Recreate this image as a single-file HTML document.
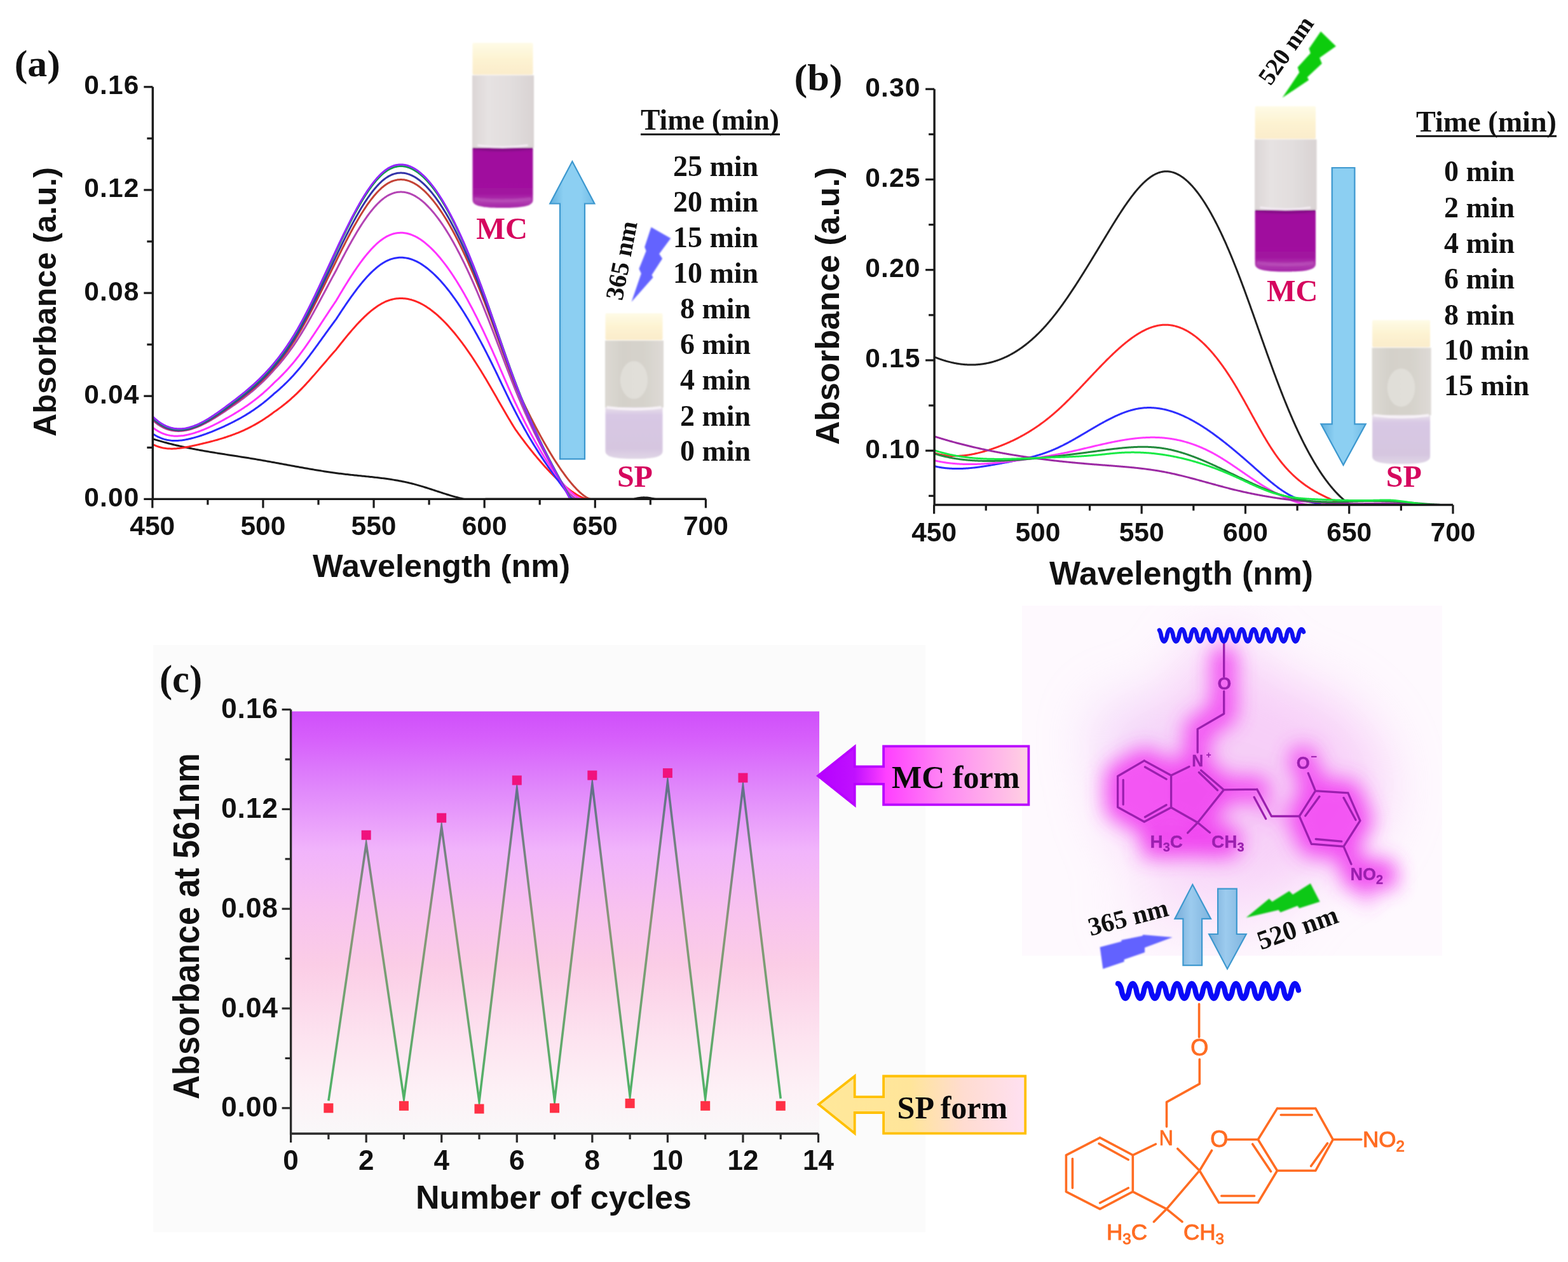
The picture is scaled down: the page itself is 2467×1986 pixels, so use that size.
<!DOCTYPE html>
<html><head><meta charset="utf-8"><title>Spiropyran photoswitching UV-vis figure</title>
<style>html,body{margin:0;padding:0;background:#fff;}body{width:2467px;height:1986px;overflow:hidden;}svg{display:block;}</style>
</head><body>
<svg xmlns="http://www.w3.org/2000/svg" width="2467" height="1986" viewBox="0 0 2467 1986">
<defs>
<linearGradient id="capG" x1="0" y1="0" x2="0" y2="1">
  <stop offset="0" stop-color="#fefbe6"/><stop offset="0.5" stop-color="#fdf3d2"/><stop offset="1" stop-color="#fbeccb"/>
</linearGradient>
<linearGradient id="glassG" x1="0" y1="0" x2="1" y2="0">
  <stop offset="0" stop-color="#dcd6d6"/><stop offset="0.25" stop-color="#e6e2e2"/><stop offset="0.6" stop-color="#e2dede"/><stop offset="1" stop-color="#d9d3d3"/>
</linearGradient>
<linearGradient id="glassSP" x1="0" y1="0" x2="1" y2="0">
  <stop offset="0" stop-color="#dcd9d3"/><stop offset="0.3" stop-color="#d4d1ca"/><stop offset="0.7" stop-color="#d6d3cc"/><stop offset="1" stop-color="#dedad6"/>
</linearGradient>
<linearGradient id="liqMC" x1="0" y1="0" x2="0" y2="1">
  <stop offset="0" stop-color="#8e0a90"/><stop offset="0.08" stop-color="#a0109e"/><stop offset="0.75" stop-color="#a1129f"/><stop offset="0.9" stop-color="#b03cb0"/><stop offset="1" stop-color="#a524a8"/>
</linearGradient>
<linearGradient id="liqSP" x1="0" y1="0" x2="0" y2="1">
  <stop offset="0" stop-color="#e8e0ea"/><stop offset="0.15" stop-color="#d8c8e4"/><stop offset="0.8" stop-color="#d6c6e0"/><stop offset="1" stop-color="#e0d6e6"/>
</linearGradient>
<linearGradient id="arrG" x1="0" y1="0" x2="1" y2="0">
  <stop offset="0" stop-color="#62b0de"/><stop offset="0.3" stop-color="#8ccff2"/><stop offset="0.7" stop-color="#8ccff2"/><stop offset="1" stop-color="#72bce6"/>
</linearGradient>
<filter id="soft1" x="-5%" y="-5%" width="110%" height="110%"><feGaussianBlur stdDeviation="0.8"/></filter>

<linearGradient id="plotC" x1="0" y1="0" x2="0" y2="1">
  <stop offset="0" stop-color="#cf4ffa"/><stop offset="0.06" stop-color="#d65efb"/><stop offset="0.18" stop-color="#e087fb"/>
  <stop offset="0.33" stop-color="#f1b4fb"/><stop offset="0.47" stop-color="#f8c2ef"/><stop offset="0.6" stop-color="#fbcde6"/>
  <stop offset="0.78" stop-color="#fde4f0"/><stop offset="0.9" stop-color="#fdf1f6"/><stop offset="1" stop-color="#f9f8f9"/>
</linearGradient>
<linearGradient id="lineC" gradientUnits="userSpaceOnUse" x1="0" y1="1210" x2="0" y2="1745">
  <stop offset="0" stop-color="#5d6c8c"/><stop offset="0.45" stop-color="#8a9678"/><stop offset="1" stop-color="#4cb466"/>
</linearGradient>
<linearGradient id="mcCall" gradientUnits="userSpaceOnUse" x1="1284" y1="0" x2="1619" y2="0">
  <stop offset="0" stop-color="#b400ff"/><stop offset="0.18" stop-color="#c010ff"/><stop offset="0.33" stop-color="#ff40ff"/>
  <stop offset="0.6" stop-color="#ff88f4"/><stop offset="1" stop-color="#ffd2e2"/>
</linearGradient>
<linearGradient id="spCall" gradientUnits="userSpaceOnUse" x1="1284" y1="0" x2="1614" y2="0">
  <stop offset="0" stop-color="#ffe89a"/><stop offset="0.45" stop-color="#ffe59a"/><stop offset="0.7" stop-color="#ffdcd0"/><stop offset="1" stop-color="#ffe0f2"/>
</linearGradient>

<filter id="glowBig" x="-50%" y="-50%" width="200%" height="200%"><feGaussianBlur stdDeviation="45"/></filter>
<filter id="glowMid" x="-50%" y="-50%" width="200%" height="200%"><feGaussianBlur stdDeviation="16"/></filter>
<filter id="glowNear" x="-50%" y="-50%" width="200%" height="200%"><feGaussianBlur stdDeviation="7"/></filter>
<clipPath id="mcBox"><rect x="1608" y="953" width="661" height="551"/></clipPath>
<linearGradient id="arrG2" x1="0" y1="0" x2="1" y2="0">
  <stop offset="0" stop-color="#78acd8"/><stop offset="0.45" stop-color="#9ccbee"/><stop offset="1" stop-color="#7fb4de"/>
</linearGradient>
</defs>
<rect width="2467" height="1986" fill="#ffffff"/>
<rect x="241" y="1015" width="1215" height="924" fill="#fbfbfb"/>
<rect x="457.6" y="1119.5" width="831.42" height="664.5" fill="url(#plotC)"/>
<path d="M516.88,1732.3 L576.16,1328.17 L635.44,1728.77 L694.72,1301.12 L754,1733.48 L813.28,1241.93 L872.56,1732.3 L931.84,1234.09 L991.12,1724.85 L1050.4,1230.56 L1109.68,1728.77 L1168.96,1238.01 L1228.24,1728.77" fill="none" stroke="url(#lineC)" stroke-width="3.6" stroke-linejoin="miter" stroke-miterlimit="20"/>
<rect x="509.38" y="1736.3" width="15" height="15" fill="#ff3045"/>
<rect x="568.66" y="1306.67" width="15" height="15" fill="#f0127e"/>
<rect x="627.94" y="1732.77" width="15" height="15" fill="#ff3045"/>
<rect x="687.22" y="1279.62" width="15" height="15" fill="#f0127e"/>
<rect x="746.5" y="1737.48" width="15" height="15" fill="#ff3045"/>
<rect x="805.78" y="1220.43" width="15" height="15" fill="#f0127e"/>
<rect x="865.06" y="1736.3" width="15" height="15" fill="#ff3045"/>
<rect x="924.34" y="1212.59" width="15" height="15" fill="#f0127e"/>
<rect x="983.62" y="1728.85" width="15" height="15" fill="#ff3045"/>
<rect x="1042.9" y="1209.06" width="15" height="15" fill="#f0127e"/>
<rect x="1102.18" y="1732.77" width="15" height="15" fill="#ff3045"/>
<rect x="1161.46" y="1216.51" width="15" height="15" fill="#f0127e"/>
<rect x="1220.74" y="1732.77" width="15" height="15" fill="#ff3045"/>
<path d="M457.6,1116.6 V1784 H1287.52" fill="none" stroke="#2a2a2a" stroke-width="3.4"/>
<line x1="443.6" y1="1743.8" x2="457.6" y2="1743.8" stroke="#2a2a2a" stroke-width="3.2" />
<line x1="448.6" y1="1665.4" x2="457.6" y2="1665.4" stroke="#2a2a2a" stroke-width="3.2" />
<line x1="443.6" y1="1587" x2="457.6" y2="1587" stroke="#2a2a2a" stroke-width="3.2" />
<line x1="448.6" y1="1508.6" x2="457.6" y2="1508.6" stroke="#2a2a2a" stroke-width="3.2" />
<line x1="443.6" y1="1430.2" x2="457.6" y2="1430.2" stroke="#2a2a2a" stroke-width="3.2" />
<line x1="448.6" y1="1351.8" x2="457.6" y2="1351.8" stroke="#2a2a2a" stroke-width="3.2" />
<line x1="443.6" y1="1273.4" x2="457.6" y2="1273.4" stroke="#2a2a2a" stroke-width="3.2" />
<line x1="448.6" y1="1195" x2="457.6" y2="1195" stroke="#2a2a2a" stroke-width="3.2" />
<line x1="443.6" y1="1116.6" x2="457.6" y2="1116.6" stroke="#2a2a2a" stroke-width="3.2" />
<line x1="457.6" y1="1784" x2="457.6" y2="1798" stroke="#2a2a2a" stroke-width="3.2" />
<line x1="516.88" y1="1784" x2="516.88" y2="1793" stroke="#2a2a2a" stroke-width="3.2" />
<line x1="576.16" y1="1784" x2="576.16" y2="1798" stroke="#2a2a2a" stroke-width="3.2" />
<line x1="635.44" y1="1784" x2="635.44" y2="1793" stroke="#2a2a2a" stroke-width="3.2" />
<line x1="694.72" y1="1784" x2="694.72" y2="1798" stroke="#2a2a2a" stroke-width="3.2" />
<line x1="754" y1="1784" x2="754" y2="1793" stroke="#2a2a2a" stroke-width="3.2" />
<line x1="813.28" y1="1784" x2="813.28" y2="1798" stroke="#2a2a2a" stroke-width="3.2" />
<line x1="872.56" y1="1784" x2="872.56" y2="1793" stroke="#2a2a2a" stroke-width="3.2" />
<line x1="931.84" y1="1784" x2="931.84" y2="1798" stroke="#2a2a2a" stroke-width="3.2" />
<line x1="991.12" y1="1784" x2="991.12" y2="1793" stroke="#2a2a2a" stroke-width="3.2" />
<line x1="1050.4" y1="1784" x2="1050.4" y2="1798" stroke="#2a2a2a" stroke-width="3.2" />
<line x1="1109.68" y1="1784" x2="1109.68" y2="1793" stroke="#2a2a2a" stroke-width="3.2" />
<line x1="1168.96" y1="1784" x2="1168.96" y2="1798" stroke="#2a2a2a" stroke-width="3.2" />
<line x1="1228.24" y1="1784" x2="1228.24" y2="1793" stroke="#2a2a2a" stroke-width="3.2" />
<line x1="1287.52" y1="1784" x2="1287.52" y2="1798" stroke="#2a2a2a" stroke-width="3.2" />
<text x="437.8" y="1757.3" font-family="'Liberation Sans', Arial, sans-serif" font-size="44.5" font-weight="bold" fill="#111" text-anchor="end" letter-spacing="0.8">0.00</text>
<text x="437.8" y="1600.5" font-family="'Liberation Sans', Arial, sans-serif" font-size="44.5" font-weight="bold" fill="#111" text-anchor="end" letter-spacing="0.8">0.04</text>
<text x="437.8" y="1443.7" font-family="'Liberation Sans', Arial, sans-serif" font-size="44.5" font-weight="bold" fill="#111" text-anchor="end" letter-spacing="0.8">0.08</text>
<text x="437.8" y="1286.9" font-family="'Liberation Sans', Arial, sans-serif" font-size="44.5" font-weight="bold" fill="#111" text-anchor="end" letter-spacing="0.8">0.12</text>
<text x="437.8" y="1130.1" font-family="'Liberation Sans', Arial, sans-serif" font-size="44.5" font-weight="bold" fill="#111" text-anchor="end" letter-spacing="0.8">0.16</text>
<text x="457.6" y="1841" font-family="'Liberation Sans', Arial, sans-serif" font-size="44" font-weight="bold" fill="#111" text-anchor="middle" >0</text>
<text x="576.16" y="1841" font-family="'Liberation Sans', Arial, sans-serif" font-size="44" font-weight="bold" fill="#111" text-anchor="middle" >2</text>
<text x="694.72" y="1841" font-family="'Liberation Sans', Arial, sans-serif" font-size="44" font-weight="bold" fill="#111" text-anchor="middle" >4</text>
<text x="813.28" y="1841" font-family="'Liberation Sans', Arial, sans-serif" font-size="44" font-weight="bold" fill="#111" text-anchor="middle" >6</text>
<text x="931.84" y="1841" font-family="'Liberation Sans', Arial, sans-serif" font-size="44" font-weight="bold" fill="#111" text-anchor="middle" >8</text>
<text x="1050.4" y="1841" font-family="'Liberation Sans', Arial, sans-serif" font-size="44" font-weight="bold" fill="#111" text-anchor="middle" >10</text>
<text x="1168.96" y="1841" font-family="'Liberation Sans', Arial, sans-serif" font-size="44" font-weight="bold" fill="#111" text-anchor="middle" >12</text>
<text x="1287.52" y="1841" font-family="'Liberation Sans', Arial, sans-serif" font-size="44" font-weight="bold" fill="#111" text-anchor="middle" >14</text>
<text x="654" y="1902.3" font-family="'Liberation Sans', Arial, sans-serif" font-size="52" font-weight="bold" fill="#111" text-anchor="start" textLength="434" lengthAdjust="spacingAndGlyphs">Number of cycles</text>
<text transform="translate(313.3,1730) rotate(-90)" font-family="'Liberation Sans', Arial, sans-serif" font-size="56.5" font-weight="bold" fill="#111" textLength="545" lengthAdjust="spacingAndGlyphs">Absorbance at 561nm</text>
<text x="251" y="1089" font-family="'Liberation Serif', 'Times New Roman', serif" font-size="62" font-weight="bold" fill="#111" text-anchor="start" textLength="67" lengthAdjust="spacingAndGlyphs">(c)</text>
<rect x="1608" y="953" width="661" height="551" fill="#fef9fe"/>
<g clip-path="url(#mcBox)">
<g filter="url(#glowBig)" opacity="0.5"><ellipse cx="1960" cy="1235" rx="220" ry="170" fill="#f0a4f2"/><ellipse cx="1925" cy="1090" rx="70" ry="90" fill="#f0a4f2"/><ellipse cx="1790" cy="1160" rx="70" ry="60" fill="#e8b0f4"/><ellipse cx="1900" cy="1430" rx="130" ry="45" fill="#f6d0f6"/></g>
<g filter="url(#glowMid)" opacity="0.95"><polygon points="1800.3,1197.1 1842.6,1220.3 1842.6,1270.7 1800.3,1293.3 1758.6,1270.2 1758.6,1221.5" fill="#f248f2" stroke="none" stroke-width="0" /><polygon points="1842.6,1220.3 1884.5,1207 1925.5,1242.9 1884.4,1294.5 1842.6,1270.7" fill="#f248f2" stroke="none" stroke-width="0" /><polygon points="2044.3,1284.5 2069.6,1244.6 2120.9,1247.8 2139.9,1291.5 2114,1332.1 2063.3,1328.2" fill="#f248f2" stroke="none" stroke-width="0" /><path d="M1800.3,1197.1 L1842.6,1220.3 M1842.6,1220.3 L1842.6,1270.7 M1842.6,1270.7 L1800.3,1293.3 M1800.3,1293.3 L1758.6,1270.2 M1758.6,1270.2 L1758.6,1221.5 M1758.6,1221.5 L1800.3,1197.1 M1801.5,1207 L1835.1,1226.1 M1767.2,1227.3 L1767.2,1266.1 M1801.5,1285.8 L1835.1,1266.7 M1842.6,1220.3 L1871,1206.4 M1889.6,1212.3 L1925.5,1242.9 M1886.4,1215.5 L1915.5,1243.5 M1925.5,1242.9 L1884.4,1294.5 M1842.6,1270.7 L1884.4,1294.5 M1884.4,1294.5 L1868.7,1310.7 M1884.4,1294.5 L1903.5,1310.2 M1925.7,1035 L1925.7,1065 M1925.7,1088 L1925.7,1123.2 M1925.7,1123.2 L1884.2,1147.4 M1884.2,1147.4 L1884.2,1184 M1925.5,1242.9 L1977.7,1242.1 M2044.3,1284.5 L2069.6,1244.6 M2069.6,1244.6 L2120.9,1247.8 M2120.9,1247.8 L2139.9,1291.5 M2139.9,1291.5 L2114,1332.1 M2114,1332.1 L2063.3,1328.2 M2063.3,1328.2 L2044.3,1284.5 M2053.8,1283.9 L2075.9,1253.5 M2114,1255.4 L2133,1290.2 M2070.2,1320.5 L2110.8,1324.2 M2069.6,1244.6 L2058.2,1216.7 M2114,1332.1 L2126,1359.9" stroke="#f248f2" stroke-width="40" stroke-linecap="round" fill="none"/><path d="M1975,1245 L2000,1282" stroke="#f248f2" stroke-width="16" stroke-linecap="round" fill="none" opacity="0.6"/><circle cx="2050" cy="1196" r="22" fill="#f248f2"/><text x="1810" y="1334" font-family="'Liberation Sans', Arial, sans-serif" font-size="30" fill="#f040f0" stroke="#f040f0" stroke-width="30">H3C CH3</text><text x="2124" y="1385" font-family="'Liberation Sans', Arial, sans-serif" font-size="30" fill="#f040f0" stroke="#f040f0" stroke-width="26">NO2</text></g>
<g filter="url(#glowNear)" opacity="0.6"><polygon points="1800.3,1197.1 1842.6,1220.3 1842.6,1270.7 1800.3,1293.3 1758.6,1270.2 1758.6,1221.5" fill="#f45af4" stroke="none" stroke-width="0" /><polygon points="2044.3,1284.5 2069.6,1244.6 2120.9,1247.8 2139.9,1291.5 2114,1332.1 2063.3,1328.2" fill="#f45af4" stroke="none" stroke-width="0" /><polygon points="1842.6,1220.3 1884.5,1207 1925.5,1242.9 1884.4,1294.5 1842.6,1270.7" fill="#f050f0" stroke="none" stroke-width="0" /></g>
</g>
<path d="M1800.3,1197.1 L1842.6,1220.3 M1842.6,1220.3 L1842.6,1270.7 M1842.6,1270.7 L1800.3,1293.3 M1800.3,1293.3 L1758.6,1270.2 M1758.6,1270.2 L1758.6,1221.5 M1758.6,1221.5 L1800.3,1197.1 M1801.5,1207 L1835.1,1226.1 M1767.2,1227.3 L1767.2,1266.1 M1801.5,1285.8 L1835.1,1266.7 M1842.6,1220.3 L1871,1206.4 M1889.6,1212.3 L1925.5,1242.9 M1886.4,1215.5 L1915.5,1243.5 M1925.5,1242.9 L1884.4,1294.5 M1842.6,1270.7 L1884.4,1294.5 M1884.4,1294.5 L1868.7,1310.7 M1884.4,1294.5 L1903.5,1310.2 M1925.7,1008 L1925.7,1065 M1925.7,1088 L1925.7,1123.2 M1925.7,1123.2 L1884.2,1147.4 M1884.2,1147.4 L1884.2,1184 M1925.5,1242.9 L1977.7,1242.1 M1977.7,1242.1 L2000.5,1284.5 M1973.2,1254.5 L1991.6,1288.5 M2000.5,1284.5 L2044.3,1284.5 M2044.3,1284.5 L2069.6,1244.6 M2069.6,1244.6 L2120.9,1247.8 M2120.9,1247.8 L2139.9,1291.5 M2139.9,1291.5 L2114,1332.1 M2114,1332.1 L2063.3,1328.2 M2063.3,1328.2 L2044.3,1284.5 M2053.8,1283.9 L2075.9,1253.5 M2114,1255.4 L2133,1290.2 M2070.2,1320.5 L2110.8,1324.2 M2069.6,1244.6 L2058.2,1216.7 M2114,1332.1 L2126,1359.9" stroke="#9a1fae" stroke-width="3.3" stroke-linecap="round" fill="none"/>
<path d="M1824,991.64 L1824.5,992.49 L1825,993.54 L1825.5,994.78 L1826,996.26 L1826.5,998.09 L1827,1001.06 L1827.5,1003.01 L1828,1004.54 L1828.5,1005.83 L1829,1006.92 L1829.5,1007.8 L1830,1008.5 L1830.5,1009 L1831,1009.3 L1831.5,1009.4 L1832,1009.3 L1832.5,1009 L1833,1008.5 L1833.5,1007.8 L1834,1006.92 L1834.5,1005.83 L1835,1004.54 L1835.5,1003.01 L1836,1001.06 L1836.5,998.09 L1837,996.26 L1837.5,994.78 L1838,993.54 L1838.5,992.49 L1839,991.64 L1839.5,990.98 L1840,990.53 L1840.5,990.26 L1841,990.2 L1841.5,990.34 L1842,990.69 L1842.5,991.22 L1843,991.96 L1843.5,992.89 L1844,994.01 L1844.5,995.34 L1845,996.94 L1845.5,999.05 L1846,1001.92 L1846.5,1003.66 L1847,1005.08 L1847.5,1006.29 L1848,1007.29 L1848.5,1008.11 L1849,1008.72 L1849.5,1009.14 L1850,1009.36 L1850.5,1009.38 L1851,1009.2 L1851.5,1008.82 L1852,1008.25 L1852.5,1007.47 L1853,1006.51 L1853.5,1005.34 L1854,1003.96 L1854.5,1002.3 L1855,999.8 L1855.5,997.3 L1856,995.64 L1856.5,994.26 L1857,993.09 L1857.5,992.13 L1858,991.35 L1858.5,990.78 L1859,990.4 L1859.5,990.22 L1860,990.24 L1860.5,990.46 L1861,990.88 L1861.5,991.49 L1862,992.31 L1862.5,993.31 L1863,994.52 L1863.5,995.94 L1864,997.68 L1864.5,1000.55 L1865,1002.66 L1865.5,1004.26 L1866,1005.59 L1866.5,1006.71 L1867,1007.64 L1867.5,1008.38 L1868,1008.91 L1868.5,1009.26 L1869,1009.4 L1869.5,1009.34 L1870,1009.07 L1870.5,1008.62 L1871,1007.96 L1871.5,1007.11 L1872,1006.06 L1872.5,1004.82 L1873,1003.34 L1873.5,1001.51 L1874,998.54 L1874.5,996.59 L1875,995.06 L1875.5,993.77 L1876,992.68 L1876.5,991.8 L1877,991.1 L1877.5,990.6 L1878,990.3 L1878.5,990.2 L1879,990.3 L1879.5,990.6 L1880,991.1 L1880.5,991.8 L1881,992.68 L1881.5,993.77 L1882,995.06 L1882.5,996.59 L1883,998.54 L1883.5,1001.51 L1884,1003.34 L1884.5,1004.82 L1885,1006.06 L1885.5,1007.11 L1886,1007.96 L1886.5,1008.62 L1887,1009.07 L1887.5,1009.34 L1888,1009.4 L1888.5,1009.26 L1889,1008.91 L1889.5,1008.38 L1890,1007.64 L1890.5,1006.71 L1891,1005.59 L1891.5,1004.26 L1892,1002.66 L1892.5,1000.55 L1893,997.68 L1893.5,995.94 L1894,994.52 L1894.5,993.31 L1895,992.31 L1895.5,991.49 L1896,990.88 L1896.5,990.46 L1897,990.24 L1897.5,990.22 L1898,990.4 L1898.5,990.78 L1899,991.35 L1899.5,992.13 L1900,993.09 L1900.5,994.26 L1901,995.64 L1901.5,997.3 L1902,999.8 L1902.5,1002.3 L1903,1003.96 L1903.5,1005.34 L1904,1006.51 L1904.5,1007.47 L1905,1008.25 L1905.5,1008.82 L1906,1009.2 L1906.5,1009.38 L1907,1009.36 L1907.5,1009.14 L1908,1008.72 L1908.5,1008.11 L1909,1007.29 L1909.5,1006.29 L1910,1005.08 L1910.5,1003.66 L1911,1001.92 L1911.5,999.05 L1912,996.94 L1912.5,995.34 L1913,994.01 L1913.5,992.89 L1914,991.96 L1914.5,991.22 L1915,990.69 L1915.5,990.34 L1916,990.2 L1916.5,990.26 L1917,990.53 L1917.5,990.98 L1918,991.64 L1918.5,992.49 L1919,993.54 L1919.5,994.78 L1920,996.26 L1920.5,998.09 L1921,1001.06 L1921.5,1003.01 L1922,1004.54 L1922.5,1005.83 L1923,1006.92 L1923.5,1007.8 L1924,1008.5 L1924.5,1009 L1925,1009.3 L1925.5,1009.4 L1926,1009.3 L1926.5,1009 L1927,1008.5 L1927.5,1007.8 L1928,1006.92 L1928.5,1005.83 L1929,1004.54 L1929.5,1003.01 L1930,1001.06 L1930.5,998.09 L1931,996.26 L1931.5,994.78 L1932,993.54 L1932.5,992.49 L1933,991.64 L1933.5,990.98 L1934,990.53 L1934.5,990.26 L1935,990.2 L1935.5,990.34 L1936,990.69 L1936.5,991.22 L1937,991.96 L1937.5,992.89 L1938,994.01 L1938.5,995.34 L1939,996.94 L1939.5,999.05 L1940,1001.92 L1940.5,1003.66 L1941,1005.08 L1941.5,1006.29 L1942,1007.29 L1942.5,1008.11 L1943,1008.72 L1943.5,1009.14 L1944,1009.36 L1944.5,1009.38 L1945,1009.2 L1945.5,1008.82 L1946,1008.25 L1946.5,1007.47 L1947,1006.51 L1947.5,1005.34 L1948,1003.96 L1948.5,1002.3 L1949,999.8 L1949.5,997.3 L1950,995.64 L1950.5,994.26 L1951,993.09 L1951.5,992.13 L1952,991.35 L1952.5,990.78 L1953,990.4 L1953.5,990.22 L1954,990.24 L1954.5,990.46 L1955,990.88 L1955.5,991.49 L1956,992.31 L1956.5,993.31 L1957,994.52 L1957.5,995.94 L1958,997.68 L1958.5,1000.55 L1959,1002.66 L1959.5,1004.26 L1960,1005.59 L1960.5,1006.71 L1961,1007.64 L1961.5,1008.38 L1962,1008.91 L1962.5,1009.26 L1963,1009.4 L1963.5,1009.34 L1964,1009.07 L1964.5,1008.62 L1965,1007.96 L1965.5,1007.11 L1966,1006.06 L1966.5,1004.82 L1967,1003.34 L1967.5,1001.51 L1968,998.54 L1968.5,996.59 L1969,995.06 L1969.5,993.77 L1970,992.68 L1970.5,991.8 L1971,991.1 L1971.5,990.6 L1972,990.3 L1972.5,990.2 L1973,990.3 L1973.5,990.6 L1974,991.1 L1974.5,991.8 L1975,992.68 L1975.5,993.77 L1976,995.06 L1976.5,996.59 L1977,998.54 L1977.5,1001.51 L1978,1003.34 L1978.5,1004.82 L1979,1006.06 L1979.5,1007.11 L1980,1007.96 L1980.5,1008.62 L1981,1009.07 L1981.5,1009.34 L1982,1009.4 L1982.5,1009.26 L1983,1008.91 L1983.5,1008.38 L1984,1007.64 L1984.5,1006.71 L1985,1005.59 L1985.5,1004.26 L1986,1002.66 L1986.5,1000.55 L1987,997.68 L1987.5,995.94 L1988,994.52 L1988.5,993.31 L1989,992.31 L1989.5,991.49 L1990,990.88 L1990.5,990.46 L1991,990.24 L1991.5,990.22 L1992,990.4 L1992.5,990.78 L1993,991.35 L1993.5,992.13 L1994,993.09 L1994.5,994.26 L1995,995.64 L1995.5,997.3 L1996,999.8 L1996.5,1002.3 L1997,1003.96 L1997.5,1005.34 L1998,1006.51 L1998.5,1007.47 L1999,1008.25 L1999.5,1008.82 L2000,1009.2 L2000.5,1009.38 L2001,1009.36 L2001.5,1009.14 L2002,1008.72 L2002.5,1008.11 L2003,1007.29 L2003.5,1006.29 L2004,1005.08 L2004.5,1003.66 L2005,1001.92 L2005.5,999.05 L2006,996.94 L2006.5,995.34 L2007,994.01 L2007.5,992.89 L2008,991.96 L2008.5,991.22 L2009,990.69 L2009.5,990.34 L2010,990.2 L2010.5,990.26 L2011,990.53 L2011.5,990.98 L2012,991.64 L2012.5,992.49 L2013,993.54 L2013.5,994.78 L2014,996.26 L2014.5,998.09 L2015,1001.06 L2015.5,1003.01 L2016,1004.54 L2016.5,1005.83 L2017,1006.92 L2017.5,1007.8 L2018,1008.5 L2018.5,1009 L2019,1009.3 L2019.5,1009.4 L2020,1009.3 L2020.5,1009 L2021,1008.5 L2021.5,1007.8 L2022,1006.92 L2022.5,1005.83 L2023,1004.54 L2023.5,1003.01 L2024,1001.06 L2024.5,998.09 L2025,996.26 L2025.5,994.78 L2026,993.54 L2026.5,992.49 L2027,991.64 L2027.5,990.98 L2028,990.53 L2028.5,990.26 L2029,990.2 L2029.5,990.34 L2030,990.69 L2030.5,991.22 L2031,991.96 L2031.5,992.89 L2032,994.01 L2032.5,995.34 L2033,996.94 L2033.5,999.05 L2034,1001.92 L2034.5,1003.66 L2035,1005.08 L2035.5,1006.29 L2036,1007.29 L2036.5,1008.11 L2037,1008.72 L2037.5,1009.14 L2038,1009.36 L2038.5,1009.38 L2039,1009.2 L2039.5,1008.82 L2040,1008.25 L2040.5,1007.47 L2041,1006.51 L2041.5,1005.34 L2042,1003.96 L2042.5,1002.3 L2043,999.8 L2043.5,997.3 L2044,995.64 L2044.5,994.26 L2045,993.09 L2045.5,992.13 L2046,991.35 L2046.5,990.78 L2047,990.4 L2047.5,990.22 L2048,990.24 L2048.5,990.46 L2049,990.88 L2049.5,991.49 L2050,992.31 L2050.5,993.31 L2051,994.52" fill="none" stroke="#1010f2" stroke-width="6.6" stroke-linecap="round" stroke-linejoin="round"/>
<text x="1926.4" y="1085.3" font-family="'Liberation Sans', Arial, sans-serif" font-size="28" font-weight="bold" fill="#9a1fae" text-anchor="middle" stroke="#9a1fae" stroke-width="0.3">O</text>
<text x="1884.3" y="1205.6" font-family="'Liberation Sans', Arial, sans-serif" font-size="25" font-weight="bold" fill="#9a1fae" text-anchor="middle" stroke="#9a1fae" stroke-width="0.3">N</text>
<text x="1901.5" y="1193" font-family="'Liberation Sans', Arial, sans-serif" font-size="14" font-weight="bold" fill="#9a1fae" text-anchor="middle" >+</text>
<text x="2050.2" y="1209.6" font-family="'Liberation Sans', Arial, sans-serif" font-size="27" font-weight="bold" fill="#9a1fae" text-anchor="middle" stroke="#9a1fae" stroke-width="0.3">O</text>
<line x1="2063" y1="1190.8" x2="2071.5" y2="1190.8" stroke="#9a1fae" stroke-width="2" />
<text x="1809.5" y="1334" font-family="'Liberation Sans', Arial, sans-serif" font-size="28" font-weight="bold" fill="#9a1fae" stroke="#9a1fae" stroke-width="0.3">H<tspan font-size="20" dy="6">3</tspan><tspan dy="-6">C</tspan></text>
<text x="1906" y="1334" font-family="'Liberation Sans', Arial, sans-serif" font-size="28" font-weight="bold" fill="#9a1fae" stroke="#9a1fae" stroke-width="0.3">CH<tspan font-size="20" dy="6">3</tspan></text>
<text x="2124.5" y="1384.5" font-family="'Liberation Sans', Arial, sans-serif" font-size="27" font-weight="bold" fill="#9a1fae" stroke="#9a1fae" stroke-width="0.3">NO<tspan font-size="20" dy="6">2</tspan></text>
<polygon points="1876.3,1392.1 1905,1445.9 1891.1,1445.9 1891.1,1519.1 1861.4,1519.1 1861.4,1445.9 1848.4,1445.9" fill="url(#arrG2)" stroke="#3d98cf" stroke-width="2.2" stroke-linejoin="miter"/>
<polygon points="1916.1,1398.6 1945.8,1398.6 1945.8,1470 1960.7,1470 1931,1524.7 1902.2,1470 1916.1,1470" fill="url(#arrG2)" stroke="#3d98cf" stroke-width="2.2" stroke-linejoin="miter"/>
<polygon points="1730.6,1490.4 1764,1481.7 1764.9,1479.3 1797.4,1472.8 1798.3,1470.9 1844.7,1475 1801.1,1491.3 1801.1,1498.7 1768.6,1509.9 1768.6,1513.6 1735.3,1524.7" fill="#6262ff" stroke="none" stroke-width="0" filter="url(#soft1)"/>
<polygon points="1960.7,1444 1996.8,1414.3 2001.5,1419 2028.4,1402.3 2034,1407.8 2061.8,1390.2 2076.6,1419 2044.2,1429.2 2041.4,1425.5 2014.5,1435.7 2011.7,1432" fill="#10c818" stroke="none" stroke-width="0" filter="url(#soft1)"/>
<text transform="translate(1716,1473) rotate(-14.5)" font-family="'Liberation Serif', 'Times New Roman', serif" font-size="41" font-weight="bold" fill="#111">365 nm</text>
<text transform="translate(1984,1495) rotate(-19.5)" font-family="'Liberation Serif', 'Times New Roman', serif" font-size="42" font-weight="bold" fill="#111">520 nm</text>
<path d="M1730.6,1790.4 L1782.3,1817.8 M1979.3,1793.3 L2009.5,1744.4 M1782.3,1817.8 L1782.3,1875.3 M2009.5,1744.4 L2069.9,1744.4 M1782.3,1875.3 L1730.6,1902.6 M2069.9,1744.4 L2097.2,1793.3 M1730.6,1902.6 L1677.4,1875.3 M2097.2,1793.3 L2069.9,1842.2 M1677.4,1875.3 L1677.4,1817.8 M2069.9,1842.2 L2009.5,1842.2 M1677.4,1817.8 L1730.6,1790.4 M2009.5,1842.2 L1979.3,1793.3 M1729.1,1799.6 L1775.2,1825 M1687.4,1823.5 L1687.4,1869.5 M1730.6,1893 L1775.2,1869.5 M2015.3,1754.5 L2064.2,1754.5 M2088.6,1799.1 L2062.7,1835 M1970.7,1800.5 L1999.5,1843.6 M1818.3,1800.5 L1782.3,1817.8 M1852.8,1807.7 L1887.3,1842.2 M1782.3,1875.3 L1835.5,1902.6 M1835.5,1902.6 L1887.3,1842.2 M1835.5,1902.6 L1815.4,1922.7 M1835.5,1902.6 L1860,1922.7 M1887.3,1842.2 L1906.5,1810.5 M1932,1793.3 L1979.3,1793.3 M2009.5,1842.2 L1979.3,1892.5 M1979.3,1892.5 L1917.5,1892.5 M1921.8,1882 L1973.6,1882 M1917.5,1892.5 L1887.3,1842.2 M2097.2,1793.3 L2141.8,1793.3 M1886.6,1580 L1886.6,1632 M1887.3,1667 L1887.3,1705.6 M1887.3,1705.6 L1835.5,1734.4 M1835.5,1734.4 L1835.5,1773" stroke="#ff6c22" stroke-width="3.6" stroke-linecap="round" fill="none"/>
<path d="M1759,1547.9 L1759.5,1547.98 L1760,1548.22 L1760.5,1548.62 L1761,1549.17 L1761.5,1549.88 L1762,1550.74 L1762.5,1551.76 L1763,1552.93 L1763.5,1554.28 L1764,1555.84 L1764.5,1557.74 L1765,1560.8 L1765.5,1562.82 L1766,1564.43 L1766.5,1565.81 L1767,1567.02 L1767.5,1568.07 L1768,1568.96 L1768.5,1569.7 L1769,1570.29 L1769.5,1570.71 L1770,1570.99 L1770.5,1571.1 L1771,1571.05 L1771.5,1570.84 L1772,1570.48 L1772.5,1569.95 L1773,1569.28 L1773.5,1568.44 L1774,1567.46 L1774.5,1566.32 L1775,1565 L1775.5,1563.49 L1776,1561.69 L1776.5,1558.73 L1777,1556.54 L1777.5,1554.87 L1778,1553.45 L1778.5,1552.21 L1779,1551.13 L1779.5,1550.2 L1780,1549.43 L1780.5,1548.82 L1781,1548.36 L1781.5,1548.06 L1782,1547.91 L1782.5,1547.93 L1783,1548.1 L1783.5,1548.44 L1784,1548.93 L1784.5,1549.58 L1785,1550.38 L1785.5,1551.33 L1786,1552.44 L1786.5,1553.72 L1787,1555.18 L1787.5,1556.92 L1788,1559.5 L1788.5,1562.08 L1789,1563.82 L1789.5,1565.28 L1790,1566.56 L1790.5,1567.67 L1791,1568.62 L1791.5,1569.42 L1792,1570.07 L1792.5,1570.56 L1793,1570.9 L1793.5,1571.07 L1794,1571.09 L1794.5,1570.94 L1795,1570.64 L1795.5,1570.18 L1796,1569.57 L1796.5,1568.8 L1797,1567.87 L1797.5,1566.79 L1798,1565.55 L1798.5,1564.13 L1799,1562.46 L1799.5,1560.27 L1800,1557.31 L1800.5,1555.51 L1801,1554 L1801.5,1552.68 L1802,1551.54 L1802.5,1550.56 L1803,1549.72 L1803.5,1549.05 L1804,1548.52 L1804.5,1548.16 L1805,1547.95 L1805.5,1547.9 L1806,1548.01 L1806.5,1548.29 L1807,1548.71 L1807.5,1549.3 L1808,1550.04 L1808.5,1550.93 L1809,1551.98 L1809.5,1553.19 L1810,1554.57 L1810.5,1556.18 L1811,1558.2 L1811.5,1561.26 L1812,1563.16 L1812.5,1564.72 L1813,1566.07 L1813.5,1567.24 L1814,1568.26 L1814.5,1569.12 L1815,1569.83 L1815.5,1570.38 L1816,1570.78 L1816.5,1571.02 L1817,1571.1 L1817.5,1571.02 L1818,1570.78 L1818.5,1570.38 L1819,1569.83 L1819.5,1569.12 L1820,1568.26 L1820.5,1567.24 L1821,1566.07 L1821.5,1564.72 L1822,1563.16 L1822.5,1561.26 L1823,1558.2 L1823.5,1556.18 L1824,1554.57 L1824.5,1553.19 L1825,1551.98 L1825.5,1550.93 L1826,1550.04 L1826.5,1549.3 L1827,1548.71 L1827.5,1548.29 L1828,1548.01 L1828.5,1547.9 L1829,1547.95 L1829.5,1548.16 L1830,1548.52 L1830.5,1549.05 L1831,1549.72 L1831.5,1550.56 L1832,1551.54 L1832.5,1552.68 L1833,1554 L1833.5,1555.51 L1834,1557.31 L1834.5,1560.27 L1835,1562.46 L1835.5,1564.13 L1836,1565.55 L1836.5,1566.79 L1837,1567.87 L1837.5,1568.8 L1838,1569.57 L1838.5,1570.18 L1839,1570.64 L1839.5,1570.94 L1840,1571.09 L1840.5,1571.07 L1841,1570.9 L1841.5,1570.56 L1842,1570.07 L1842.5,1569.42 L1843,1568.62 L1843.5,1567.67 L1844,1566.56 L1844.5,1565.28 L1845,1563.82 L1845.5,1562.08 L1846,1559.5 L1846.5,1556.92 L1847,1555.18 L1847.5,1553.72 L1848,1552.44 L1848.5,1551.33 L1849,1550.38 L1849.5,1549.58 L1850,1548.93 L1850.5,1548.44 L1851,1548.1 L1851.5,1547.93 L1852,1547.91 L1852.5,1548.06 L1853,1548.36 L1853.5,1548.82 L1854,1549.43 L1854.5,1550.2 L1855,1551.13 L1855.5,1552.21 L1856,1553.45 L1856.5,1554.87 L1857,1556.54 L1857.5,1558.73 L1858,1561.69 L1858.5,1563.49 L1859,1565 L1859.5,1566.32 L1860,1567.46 L1860.5,1568.44 L1861,1569.28 L1861.5,1569.95 L1862,1570.48 L1862.5,1570.84 L1863,1571.05 L1863.5,1571.1 L1864,1570.99 L1864.5,1570.71 L1865,1570.29 L1865.5,1569.7 L1866,1568.96 L1866.5,1568.07 L1867,1567.02 L1867.5,1565.81 L1868,1564.43 L1868.5,1562.82 L1869,1560.8 L1869.5,1557.74 L1870,1555.84 L1870.5,1554.28 L1871,1552.93 L1871.5,1551.76 L1872,1550.74 L1872.5,1549.88 L1873,1549.17 L1873.5,1548.62 L1874,1548.22 L1874.5,1547.98 L1875,1547.9 L1875.5,1547.98 L1876,1548.22 L1876.5,1548.62 L1877,1549.17 L1877.5,1549.88 L1878,1550.74 L1878.5,1551.76 L1879,1552.93 L1879.5,1554.28 L1880,1555.84 L1880.5,1557.74 L1881,1560.8 L1881.5,1562.82 L1882,1564.43 L1882.5,1565.81 L1883,1567.02 L1883.5,1568.07 L1884,1568.96 L1884.5,1569.7 L1885,1570.29 L1885.5,1570.71 L1886,1570.99 L1886.5,1571.1 L1887,1571.05 L1887.5,1570.84 L1888,1570.48 L1888.5,1569.95 L1889,1569.28 L1889.5,1568.44 L1890,1567.46 L1890.5,1566.32 L1891,1565 L1891.5,1563.49 L1892,1561.69 L1892.5,1558.73 L1893,1556.54 L1893.5,1554.87 L1894,1553.45 L1894.5,1552.21 L1895,1551.13 L1895.5,1550.2 L1896,1549.43 L1896.5,1548.82 L1897,1548.36 L1897.5,1548.06 L1898,1547.91 L1898.5,1547.93 L1899,1548.1 L1899.5,1548.44 L1900,1548.93 L1900.5,1549.58 L1901,1550.38 L1901.5,1551.33 L1902,1552.44 L1902.5,1553.72 L1903,1555.18 L1903.5,1556.92 L1904,1559.5 L1904.5,1562.08 L1905,1563.82 L1905.5,1565.28 L1906,1566.56 L1906.5,1567.67 L1907,1568.62 L1907.5,1569.42 L1908,1570.07 L1908.5,1570.56 L1909,1570.9 L1909.5,1571.07 L1910,1571.09 L1910.5,1570.94 L1911,1570.64 L1911.5,1570.18 L1912,1569.57 L1912.5,1568.8 L1913,1567.87 L1913.5,1566.79 L1914,1565.55 L1914.5,1564.13 L1915,1562.46 L1915.5,1560.27 L1916,1557.31 L1916.5,1555.51 L1917,1554 L1917.5,1552.68 L1918,1551.54 L1918.5,1550.56 L1919,1549.72 L1919.5,1549.05 L1920,1548.52 L1920.5,1548.16 L1921,1547.95 L1921.5,1547.9 L1922,1548.01 L1922.5,1548.29 L1923,1548.71 L1923.5,1549.3 L1924,1550.04 L1924.5,1550.93 L1925,1551.98 L1925.5,1553.19 L1926,1554.57 L1926.5,1556.18 L1927,1558.2 L1927.5,1561.26 L1928,1563.16 L1928.5,1564.72 L1929,1566.07 L1929.5,1567.24 L1930,1568.26 L1930.5,1569.12 L1931,1569.83 L1931.5,1570.38 L1932,1570.78 L1932.5,1571.02 L1933,1571.1 L1933.5,1571.02 L1934,1570.78 L1934.5,1570.38 L1935,1569.83 L1935.5,1569.12 L1936,1568.26 L1936.5,1567.24 L1937,1566.07 L1937.5,1564.72 L1938,1563.16 L1938.5,1561.26 L1939,1558.2 L1939.5,1556.18 L1940,1554.57 L1940.5,1553.19 L1941,1551.98 L1941.5,1550.93 L1942,1550.04 L1942.5,1549.3 L1943,1548.71 L1943.5,1548.29 L1944,1548.01 L1944.5,1547.9 L1945,1547.95 L1945.5,1548.16 L1946,1548.52 L1946.5,1549.05 L1947,1549.72 L1947.5,1550.56 L1948,1551.54 L1948.5,1552.68 L1949,1554 L1949.5,1555.51 L1950,1557.31 L1950.5,1560.27 L1951,1562.46 L1951.5,1564.13 L1952,1565.55 L1952.5,1566.79 L1953,1567.87 L1953.5,1568.8 L1954,1569.57 L1954.5,1570.18 L1955,1570.64 L1955.5,1570.94 L1956,1571.09 L1956.5,1571.07 L1957,1570.9 L1957.5,1570.56 L1958,1570.07 L1958.5,1569.42 L1959,1568.62 L1959.5,1567.67 L1960,1566.56 L1960.5,1565.28 L1961,1563.82 L1961.5,1562.08 L1962,1559.5 L1962.5,1556.92 L1963,1555.18 L1963.5,1553.72 L1964,1552.44 L1964.5,1551.33 L1965,1550.38 L1965.5,1549.58 L1966,1548.93 L1966.5,1548.44 L1967,1548.1 L1967.5,1547.93 L1968,1547.91 L1968.5,1548.06 L1969,1548.36 L1969.5,1548.82 L1970,1549.43 L1970.5,1550.2 L1971,1551.13 L1971.5,1552.21 L1972,1553.45 L1972.5,1554.87 L1973,1556.54 L1973.5,1558.73 L1974,1561.69 L1974.5,1563.49 L1975,1565 L1975.5,1566.32 L1976,1567.46 L1976.5,1568.44 L1977,1569.28 L1977.5,1569.95 L1978,1570.48 L1978.5,1570.84 L1979,1571.05 L1979.5,1571.1 L1980,1570.99 L1980.5,1570.71 L1981,1570.29 L1981.5,1569.7 L1982,1568.96 L1982.5,1568.07 L1983,1567.02 L1983.5,1565.81 L1984,1564.43 L1984.5,1562.82 L1985,1560.8 L1985.5,1557.74 L1986,1555.84 L1986.5,1554.28 L1987,1552.93 L1987.5,1551.76 L1988,1550.74 L1988.5,1549.88 L1989,1549.17 L1989.5,1548.62 L1990,1548.22 L1990.5,1547.98 L1991,1547.9 L1991.5,1547.98 L1992,1548.22 L1992.5,1548.62 L1993,1549.17 L1993.5,1549.88 L1994,1550.74 L1994.5,1551.76 L1995,1552.93 L1995.5,1554.28 L1996,1555.84 L1996.5,1557.74 L1997,1560.8 L1997.5,1562.82 L1998,1564.43 L1998.5,1565.81 L1999,1567.02 L1999.5,1568.07 L2000,1568.96 L2000.5,1569.7 L2001,1570.29 L2001.5,1570.71 L2002,1570.99 L2002.5,1571.1 L2003,1571.05 L2003.5,1570.84 L2004,1570.48 L2004.5,1569.95 L2005,1569.28 L2005.5,1568.44 L2006,1567.46 L2006.5,1566.32 L2007,1565 L2007.5,1563.49 L2008,1561.69 L2008.5,1558.73 L2009,1556.54 L2009.5,1554.87 L2010,1553.45 L2010.5,1552.21 L2011,1551.13 L2011.5,1550.2 L2012,1549.43 L2012.5,1548.82 L2013,1548.36 L2013.5,1548.06 L2014,1547.91 L2014.5,1547.93 L2015,1548.1 L2015.5,1548.44 L2016,1548.93 L2016.5,1549.58 L2017,1550.38 L2017.5,1551.33 L2018,1552.44 L2018.5,1553.72 L2019,1555.18 L2019.5,1556.92 L2020,1559.5 L2020.5,1562.08 L2021,1563.82 L2021.5,1565.28 L2022,1566.56 L2022.5,1567.67 L2023,1568.62 L2023.5,1569.42 L2024,1570.07 L2024.5,1570.56 L2025,1570.9 L2025.5,1571.07 L2026,1571.09 L2026.5,1570.94 L2027,1570.64 L2027.5,1570.18 L2028,1569.57 L2028.5,1568.8 L2029,1567.87 L2029.5,1566.79 L2030,1565.55 L2030.5,1564.13 L2031,1562.46 L2031.5,1560.27 L2032,1557.31 L2032.5,1555.51 L2033,1554 L2033.5,1552.68 L2034,1551.54 L2034.5,1550.56 L2035,1549.72 L2035.5,1549.05 L2036,1548.52 L2036.5,1548.16 L2037,1547.95 L2037.5,1547.9 L2038,1548.01 L2038.5,1548.29 L2039,1548.71 L2039.5,1549.3 L2040,1550.04 L2040.5,1550.93 L2041,1551.98 L2041.5,1553.19 L2042,1554.57 L2042.5,1556.18 L2043,1558.2" fill="none" stroke="#0a0af8" stroke-width="8.2" stroke-linecap="round" stroke-linejoin="round"/>
<text x="1887.3" y="1661" font-family="'Liberation Sans', Arial, sans-serif" font-size="36" font-weight="normal" fill="#ff6c22" text-anchor="middle" stroke="#ff6c22" stroke-width="1.0">O</text>
<text x="1834.8" y="1802" font-family="'Liberation Sans', Arial, sans-serif" font-size="34" font-weight="normal" fill="#ff6c22" text-anchor="middle" stroke="#ff6c22" stroke-width="1.0" textLength="22" lengthAdjust="spacingAndGlyphs">N</text>
<text x="1918.2" y="1805.4" font-family="'Liberation Sans', Arial, sans-serif" font-size="36" font-weight="normal" fill="#ff6c22" text-anchor="middle" stroke="#ff6c22" stroke-width="1.0">O</text>
<text x="1741" y="1951" font-family="'Liberation Sans', Arial, sans-serif" font-size="35" fill="#ff6c22" stroke="#ff6c22" stroke-width="1.0">H<tspan font-size="24" dy="7">3</tspan><tspan dy="-7">C</tspan></text>
<text x="1862" y="1951" font-family="'Liberation Sans', Arial, sans-serif" font-size="35" fill="#ff6c22" stroke="#ff6c22" stroke-width="1.0">CH<tspan font-size="24" dy="7">3</tspan></text>
<text x="2144" y="1805" font-family="'Liberation Sans', Arial, sans-serif" font-size="35" fill="#ff6c22" stroke="#ff6c22" stroke-width="1.0">NO<tspan font-size="24" dy="7">2</tspan></text>
<polygon points="1287,1221 1344.7,1175 1344.7,1206.4 1390.1,1206.4 1390.1,1174.3 1618.4,1174.3 1618.4,1266.4 1390.1,1266.4 1390.1,1233.8 1344.7,1233.8 1344.7,1267" fill="url(#mcCall)" stroke="#b800ff" stroke-width="3.8" stroke-linejoin="miter"/>
<polygon points="1288,1738.1 1344.7,1693.5 1344.7,1726.1 1390.1,1726.1 1390.1,1693.5 1613.2,1693.5 1613.2,1783.6 1390.1,1783.6 1390.1,1751 1344.7,1751 1344.7,1783.5" fill="url(#spCall)" stroke="#ffc000" stroke-width="3.8" stroke-linejoin="miter"/>
<text x="1403" y="1239.8" font-family="'Liberation Serif', 'Times New Roman', serif" font-size="50" font-weight="bold" fill="#0a0a0a" text-anchor="start" >MC form</text>
<text x="1411.6" y="1759.5" font-family="'Liberation Serif', 'Times New Roman', serif" font-size="50" font-weight="bold" fill="#0a0a0a" text-anchor="start" >SP form</text>
<g filter="url(#soft1)">
<rect x="743.5" y="67.5" width="95" height="50" fill="url(#capG)" rx="2"/>
<rect x="743" y="118.5" width="97" height="114" fill="url(#glassG)"/>
<path d="M743.5,232.5 H838.5 V315 C838.5,325 819.5,327 791,327 C762.5,327 743.5,325 743.5,315 Z" fill="url(#liqMC)"/>
<path d="M744.5,233.5 Q791,240.5 837.5,233.5" fill="none" stroke="#7a067c" stroke-width="2.2" opacity="0.75"/>
<path d="M751.5,228.5 Q791,234.5 830.5,228.5" fill="none" stroke="#f6eef6" stroke-width="3" opacity="0.9"/>
<path d="M746.5,313 Q791,319 835.5,313" fill="none" stroke="#c060c0" stroke-width="5" opacity="0.45"/>
</g>
<g filter="url(#soft1)">
<rect x="952.5" y="493" width="90" height="42" fill="url(#capG)" rx="2"/>
<rect x="952" y="536" width="92" height="105" fill="url(#glassSP)"/>
<path d="M952.5,641 H1042.5 V710 C1042.5,720 1024.5,722 997.5,722 C970.5,722 952.5,720 952.5,710 Z" fill="url(#liqSP)"/>
<path d="M954.5,641 Q997.5,647 1040.5,641" fill="none" stroke="#f8f4f8" stroke-width="4" opacity="0.9"/>
<ellipse cx="997.5" cy="598" rx="21.6" ry="29.68" fill="#e6e4de" opacity="0.7"/>
</g>
<text x="749.2" y="375.7" font-family="'Liberation Serif', 'Times New Roman', serif" font-size="48.5" font-weight="bold" fill="#d5065e" text-anchor="start" >MC</text>
<text x="970.9" y="766.3" font-family="'Liberation Serif', 'Times New Roman', serif" font-size="48" font-weight="bold" fill="#d5065e" text-anchor="start" >SP</text>
<polygon points="900.4,254 935.4,320.5 920,320.5 920,722.4 881,722.4 881,320.5 865.3,320.5" fill="url(#arrG)" stroke="#3d98cf" stroke-width="2.2" stroke-linejoin="miter"/>
<polygon points="1024.5,357.4 1055.3,375 1037.2,399.5 1042.1,406.9 1025.5,432.8 1027.4,436.7 993.6,474.9 1008.8,430.4 1005.4,423 1016.6,395.1 1014.2,388.7" fill="#6464ff" stroke="none" stroke-width="0" filter="url(#soft1)"/>
<text transform="translate(979,474) rotate(-79)" font-family="'Liberation Serif', 'Times New Roman', serif" font-size="40" font-weight="bold" fill="#111">365 nm</text>
<text x="1008" y="204" font-family="'Liberation Serif', 'Times New Roman', serif" font-size="45.5" font-weight="bold" fill="#111" text-anchor="start" textLength="218" lengthAdjust="spacingAndGlyphs">Time (min)</text>
<line x1="1008" y1="211.6" x2="1227" y2="211.6" stroke="#111" stroke-width="3" />
<text x="1059" y="276.7" font-family="'Liberation Serif', 'Times New Roman', serif" font-size="46" font-weight="bold" fill="#111" text-anchor="start" >25 min</text>
<text x="1059" y="333" font-family="'Liberation Serif', 'Times New Roman', serif" font-size="46" font-weight="bold" fill="#111" text-anchor="start" >20 min</text>
<text x="1059" y="389.4" font-family="'Liberation Serif', 'Times New Roman', serif" font-size="46" font-weight="bold" fill="#111" text-anchor="start" >15 min</text>
<text x="1059" y="444.5" font-family="'Liberation Serif', 'Times New Roman', serif" font-size="46" font-weight="bold" fill="#111" text-anchor="start" >10 min</text>
<text x="1070" y="501.1" font-family="'Liberation Serif', 'Times New Roman', serif" font-size="46" font-weight="bold" fill="#111" text-anchor="start" >8 min</text>
<text x="1070" y="557.3" font-family="'Liberation Serif', 'Times New Roman', serif" font-size="46" font-weight="bold" fill="#111" text-anchor="start" >6 min</text>
<text x="1070" y="613.2" font-family="'Liberation Serif', 'Times New Roman', serif" font-size="46" font-weight="bold" fill="#111" text-anchor="start" >4 min</text>
<text x="1070" y="669.8" font-family="'Liberation Serif', 'Times New Roman', serif" font-size="46" font-weight="bold" fill="#111" text-anchor="start" >2 min</text>
<text x="1070" y="725.2" font-family="'Liberation Serif', 'Times New Roman', serif" font-size="46" font-weight="bold" fill="#111" text-anchor="start" >0 min</text>
<clipPath id="clipA"><rect x="240" y="100" width="871" height="685.4"/></clipPath>
<g clip-path="url(#clipA)" fill="none" stroke-width="3" stroke-linejoin="round" stroke-linecap="round">
<polyline points="239.8,690.47 241.54,691.02 243.28,691.56 245.02,692.09 246.76,692.62 248.51,693.14 250.25,693.65 251.99,694.15 253.73,694.65 255.47,695.14 257.21,695.62 258.95,696.1 260.69,696.57 262.44,697.03 264.18,697.49 265.92,697.94 267.66,698.38 269.4,698.82 271.14,699.25 272.88,699.68 274.62,700.1 276.37,700.51 278.11,700.92 279.85,701.33 281.59,701.73 283.33,702.12 285.07,702.51 286.81,702.89 288.55,703.27 290.29,703.64 292.04,704.01 293.78,704.38 295.52,704.74 297.26,705.09 299,705.45 300.74,705.79 302.48,706.14 304.22,706.48 305.97,706.81 307.71,707.14 309.45,707.47 311.19,707.8 312.93,708.12 314.67,708.44 316.41,708.75 318.15,709.06 319.9,709.37 321.64,709.68 323.38,709.98 325.12,710.28 326.86,710.58 328.6,710.88 330.34,711.17 332.08,711.46 333.82,711.75 335.57,712.04 337.31,712.33 339.05,712.61 340.79,712.89 342.53,713.17 344.27,713.45 346.01,713.73 347.75,714.01 349.5,714.28 351.24,714.56 352.98,714.83 354.72,715.11 356.46,715.38 358.2,715.65 359.94,715.92 361.68,716.19 363.43,716.46 365.17,716.73 366.91,717 368.65,717.28 370.39,717.55 372.13,717.82 373.87,718.09 375.61,718.36 377.35,718.63 379.1,718.91 380.84,719.18 382.58,719.46 384.32,719.74 386.06,720.01 387.8,720.29 389.54,720.57 391.28,720.85 393.03,721.14 394.77,721.42 396.51,721.71 398.25,722 399.99,722.29 401.73,722.58 403.47,722.88 405.21,723.18 406.96,723.47 408.7,723.78 410.44,724.08 412.18,724.38 413.92,724.69 415.66,725 417.4,725.3 419.14,725.62 420.88,725.93 422.63,726.24 424.37,726.55 426.11,726.87 427.85,727.18 429.59,727.5 431.33,727.82 433.07,728.14 434.81,728.46 436.56,728.78 438.3,729.1 440.04,729.42 441.78,729.74 443.52,730.06 445.26,730.38 447,730.7 448.74,731.02 450.49,731.34 452.23,731.66 453.97,731.98 455.71,732.3 457.45,732.62 459.19,732.94 460.93,733.26 462.67,733.58 464.41,733.9 466.16,734.22 467.9,734.53 469.64,734.85 471.38,735.16 473.12,735.48 474.86,735.79 476.6,736.1 478.34,736.41 480.09,736.72 481.83,737.02 483.57,737.33 485.31,737.63 487.05,737.93 488.79,738.23 490.53,738.53 492.27,738.83 494.02,739.12 495.76,739.41 497.5,739.7 499.24,739.99 500.98,740.27 502.72,740.56 504.46,740.84 506.2,741.11 507.94,741.39 509.69,741.66 511.43,741.93 513.17,742.2 514.91,742.46 516.65,742.72 518.39,742.98 520.13,743.23 521.87,743.48 523.62,743.73 525.36,743.97 527.1,744.21 528.84,744.45 530.58,744.68 532.32,744.91 534.06,745.14 535.8,745.36 537.55,745.58 539.29,745.79 541.03,746 542.77,746.2 544.51,746.4 546.25,746.6 547.99,746.8 549.73,746.99 551.47,747.18 553.22,747.37 554.96,747.55 556.7,747.73 558.44,747.91 560.18,748.09 561.92,748.27 563.66,748.45 565.4,748.63 567.15,748.8 568.89,748.98 570.63,749.16 572.37,749.33 574.11,749.51 575.85,749.69 577.59,749.87 579.33,750.05 581.08,750.23 582.82,750.41 584.56,750.6 586.3,750.79 588.04,750.98 589.78,751.17 591.52,751.37 593.26,751.57 595,751.77 596.75,751.98 598.49,752.19 600.23,752.41 601.97,752.63 603.71,752.85 605.45,753.08 607.19,753.32 608.93,753.56 610.68,753.81 612.42,754.06 614.16,754.32 615.9,754.58 617.64,754.86 619.38,755.14 621.12,755.42 622.86,755.72 624.61,756.02 626.35,756.33 628.09,756.65 629.83,756.98 631.57,757.31 633.31,757.66 635.05,758.01 636.79,758.37 638.53,758.75 640.28,759.13 642.02,759.53 643.76,759.93 645.5,760.35 647.24,760.77 648.98,761.21 650.72,761.66 652.46,762.12 654.21,762.59 655.95,763.08 657.69,763.57 659.43,764.07 661.17,764.58 662.91,765.1 664.65,765.63 666.39,766.16 668.14,766.7 669.88,767.25 671.62,767.8 673.36,768.36 675.1,768.92 676.84,769.48 678.58,770.05 680.32,770.62 682.06,771.19 683.81,771.76 685.55,772.34 687.29,772.91 689.03,773.48 690.77,774.05 692.51,774.62 694.25,775.19 695.99,775.75 697.74,776.31 699.48,776.87 701.22,777.42 702.96,777.97 704.7,778.51 706.44,779.04 708.18,779.57 709.92,780.09 711.67,780.6 713.41,781.1 715.15,781.59 716.89,782.08 718.63,782.55 720.37,783.01 722.11,783.46 723.85,783.89 725.59,784.32 727.34,784.73 729.08,785.12 730.82,785.5 732.56,785.87 734.3,786.22 736.04,786.55 737.78,786.86 739.52,787.16 741.27,787.44 743.01,787.7 744.75,787.94 746.49,788.17 748.23,788.37 749.97,788.54 751.71,788.7 753.45,788.84 755.2,788.95 756.94,789.04 758.68,789.1 760.42,789.14 762.16,789.15 763.9,785.2 765.64,785.2 767.38,785.2 769.12,785.2 770.87,785.2 772.61,785.2 774.35,785.2 776.09,785.2 777.83,785.2 779.57,785.2 781.31,785.2 783.05,785.2 784.8,785.2 786.54,785.2 788.28,785.2 790.02,785.2 791.76,785.2 793.5,785.2 795.24,785.2 796.98,785.2 798.73,785.2 800.47,785.2 802.21,785.2 803.95,785.2 805.69,785.2 807.43,785.2 809.17,785.2 810.91,785.2 812.65,785.2 814.4,785.2 816.14,785.2 817.88,785.2 819.62,785.2 821.36,785.2 823.1,785.2 824.84,785.2 826.58,785.2 828.33,785.2 830.07,785.2 831.81,785.2 833.55,785.2 835.29,785.2 837.03,785.2 838.77,785.2 840.51,785.2 842.26,785.2 844,785.2 845.74,785.2 847.48,785.2 849.22,785.2 850.96,785.2 852.7,785.2 854.44,785.2 856.18,785.2 857.93,785.2 859.67,785.2 861.41,785.2 863.15,785.2 864.89,785.2 866.63,785.2 868.37,785.2 870.11,785.2 871.86,785.2 873.6,785.2 875.34,785.2 877.08,785.2 878.82,785.2 880.56,785.2 882.3,785.2 884.04,785.2 885.79,785.2 887.53,785.2 889.27,785.2 891.01,785.2 892.75,785.2 894.49,785.2 896.23,785.2 897.97,785.2 899.71,785.2 901.46,785.2 903.2,785.2 904.94,785.2 906.68,785.2 908.42,785.2 910.16,785.2 911.9,785.2 913.64,785.2 915.39,785.2 917.13,785.2 918.87,785.2 920.61,785.2 922.35,785.2 924.09,785.2 925.83,785.2 927.57,785.2 929.32,785.2 931.06,785.2 932.8,785.2 934.54,785.2 936.28,785.2 938.02,785.2 939.76,785.2 941.5,785.2 943.24,785.2 944.99,785.2 946.73,785.2 948.47,785.2 950.21,785.2 951.95,785.2 953.69,785.2 955.43,785.2 957.17,785.2 958.92,785.2 960.66,785.2 962.4,785.2 964.14,785.2 965.88,785.2 967.62,785.2 969.36,785.2 971.1,785.2 972.85,785.2 974.59,785.2 976.33,785.2 978.07,785.2 979.81,785.2 981.55,785.2 983.29,785.2 985.03,785.2 986.77,785.2 988.52,785.2 990.26,785.2 992,785.2 993.74,785.2 995.48,785.2 997.22,785.15 998.96,784.76 1000.7,784.38 1002.45,784.03 1004.19,783.71 1005.93,783.43 1007.67,783.2 1009.41,783.03 1011.15,782.92 1012.89,782.87 1014.63,782.89 1016.38,782.96 1018.12,783.1 1019.86,783.29 1021.6,783.52 1023.34,783.8 1025.08,784.11 1026.82,784.43 1028.56,784.77 1030.3,785.11 1032.05,785.2 1033.79,785.2 1035.53,785.2 1037.27,785.2 1039.01,785.2 1040.75,785.2 1042.49,785.2 1044.23,785.2 1045.98,785.2 1047.72,785.2 1049.46,785.2 1051.2,785.2 1052.94,785.2 1054.68,785.2 1056.42,785.2 1058.16,785.2 1059.91,785.2 1061.65,785.2 1063.39,785.2 1065.13,785.2 1066.87,785.2 1068.61,785.2 1070.35,785.2 1072.09,785.2 1073.83,785.2 1075.58,785.2 1077.32,785.2 1079.06,785.2 1080.8,785.2 1082.54,785.2 1084.28,785.2 1086.02,785.2 1087.76,785.2 1089.51,785.2 1091.25,785.2 1092.99,785.2 1094.73,785.2 1096.47,785.2 1098.21,785.2 1099.95,785.2 1101.69,785.2 1103.44,785.2 1105.18,785.2 1106.92,785.2 1108.66,785.2 1110.4,785.2" stroke="#1a1a1a"/>
<polyline points="239.8,698.94 241.54,699.82 243.28,700.63 245.02,701.39 246.76,702.08 248.51,702.71 250.25,703.28 251.99,703.8 253.73,704.26 255.47,704.66 257.21,705.01 258.95,705.31 260.69,705.56 262.44,705.77 264.18,705.93 265.92,706.04 267.66,706.11 269.4,706.14 271.14,706.14 272.88,706.1 274.62,706.02 276.37,705.91 278.11,705.78 279.85,705.61 281.59,705.42 283.33,705.21 285.07,704.97 286.81,704.71 288.55,704.44 290.29,704.15 292.04,703.84 293.78,703.52 295.52,703.19 297.26,702.85 299,702.5 300.74,702.14 302.48,701.77 304.22,701.39 305.97,701.02 307.71,700.63 309.45,700.24 311.19,699.85 312.93,699.45 314.67,699.05 316.41,698.64 318.15,698.23 319.9,697.82 321.64,697.4 323.38,696.98 325.12,696.55 326.86,696.12 328.6,695.69 330.34,695.24 332.08,694.79 333.82,694.34 335.57,693.87 337.31,693.4 339.05,692.92 340.79,692.44 342.53,691.94 344.27,691.43 346.01,690.92 347.75,690.39 349.5,689.86 351.24,689.31 352.98,688.76 354.72,688.2 356.46,687.62 358.2,687.04 359.94,686.44 361.68,685.84 363.43,685.23 365.17,684.6 366.91,683.96 368.65,683.31 370.39,682.64 372.13,681.96 373.87,681.27 375.61,680.56 377.35,679.83 379.1,679.09 380.84,678.33 382.58,677.56 384.32,676.77 386.06,675.96 387.8,675.13 389.54,674.29 391.28,673.43 393.03,672.55 394.77,671.65 396.51,670.74 398.25,669.8 399.99,668.85 401.73,667.88 403.47,666.89 405.21,665.88 406.96,664.86 408.7,663.81 410.44,662.74 412.18,661.65 413.92,660.55 415.66,659.42 417.4,658.27 419.14,657.1 420.88,655.91 422.63,654.7 424.37,653.47 426.11,652.21 427.85,650.94 429.59,649.63 431.33,648.31 433.07,647.12 434.81,645.9 436.56,644.67 438.3,643.41 440.04,642.13 441.78,640.83 443.52,639.5 445.26,638.15 447,636.78 448.74,635.39 450.49,633.97 452.23,632.52 453.97,631.05 455.71,629.56 457.45,628.04 459.19,626.49 460.93,624.92 462.67,623.32 464.41,621.69 466.16,620.04 467.9,618.36 469.64,616.65 471.38,614.91 473.12,613.14 474.86,611.35 476.6,609.54 478.34,607.71 480.09,605.85 481.83,603.97 483.57,602.08 485.31,600.16 487.05,598.23 488.79,596.29 490.53,594.33 492.27,592.36 494.02,590.38 495.76,588.38 497.5,586.38 499.24,584.37 500.98,582.36 502.72,580.34 504.46,578.31 506.2,576.28 507.94,574.25 509.69,572.22 511.43,570.19 513.17,568.16 514.91,566.14 516.65,564.12 518.39,562.1 520.13,560.09 521.87,558.09 523.62,556.09 525.36,554.11 527.1,552.13 528.84,550.17 530.58,547.94 532.32,545.72 534.06,543.5 535.8,541.3 537.55,539.11 539.29,536.94 541.03,534.77 542.77,532.63 544.51,530.5 546.25,528.38 547.99,526.29 549.73,524.22 551.47,522.17 553.22,520.14 554.96,518.13 556.7,516.15 558.44,514.19 560.18,512.27 561.92,510.36 563.66,508.49 565.4,506.65 567.15,504.84 568.89,503.06 570.63,501.32 572.37,499.61 574.11,497.94 575.85,496.3 577.59,494.7 579.33,493.14 581.08,491.62 582.82,490.15 584.56,488.71 586.3,487.32 588.04,485.98 589.78,484.68 591.52,483.43 593.26,482.22 595,481.07 596.75,479.96 598.49,478.91 600.23,477.91 601.97,476.97 603.71,476.08 605.45,475.24 607.19,474.47 608.93,473.75 610.68,473.09 612.42,472.48 614.16,471.93 615.9,471.44 617.64,471.01 619.38,470.63 621.12,470.3 622.86,470.04 624.61,469.82 626.35,469.66 628.09,469.55 629.83,469.5 631.57,469.5 633.31,469.55 635.05,469.65 636.79,469.81 638.53,470.02 640.28,470.28 642.02,470.58 643.76,470.94 645.5,471.35 647.24,471.81 648.98,472.32 650.72,472.88 652.46,473.48 654.21,474.14 655.95,474.84 657.69,475.58 659.43,476.38 661.17,477.22 662.91,478.11 664.65,479.04 666.39,480.02 668.14,481.05 669.88,482.11 671.62,483.23 673.36,484.38 675.1,485.58 676.84,486.83 678.58,488.11 680.32,489.44 682.06,490.81 683.81,492.22 685.55,493.68 687.29,495.17 689.03,496.71 690.77,498.28 692.51,499.9 694.25,501.55 695.99,503.24 697.74,504.97 699.48,506.74 701.22,508.55 702.96,510.4 704.7,512.28 706.44,514.2 708.18,516.15 709.92,518.14 711.67,520.17 713.41,522.23 715.15,524.32 716.89,526.46 718.63,528.62 720.37,530.82 722.11,533.05 723.85,535.31 725.59,537.61 727.34,539.94 729.08,542.3 730.82,544.69 732.56,547.12 734.3,549.57 736.04,552.05 737.78,554.57 739.52,557.11 741.27,559.68 743.01,562.29 744.75,564.91 746.49,567.57 748.23,570.26 749.97,572.97 751.71,575.71 753.45,578.47 755.2,581.27 756.94,584.08 758.68,586.93 760.42,589.79 762.16,592.69 763.9,595.6 765.64,598.54 767.38,601.5 769.12,604.47 770.87,607.46 772.61,610.46 774.35,613.48 776.09,616.5 777.83,619.53 779.57,622.57 781.31,625.61 783.05,628.65 784.8,631.69 786.54,634.73 788.28,637.76 790.02,640.78 791.76,643.8 793.5,646.8 795.24,649.8 796.98,652.77 798.73,655.73 800.47,658.68 802.21,661.6 803.95,664.49 805.69,667.36 807.43,670.21 809.17,673.03 810.91,675.81 812.65,678.24 814.4,680.65 816.14,683.05 817.88,685.42 819.62,687.78 821.36,690.13 823.1,692.45 824.84,694.76 826.58,697.05 828.33,699.32 830.07,701.57 831.81,703.8 833.55,706.02 835.29,708.21 837.03,710.39 838.77,712.55 840.51,714.68 842.26,716.8 844,718.9 845.74,720.98 847.48,723.03 849.22,725.07 850.96,727.08 852.7,729.07 854.44,731.05 856.18,733 857.93,734.92 859.67,736.83 861.41,738.71 863.15,740.57 864.89,742.4 866.63,744.21 868.37,746 870.11,747.76 871.86,749.5 873.6,751.21 875.34,752.89 877.08,754.55 878.82,756.18 880.56,757.79 882.3,759.36 884.04,760.91 885.79,762.42 887.53,763.91 889.27,765.36 891.01,766.78 892.75,768.17 894.49,769.53 896.23,770.85 897.97,772.13 899.71,773.38 901.46,774.59 903.2,775.75 904.94,776.88 906.68,777.96 908.42,778.99 910.16,779.98 911.9,780.91 913.64,781.79 915.39,782.6 917.13,783.34 918.87,784.01 920.61,784.6 922.35,785.07 924.09,785.38 925.83,797.56 927.57,797.56 929.32,797.56 931.06,797.56 932.8,797.56 934.54,797.56 936.28,797.56 938.02,797.56 939.76,797.56 941.5,797.56 943.24,797.56 944.99,797.56 946.73,797.56 948.47,797.56 950.21,797.56 951.95,797.56 953.69,797.56 955.43,797.56 957.17,797.56 958.92,797.56 960.66,797.56 962.4,797.56 964.14,797.56 965.88,797.56 967.62,797.56 969.36,797.56 971.1,797.56 972.85,797.56 974.59,797.56 976.33,797.56 978.07,797.56 979.81,797.56 981.55,797.56 983.29,797.56 985.03,797.56 986.77,797.56 988.52,797.56 990.26,797.56 992,797.56 993.74,797.56 995.48,797.56 997.22,797.56 998.96,797.56 1000.7,797.56 1002.45,797.56 1004.19,797.56 1005.93,797.56 1007.67,797.56 1009.41,797.56 1011.15,797.56 1012.89,797.56 1014.63,797.56 1016.38,797.56 1018.12,797.56 1019.86,797.56 1021.6,797.56 1023.34,797.56 1025.08,797.56 1026.82,797.56 1028.56,797.56 1030.3,797.56 1032.05,797.56 1033.79,797.56 1035.53,797.56 1037.27,797.56 1039.01,797.56 1040.75,797.56 1042.49,797.56 1044.23,797.56 1045.98,797.56 1047.72,797.56 1049.46,797.56 1051.2,797.56 1052.94,797.56 1054.68,797.56 1056.42,797.56 1058.16,797.56 1059.91,797.56 1061.65,797.56 1063.39,797.56 1065.13,797.56 1066.87,797.56 1068.61,797.56 1070.35,797.56 1072.09,797.56 1073.83,797.56 1075.58,797.56 1077.32,797.56 1079.06,797.56 1080.8,797.56 1082.54,797.56 1084.28,797.56 1086.02,797.56 1087.76,797.56 1089.51,797.56 1091.25,797.56 1092.99,797.56 1094.73,797.56 1096.47,797.56 1098.21,797.56 1099.95,797.56 1101.69,797.56 1103.44,797.56 1105.18,797.56 1106.92,797.56 1108.66,797.56 1110.4,797.56" stroke="#ff2424"/>
<polyline points="239.8,682.23 241.54,683.41 243.28,684.51 245.02,685.54 246.76,686.5 248.51,687.39 250.25,688.22 251.99,688.97 253.73,689.67 255.47,690.3 257.21,690.87 258.95,691.37 260.69,691.82 262.44,692.21 264.18,692.55 265.92,692.83 267.66,693.07 269.4,693.25 271.14,693.38 272.88,693.47 274.62,693.51 276.37,693.51 278.11,693.47 279.85,693.39 281.59,693.27 283.33,693.12 285.07,692.93 286.81,692.72 288.55,692.47 290.29,692.19 292.04,691.89 293.78,691.56 295.52,691.2 297.26,690.82 299,690.42 300.74,690 302.48,689.57 304.22,689.11 305.97,688.63 307.71,688.14 309.45,687.63 311.19,687.11 312.93,686.57 314.67,686.02 316.41,685.45 318.15,684.87 319.9,684.28 321.64,683.67 323.38,683.05 325.12,682.42 326.86,681.78 328.6,681.13 330.34,680.46 332.08,679.78 333.82,679.09 335.57,678.39 337.31,677.68 339.05,676.95 340.79,676.22 342.53,675.47 344.27,674.71 346.01,673.94 347.75,673.16 349.5,672.37 351.24,671.58 352.98,670.77 354.72,669.95 356.46,669.12 358.2,668.29 359.94,667.45 361.68,666.6 363.43,665.74 365.17,664.87 366.91,663.99 368.65,663.1 370.39,662.2 372.13,661.29 373.87,660.36 375.61,659.42 377.35,658.46 379.1,657.49 380.84,656.5 382.58,655.5 384.32,654.48 386.06,653.45 387.8,652.39 389.54,651.32 391.28,650.24 393.03,649.13 394.77,648.01 396.51,646.87 398.25,645.7 399.99,644.52 401.73,643.32 403.47,642.1 405.21,640.85 406.96,639.59 408.7,638.3 410.44,637 412.18,635.67 413.92,634.31 415.66,632.94 417.4,631.53 419.14,630.11 420.88,628.66 422.63,627.19 424.37,625.69 426.11,624.16 427.85,622.61 429.59,621.03 431.33,619.42 433.07,617.99 434.81,616.53 436.56,615.05 438.3,613.54 440.04,612.01 441.78,610.45 443.52,608.86 445.26,607.25 447,605.61 448.74,603.94 450.49,602.24 452.23,600.51 453.97,598.76 455.71,596.97 457.45,595.15 459.19,593.3 460.93,591.42 462.67,589.51 464.41,587.57 466.16,585.59 467.9,583.58 469.64,581.53 471.38,579.46 473.12,577.35 474.86,575.21 476.6,573.05 478.34,570.85 480.09,568.64 481.83,566.39 483.57,564.13 485.31,561.85 487.05,559.54 488.79,557.22 490.53,554.89 492.27,552.53 494.02,550.17 495.76,547.79 497.5,545.41 499.24,543.01 500.98,540.61 502.72,538.2 504.46,535.79 506.2,533.38 507.94,530.96 509.69,528.54 511.43,526.13 513.17,523.71 514.91,521.3 516.65,518.9 518.39,516.5 520.13,514.11 521.87,511.74 523.62,509.37 525.36,507.01 527.1,504.67 528.84,502.34 530.58,499.66 532.32,496.98 534.06,494.32 535.8,491.67 537.55,489.03 539.29,486.41 541.03,483.81 542.77,481.23 544.51,478.67 546.25,476.12 547.99,473.61 549.73,471.11 551.47,468.64 553.22,466.2 554.96,463.79 556.7,461.4 558.44,459.05 560.18,456.73 561.92,454.44 563.66,452.19 565.4,449.97 567.15,447.79 568.89,445.65 570.63,443.56 572.37,441.5 574.11,439.49 575.85,437.52 577.59,435.59 579.33,433.72 581.08,431.89 582.82,430.11 584.56,428.39 586.3,426.71 588.04,425.1 589.78,423.53 591.52,422.02 593.26,420.58 595,419.19 596.75,417.86 598.49,416.59 600.23,415.39 601.97,414.25 603.71,413.18 605.45,412.18 607.19,411.24 608.93,410.38 610.68,409.58 612.42,408.86 614.16,408.2 615.9,407.61 617.64,407.08 619.38,406.63 621.12,406.24 622.86,405.91 624.61,405.65 626.35,405.46 628.09,405.33 629.83,405.27 631.57,405.26 633.31,405.33 635.05,405.45 636.79,405.64 638.53,405.89 640.28,406.2 642.02,406.57 643.76,407 645.5,407.5 647.24,408.05 648.98,408.66 650.72,409.33 652.46,410.06 654.21,410.84 655.95,411.69 657.69,412.59 659.43,413.55 661.17,414.56 662.91,415.63 664.65,416.75 666.39,417.93 668.14,419.16 669.88,420.45 671.62,421.79 673.36,423.18 675.1,424.62 676.84,426.08 678.58,427.58 680.32,429.13 682.06,430.74 683.81,432.38 685.55,434.08 687.29,435.82 689.03,437.61 690.77,439.44 692.51,441.32 694.25,443.24 695.99,445.21 697.74,447.23 699.48,449.28 701.22,451.38 702.96,453.52 704.7,455.71 706.44,457.94 708.18,460.21 709.92,462.52 711.67,464.87 713.41,467.26 715.15,469.69 716.89,472.16 718.63,474.67 720.37,477.21 722.11,479.8 723.85,482.42 725.59,485.09 727.34,487.78 729.08,490.52 730.82,493.29 732.56,496.1 734.3,498.94 736.04,501.82 737.78,504.73 739.52,507.67 741.27,510.65 743.01,513.66 744.75,516.71 746.49,519.79 748.23,522.9 749.97,526.04 751.71,529.21 753.45,532.41 755.2,535.64 756.94,538.91 758.68,542.2 760.42,545.52 762.16,548.87 763.9,552.25 765.64,555.65 767.38,559.08 769.12,562.53 770.87,566.01 772.61,569.5 774.35,573.01 776.09,576.54 777.83,580.07 779.57,583.62 781.31,587.27 783.05,590.92 784.8,594.58 786.54,598.24 788.28,601.9 790.02,605.55 791.76,609.19 793.5,612.83 795.24,616.45 796.98,620.07 798.73,623.66 800.47,627.23 802.21,630.79 803.95,634.32 805.69,637.82 807.43,641.29 809.17,644.74 810.91,648.15 812.65,651.52 814.4,654.86 816.14,658.17 817.88,661.44 819.62,664.68 821.36,667.88 823.1,671.05 824.84,674.19 826.58,677.29 828.33,680.37 830.07,683.41 831.81,686.42 833.55,689.39 835.29,692.34 837.03,695.26 838.77,698.14 840.51,701 842.26,703.82 844,706.62 845.74,709.39 847.48,712.12 849.22,714.83 850.96,717.51 852.7,720.17 854.44,722.79 856.18,725.39 857.93,727.96 859.67,730.5 861.41,733.02 863.15,735.52 864.89,738 866.63,740.45 868.37,742.89 870.11,745.31 871.86,747.72 873.6,750.11 875.34,752.49 877.08,754.86 878.82,757.22 880.56,759.57 882.3,761.92 884.04,764.26 885.79,766.59 887.53,768.93 889.27,771.26 891.01,773.59 892.75,775.93 894.49,778.27 896.23,780.62 897.97,782.97 899.71,784.21 901.46,784.97 903.2,785.4 904.94,792.48 906.68,794.89 908.42,797.31 910.16,797.56 911.9,797.56 913.64,797.56 915.39,797.56 917.13,797.56 918.87,797.56 920.61,797.56 922.35,797.56 924.09,797.56 925.83,797.56 927.57,797.56 929.32,797.56 931.06,797.56 932.8,797.56 934.54,797.56 936.28,797.56 938.02,797.56 939.76,797.56 941.5,797.56 943.24,797.56 944.99,797.56 946.73,797.56 948.47,797.56 950.21,797.56 951.95,797.56 953.69,797.56 955.43,797.56 957.17,797.56 958.92,797.56 960.66,797.56 962.4,797.56 964.14,797.56 965.88,797.56 967.62,797.56 969.36,797.56 971.1,797.56 972.85,797.56 974.59,797.56 976.33,797.56 978.07,797.56 979.81,797.56 981.55,797.56 983.29,797.56 985.03,797.56 986.77,797.56 988.52,797.56 990.26,797.56 992,797.56 993.74,797.56 995.48,797.56 997.22,797.56 998.96,797.56 1000.7,797.56 1002.45,797.56 1004.19,797.56 1005.93,797.56 1007.67,797.56 1009.41,797.56 1011.15,797.56 1012.89,797.56 1014.63,797.56 1016.38,797.56 1018.12,797.56 1019.86,797.56 1021.6,797.56 1023.34,797.56 1025.08,797.56 1026.82,797.56 1028.56,797.56 1030.3,797.56 1032.05,797.56 1033.79,797.56 1035.53,797.56 1037.27,797.56 1039.01,797.56 1040.75,797.56 1042.49,797.56 1044.23,797.56 1045.98,797.56 1047.72,797.56 1049.46,797.56 1051.2,797.56 1052.94,797.56 1054.68,797.56 1056.42,797.56 1058.16,797.56 1059.91,797.56 1061.65,797.56 1063.39,797.56 1065.13,797.56 1066.87,797.56 1068.61,797.56 1070.35,797.56 1072.09,797.56 1073.83,797.56 1075.58,797.56 1077.32,797.56 1079.06,797.56 1080.8,797.56 1082.54,797.56 1084.28,797.56 1086.02,797.56 1087.76,797.56 1089.51,797.56 1091.25,797.56 1092.99,797.56 1094.73,797.56 1096.47,797.56 1098.21,797.56 1099.95,797.56 1101.69,797.56 1103.44,797.56 1105.18,797.56 1106.92,797.56 1108.66,797.56 1110.4,797.56" stroke="#2b2bff"/>
<polyline points="239.8,672.35 241.54,673.7 243.28,674.97 245.02,676.17 246.76,677.29 248.51,678.34 250.25,679.31 251.99,680.21 253.73,681.04 255.47,681.81 257.21,682.51 258.95,683.14 260.69,683.7 262.44,684.21 264.18,684.65 265.92,685.04 267.66,685.37 269.4,685.64 271.14,685.85 272.88,686.02 274.62,686.13 276.37,686.2 278.11,686.22 279.85,686.19 281.59,686.11 283.33,686 285.07,685.84 286.81,685.65 288.55,685.42 290.29,685.15 292.04,684.85 293.78,684.51 295.52,684.14 297.26,683.74 299,683.32 300.74,682.86 302.48,682.38 304.22,681.87 305.97,681.34 307.71,680.78 309.45,680.2 311.19,679.6 312.93,678.98 314.67,678.34 316.41,677.67 318.15,676.99 319.9,676.29 321.64,675.58 323.38,674.84 325.12,674.09 326.86,673.32 328.6,672.54 330.34,671.74 332.08,670.92 333.82,670.09 335.57,669.25 337.31,668.39 339.05,667.52 340.79,666.63 342.53,665.74 344.27,664.83 346.01,663.91 347.75,662.98 349.5,662.03 351.24,661.08 352.98,660.12 354.72,659.16 356.46,658.18 358.2,657.2 359.94,656.21 361.68,655.21 363.43,654.21 365.17,653.19 366.91,652.17 368.65,651.14 370.39,650.1 372.13,649.04 373.87,647.97 375.61,646.89 377.35,645.8 379.1,644.69 380.84,643.57 382.58,642.43 384.32,641.28 386.06,640.11 387.8,638.92 389.54,637.72 391.28,636.5 393.03,635.26 394.77,634 396.51,632.72 398.25,631.42 399.99,630.11 401.73,628.77 403.47,627.41 405.21,626.02 406.96,624.62 408.7,623.19 410.44,621.74 412.18,620.26 413.92,618.77 415.66,617.24 417.4,615.69 419.14,614.11 420.88,612.51 422.63,610.88 424.37,609.22 426.11,607.54 427.85,605.82 429.59,604.07 431.33,602.3 433.07,600.72 434.81,599.11 436.56,597.48 438.3,595.82 440.04,594.13 441.78,592.41 443.52,590.66 445.26,588.88 447,587.07 448.74,585.23 450.49,583.36 452.23,581.46 453.97,579.52 455.71,577.55 457.45,575.55 459.19,573.51 460.93,571.44 462.67,569.33 464.41,567.19 466.16,565.01 467.9,562.8 469.64,560.55 471.38,558.26 473.12,555.94 474.86,553.58 476.6,551.2 478.34,548.78 480.09,546.34 481.83,543.87 483.57,541.37 485.31,538.86 487.05,536.32 488.79,533.76 490.53,531.19 492.27,528.6 494.02,526 495.76,523.38 497.5,520.75 499.24,518.11 500.98,515.47 502.72,512.82 504.46,510.16 506.2,507.5 507.94,504.84 509.69,502.18 511.43,499.52 513.17,496.86 514.91,494.21 516.65,491.56 518.39,488.92 520.13,486.29 521.87,483.67 523.62,481.06 525.36,478.47 527.1,475.89 528.84,473.33 530.58,470.37 532.32,467.42 534.06,464.48 535.8,461.56 537.55,458.66 539.29,455.77 541.03,452.9 542.77,450.05 544.51,447.23 546.25,444.43 547.99,441.65 549.73,438.9 551.47,436.18 553.22,433.48 554.96,430.82 556.7,428.19 558.44,425.6 560.18,423.04 561.92,420.52 563.66,418.04 565.4,415.59 567.15,413.19 568.89,410.83 570.63,408.52 572.37,406.25 574.11,404.03 575.85,401.86 577.59,399.74 579.33,397.67 581.08,395.66 582.82,393.7 584.56,391.8 586.3,389.95 588.04,388.17 589.78,386.44 591.52,384.78 593.26,383.18 595,381.65 596.75,380.19 598.49,378.79 600.23,377.47 601.97,376.21 603.71,375.03 605.45,373.93 607.19,372.89 608.93,371.94 610.68,371.06 612.42,370.26 614.16,369.54 615.9,368.88 617.64,368.31 619.38,367.8 621.12,367.37 622.86,367.02 624.61,366.73 626.35,366.52 628.09,366.38 629.83,366.3 631.57,366.3 633.31,366.37 635.05,366.51 636.79,366.72 638.53,366.99 640.28,367.33 642.02,367.74 643.76,368.22 645.5,368.76 647.24,369.37 648.98,370.05 650.72,370.79 652.46,371.59 654.21,372.46 655.95,373.39 657.69,374.38 659.43,375.43 661.17,376.55 662.91,377.73 664.65,378.97 666.39,380.27 668.14,381.62 669.88,383.04 671.62,384.52 673.36,386.05 675.1,387.64 676.84,389.25 678.58,390.91 680.32,392.62 682.06,394.38 683.81,396.2 685.55,398.07 687.29,399.99 689.03,401.96 690.77,403.98 692.51,406.06 694.25,408.18 695.99,410.35 697.74,412.57 699.48,414.83 701.22,417.15 702.96,419.51 704.7,421.92 706.44,424.37 708.18,426.88 709.92,429.42 711.67,432.01 713.41,434.65 715.15,437.33 716.89,440.05 718.63,442.82 720.37,445.63 722.11,448.48 723.85,451.37 725.59,454.31 727.34,457.28 729.08,460.3 730.82,463.35 732.56,466.45 734.3,469.58 736.04,472.75 737.78,475.96 739.52,479.21 741.27,482.49 743.01,485.81 744.75,489.17 746.49,492.56 748.23,495.99 749.97,499.45 751.71,502.95 753.45,506.48 755.2,510.04 756.94,513.64 758.68,517.27 760.42,520.93 762.16,524.63 763.9,528.35 765.64,532.1 767.38,535.88 769.12,539.69 770.87,543.52 772.61,547.37 774.35,551.24 776.09,555.13 777.83,559.03 779.57,562.93 781.31,566.96 783.05,570.99 784.8,575.02 786.54,579.06 788.28,583.09 790.02,587.11 791.76,591.13 793.5,595.14 795.24,599.14 796.98,603.12 798.73,607.08 800.47,611.02 802.21,614.94 803.95,618.83 805.69,622.69 807.43,626.52 809.17,630.32 810.91,634.08 812.65,637.72 814.4,641.34 816.14,644.93 817.88,648.49 819.62,652.02 821.36,655.52 823.1,658.99 824.84,662.43 826.58,665.85 828.33,669.23 830.07,672.59 831.81,675.91 833.55,679.2 835.29,682.46 837.03,685.69 838.77,688.89 840.51,692.05 842.26,695.18 844,698.28 845.74,701.34 847.48,704.37 849.22,707.37 850.96,710.33 852.7,713.25 854.44,716.14 856.18,718.99 857.93,721.8 859.67,724.58 861.41,727.32 863.15,730.01 864.89,732.67 866.63,735.29 868.37,737.86 870.11,740.39 871.86,742.88 873.6,745.32 875.34,747.72 877.08,750.07 878.82,752.38 880.56,754.63 882.3,756.84 884.04,758.99 885.79,761.09 887.53,763.14 889.27,765.13 891.01,767.06 892.75,768.93 894.49,770.73 896.23,772.47 897.97,774.14 899.71,775.73 901.46,777.25 903.2,778.69 904.94,780.03 906.68,781.28 908.42,782.42 910.16,783.43 911.9,784.31 913.64,785 915.39,785.4 917.13,797.56 918.87,797.56 920.61,797.56 922.35,797.56 924.09,797.56 925.83,797.56 927.57,797.56 929.32,797.56 931.06,797.56 932.8,797.56 934.54,797.56 936.28,797.56 938.02,797.56 939.76,797.56 941.5,797.56 943.24,797.56 944.99,797.56 946.73,797.56 948.47,797.56 950.21,797.56 951.95,797.56 953.69,797.56 955.43,797.56 957.17,797.56 958.92,797.56 960.66,797.56 962.4,797.56 964.14,797.56 965.88,797.56 967.62,797.56 969.36,797.56 971.1,797.56 972.85,797.56 974.59,797.56 976.33,797.56 978.07,797.56 979.81,797.56 981.55,797.56 983.29,797.56 985.03,797.56 986.77,797.56 988.52,797.56 990.26,797.56 992,797.56 993.74,797.56 995.48,797.56 997.22,797.56 998.96,797.56 1000.7,797.56 1002.45,797.56 1004.19,797.56 1005.93,797.56 1007.67,797.56 1009.41,797.56 1011.15,797.56 1012.89,797.56 1014.63,797.56 1016.38,797.56 1018.12,797.56 1019.86,797.56 1021.6,797.56 1023.34,797.56 1025.08,797.56 1026.82,797.56 1028.56,797.56 1030.3,797.56 1032.05,797.56 1033.79,797.56 1035.53,797.56 1037.27,797.56 1039.01,797.56 1040.75,797.56 1042.49,797.56 1044.23,797.56 1045.98,797.56 1047.72,797.56 1049.46,797.56 1051.2,797.56 1052.94,797.56 1054.68,797.56 1056.42,797.56 1058.16,797.56 1059.91,797.56 1061.65,797.56 1063.39,797.56 1065.13,797.56 1066.87,797.56 1068.61,797.56 1070.35,797.56 1072.09,797.56 1073.83,797.56 1075.58,797.56 1077.32,797.56 1079.06,797.56 1080.8,797.56 1082.54,797.56 1084.28,797.56 1086.02,797.56 1087.76,797.56 1089.51,797.56 1091.25,797.56 1092.99,797.56 1094.73,797.56 1096.47,797.56 1098.21,797.56 1099.95,797.56 1101.69,797.56 1103.44,797.56 1105.18,797.56 1106.92,797.56 1108.66,797.56 1110.4,797.56" stroke="#ff33ff"/>
<polyline points="239.8,660.86 241.54,662.44 243.28,663.93 245.02,665.35 246.76,666.68 248.51,667.93 250.25,669.1 251.99,670.2 253.73,671.22 255.47,672.17 257.21,673.04 258.95,673.84 260.69,674.58 262.44,675.24 264.18,675.84 265.92,676.36 267.66,676.83 269.4,677.23 271.14,677.57 272.88,677.85 274.62,678.07 276.37,678.24 278.11,678.34 279.85,678.4 281.59,678.39 283.33,678.34 285.07,678.24 286.81,678.09 288.55,677.89 290.29,677.64 292.04,677.35 293.78,677.02 295.52,676.64 297.26,676.23 299,675.77 300.74,675.28 302.48,674.74 304.22,674.18 305.97,673.57 307.71,672.94 309.45,672.27 311.19,671.57 312.93,670.84 314.67,670.08 316.41,669.29 318.15,668.47 319.9,667.63 321.64,666.76 323.38,665.87 325.12,664.95 326.86,664.01 328.6,663.06 330.34,662.07 332.08,661.08 333.82,660.06 335.57,659.02 337.31,657.97 339.05,656.9 340.79,655.81 342.53,654.71 344.27,653.6 346.01,652.48 347.75,651.34 349.5,650.2 351.24,649.04 352.98,647.88 354.72,646.71 356.46,645.53 358.2,644.35 359.94,643.17 361.68,641.98 363.43,640.78 365.17,639.58 366.91,638.37 368.65,637.15 370.39,635.93 372.13,634.69 373.87,633.44 375.61,632.19 377.35,630.92 379.1,629.63 380.84,628.34 382.58,627.03 384.32,625.71 386.06,624.37 387.8,623.01 389.54,621.64 391.28,620.25 393.03,618.85 394.77,617.42 396.51,615.98 398.25,614.51 399.99,613.03 401.73,611.52 403.47,609.99 405.21,608.44 406.96,606.87 408.7,605.27 410.44,603.64 412.18,602 413.92,600.32 415.66,598.62 417.4,596.89 419.14,595.13 420.88,593.34 422.63,591.53 424.37,589.68 426.11,587.8 427.85,585.89 429.59,583.95 431.33,581.97 433.07,580.09 434.81,578.17 436.56,576.22 438.3,574.23 440.04,572.21 441.78,570.16 443.52,568.07 445.26,565.94 447,563.78 448.74,561.58 450.49,559.34 452.23,557.06 453.97,554.74 455.71,552.39 457.45,549.99 459.19,547.55 460.93,545.07 462.67,542.54 464.41,539.97 466.16,537.36 467.9,534.7 469.64,532 471.38,529.25 473.12,526.46 474.86,523.63 476.6,520.76 478.34,517.86 480.09,514.92 481.83,511.94 483.57,508.93 485.31,505.9 487.05,502.83 488.79,499.74 490.53,496.62 492.27,493.48 494.02,490.33 495.76,487.15 497.5,483.95 499.24,480.74 500.98,477.52 502.72,474.28 504.46,471.03 506.2,467.78 507.94,464.52 509.69,461.25 511.43,457.98 513.17,454.71 514.91,451.44 516.65,448.17 518.39,444.91 520.13,441.65 521.87,438.4 523.62,435.16 525.36,431.92 527.1,428.71 528.84,425.5 530.58,422.09 532.32,418.69 534.06,415.3 535.8,411.93 537.55,408.58 539.29,405.25 541.03,401.94 542.77,398.66 544.51,395.4 546.25,392.17 547.99,388.96 549.73,385.79 551.47,382.65 553.22,379.55 554.96,376.48 556.7,373.45 558.44,370.45 560.18,367.5 561.92,364.6 563.66,361.73 565.4,358.91 567.15,356.14 568.89,353.42 570.63,350.76 572.37,348.14 574.11,345.58 575.85,343.08 577.59,340.63 579.33,338.25 581.08,335.92 582.82,333.66 584.56,331.47 586.3,329.34 588.04,327.28 589.78,325.3 591.52,323.38 593.26,321.54 595,319.77 596.75,318.08 598.49,316.47 600.23,314.94 601.97,313.5 603.71,312.14 605.45,310.86 607.19,309.67 608.93,308.57 610.68,307.56 612.42,306.64 614.16,305.8 615.9,305.05 617.64,304.38 619.38,303.8 621.12,303.3 622.86,302.89 624.61,302.56 626.35,302.32 628.09,302.15 629.83,302.07 631.57,302.07 633.31,302.15 635.05,302.31 636.79,302.55 638.53,302.86 640.28,303.26 642.02,303.73 643.76,304.28 645.5,304.91 647.24,305.61 648.98,306.39 650.72,307.24 652.46,308.17 654.21,309.17 655.95,310.24 657.69,311.38 659.43,312.6 661.17,313.89 662.91,315.25 664.65,316.67 666.39,318.17 668.14,319.74 669.88,321.37 671.62,323.08 673.36,324.85 675.1,326.68 676.84,328.55 678.58,330.49 680.32,332.48 682.06,334.54 683.81,336.66 685.55,338.84 687.29,341.08 689.03,343.38 690.77,345.74 692.51,348.16 694.25,350.64 695.99,353.18 697.74,355.77 699.48,358.42 701.22,361.12 702.96,363.88 704.7,366.7 706.44,369.57 708.18,372.49 709.92,375.47 711.67,378.5 713.41,381.58 715.15,384.72 716.89,387.9 718.63,391.14 720.37,394.43 722.11,397.76 723.85,401.15 725.59,404.58 727.34,408.06 729.08,411.59 730.82,415.16 732.56,418.78 734.3,422.45 736.04,426.16 737.78,429.91 739.52,433.71 741.27,437.56 743.01,441.44 744.75,445.37 746.49,449.34 748.23,453.35 749.97,457.4 751.71,461.5 753.45,465.63 755.2,469.8 756.94,474.01 758.68,478.25 760.42,482.54 762.16,486.86 763.9,491.22 765.64,495.61 767.38,500.03 769.12,504.48 770.87,508.96 772.61,513.46 774.35,517.98 776.09,522.51 777.83,527.06 779.57,531.62 781.31,536.27 783.05,540.92 784.8,545.57 786.54,550.22 788.28,554.87 790.02,559.51 791.76,564.14 793.5,568.75 795.24,573.35 796.98,577.93 798.73,582.48 800.47,587.01 802.21,591.51 803.95,595.98 805.69,600.41 807.43,604.81 809.17,609.16 810.91,613.47 812.65,617.73 814.4,621.95 816.14,626.13 817.88,630.26 819.62,634.35 821.36,638.4 823.1,642.41 824.84,646.37 826.58,650.3 828.33,654.18 830.07,658.02 831.81,661.82 833.55,665.59 835.29,669.31 837.03,672.99 838.77,676.64 840.51,680.25 842.26,683.82 844,687.35 845.74,690.84 847.48,694.3 849.22,697.73 850.96,701.11 852.7,704.46 854.44,707.78 856.18,711.06 857.93,714.31 859.67,717.53 861.41,720.71 863.15,723.87 864.89,727.01 866.63,730.12 868.37,733.2 870.11,736.27 871.86,739.32 873.6,742.35 875.34,745.37 877.08,748.37 878.82,751.36 880.56,754.35 882.3,757.33 884.04,760.3 885.79,763.27 887.53,766.23 889.27,769.16 891.01,771.26 892.75,773.26 894.49,775.17 896.23,776.97 897.97,778.66 899.71,780.22 901.46,781.65 903.2,782.93 904.94,784.03 906.68,784.9 908.42,785.4 910.16,797.56 911.9,797.56 913.64,797.56 915.39,797.56 917.13,797.56 918.87,797.56 920.61,797.56 922.35,797.56 924.09,797.56 925.83,797.56 927.57,797.56 929.32,797.56 931.06,797.56 932.8,797.56 934.54,797.56 936.28,797.56 938.02,797.56 939.76,797.56 941.5,797.56 943.24,797.56 944.99,797.56 946.73,797.56 948.47,797.56 950.21,797.56 951.95,797.56 953.69,797.56 955.43,797.56 957.17,797.56 958.92,797.56 960.66,797.56 962.4,797.56 964.14,797.56 965.88,797.56 967.62,797.56 969.36,797.56 971.1,797.56 972.85,797.56 974.59,797.56 976.33,797.56 978.07,797.56 979.81,797.56 981.55,797.56 983.29,797.56 985.03,797.56 986.77,797.56 988.52,797.56 990.26,797.56 992,797.56 993.74,797.56 995.48,797.56 997.22,797.56 998.96,797.56 1000.7,797.56 1002.45,797.56 1004.19,797.56 1005.93,797.56 1007.67,797.56 1009.41,797.56 1011.15,797.56 1012.89,797.56 1014.63,797.56 1016.38,797.56 1018.12,797.56 1019.86,797.56 1021.6,797.56 1023.34,797.56 1025.08,797.56 1026.82,797.56 1028.56,797.56 1030.3,797.56 1032.05,797.56 1033.79,797.56 1035.53,797.56 1037.27,797.56 1039.01,797.56 1040.75,797.56 1042.49,797.56 1044.23,797.56 1045.98,797.56 1047.72,797.56 1049.46,797.56 1051.2,797.56 1052.94,797.56 1054.68,797.56 1056.42,797.56 1058.16,797.56 1059.91,797.56 1061.65,797.56 1063.39,797.56 1065.13,797.56 1066.87,797.56 1068.61,797.56 1070.35,797.56 1072.09,797.56 1073.83,797.56 1075.58,797.56 1077.32,797.56 1079.06,797.56 1080.8,797.56 1082.54,797.56 1084.28,797.56 1086.02,797.56 1087.76,797.56 1089.51,797.56 1091.25,797.56 1092.99,797.56 1094.73,797.56 1096.47,797.56 1098.21,797.56 1099.95,797.56 1101.69,797.56 1103.44,797.56 1105.18,797.56 1106.92,797.56 1108.66,797.56 1110.4,797.56" stroke="#b444b4"/>
<polyline points="239.8,659.18 241.54,660.8 243.28,662.34 245.02,663.8 246.76,665.17 248.51,666.47 250.25,667.69 251.99,668.83 253.73,669.89 255.47,670.88 257.21,671.79 258.95,672.63 260.69,673.4 262.44,674.1 264.18,674.73 265.92,675.3 267.66,675.8 269.4,676.23 271.14,676.6 272.88,676.91 274.62,677.16 276.37,677.35 278.11,677.49 279.85,677.56 281.59,677.58 283.33,677.55 285.07,677.46 286.81,677.33 288.55,677.14 290.29,676.9 292.04,676.62 293.78,676.29 295.52,675.92 297.26,675.5 299,675.05 300.74,674.55 302.48,674.01 304.22,673.43 305.97,672.81 307.71,672.16 309.45,671.47 311.19,670.75 312.93,670 314.67,669.22 316.41,668.4 318.15,667.56 319.9,666.68 321.64,665.78 323.38,664.86 325.12,663.91 326.86,662.93 328.6,661.93 330.34,660.91 332.08,659.87 333.82,658.81 335.57,657.73 337.31,656.64 339.05,655.52 340.79,654.4 342.53,653.25 344.27,652.1 346.01,650.93 347.75,649.75 349.5,648.56 351.24,647.36 352.98,646.15 354.72,644.94 356.46,643.72 358.2,642.5 359.94,641.27 361.68,640.04 363.43,638.8 365.17,637.56 366.91,636.31 368.65,635.06 370.39,633.79 372.13,632.52 373.87,631.24 375.61,629.95 377.35,628.64 379.1,627.33 380.84,626 382.58,624.66 384.32,623.3 386.06,621.93 387.8,620.55 389.54,619.15 391.28,617.73 393.03,616.29 394.77,614.84 396.51,613.36 398.25,611.87 399.99,610.35 401.73,608.82 403.47,607.26 405.21,605.68 406.96,604.08 408.7,602.45 410.44,600.8 412.18,599.12 413.92,597.42 415.66,595.68 417.4,593.93 419.14,592.14 420.88,590.32 422.63,588.47 424.37,586.6 426.11,584.69 427.85,582.75 429.59,580.77 431.33,578.76 433.07,576.76 434.81,574.72 436.56,572.65 438.3,570.54 440.04,568.39 441.78,566.21 443.52,563.99 445.26,561.73 447,559.43 448.74,557.09 450.49,554.71 452.23,552.29 453.97,549.82 455.71,547.32 457.45,544.76 459.19,542.17 460.93,539.52 462.67,536.84 464.41,534.1 466.16,531.32 467.9,528.49 469.64,525.61 471.38,522.68 473.12,519.71 474.86,516.69 476.6,513.63 478.34,510.53 480.09,507.39 481.83,504.21 483.57,500.99 485.31,497.75 487.05,494.47 488.79,491.16 490.53,487.82 492.27,484.46 494.02,481.07 495.76,477.66 497.5,474.23 499.24,470.78 500.98,467.32 502.72,463.83 504.46,460.34 506.2,456.83 507.94,453.31 509.69,449.79 511.43,446.26 513.17,442.72 514.91,439.18 516.65,435.64 518.39,432.11 520.13,428.57 521.87,425.04 523.62,421.51 525.36,418 527.1,414.49 528.84,411 530.58,407.44 532.32,403.9 534.06,400.38 535.8,396.88 537.55,393.39 539.29,389.93 541.03,386.49 542.77,383.07 544.51,379.68 546.25,376.32 547.99,372.99 549.73,369.69 551.47,366.42 553.22,363.19 554.96,360 556.7,356.84 558.44,353.73 560.18,350.66 561.92,347.63 563.66,344.66 565.4,341.72 567.15,338.84 568.89,336.01 570.63,333.24 572.37,330.52 574.11,327.85 575.85,325.25 577.59,322.71 579.33,320.22 581.08,317.81 582.82,315.46 584.56,313.17 586.3,310.96 588.04,308.82 589.78,306.75 591.52,304.76 593.26,302.84 595,301 596.75,299.25 598.49,297.57 600.23,295.98 601.97,294.48 603.71,293.06 605.45,291.73 607.19,290.5 608.93,289.35 610.68,288.3 612.42,287.34 614.16,286.47 615.9,285.69 617.64,284.99 619.38,284.39 621.12,283.87 622.86,283.44 624.61,283.1 626.35,282.85 628.09,282.68 629.83,282.59 631.57,282.59 633.31,282.67 635.05,282.84 636.79,283.09 638.53,283.42 640.28,283.83 642.02,284.32 643.76,284.89 645.5,285.54 647.24,286.27 648.98,287.08 650.72,287.97 652.46,288.93 654.21,289.97 655.95,291.09 657.69,292.28 659.43,293.54 661.17,294.88 662.91,296.3 664.65,297.78 666.39,299.34 668.14,300.97 669.88,302.67 671.62,304.44 673.36,306.28 675.1,308.19 676.84,310.14 678.58,312.15 680.32,314.23 682.06,316.37 683.81,318.57 685.55,320.84 687.29,323.17 689.03,325.57 690.77,328.02 692.51,330.54 694.25,333.12 695.99,335.76 697.74,338.45 699.48,341.21 701.22,344.02 702.96,346.9 704.7,349.82 706.44,352.81 708.18,355.85 709.92,358.95 711.67,362.1 713.41,365.31 715.15,368.57 716.89,371.88 718.63,375.25 720.37,378.67 722.11,382.14 723.85,385.66 725.59,389.23 727.34,392.85 729.08,396.52 730.82,400.24 732.56,404 734.3,407.82 736.04,411.68 737.78,415.59 739.52,419.54 741.27,423.54 743.01,427.58 744.75,431.67 746.49,435.8 748.23,439.97 749.97,444.18 751.71,448.44 753.45,452.74 755.2,457.08 756.94,461.46 758.68,465.87 760.42,470.33 762.16,474.83 763.9,479.36 765.64,483.93 767.38,488.53 769.12,493.16 770.87,497.82 772.61,502.5 774.35,507.2 776.09,511.92 777.83,516.65 779.57,521.39 781.31,526.23 783.05,531.06 784.8,535.9 786.54,540.74 788.28,545.58 790.02,550.4 791.76,555.22 793.5,560.02 795.24,564.8 796.98,569.56 798.73,574.3 800.47,579.02 802.21,583.7 803.95,588.34 805.69,592.96 807.43,597.53 809.17,602.06 810.91,606.54 812.65,610.34 814.4,614.11 816.14,617.86 817.88,621.59 819.62,625.29 821.36,628.96 823.1,632.6 824.84,636.22 826.58,639.81 828.33,643.38 830.07,646.92 831.81,650.42 833.55,653.91 835.29,657.36 837.03,660.78 838.77,664.18 840.51,667.54 842.26,670.88 844,674.18 845.74,677.46 847.48,680.71 849.22,683.92 850.96,687.1 852.7,690.25 854.44,693.37 856.18,696.46 857.93,699.51 859.67,702.54 861.41,705.52 863.15,708.47 864.89,711.39 866.63,714.28 868.37,717.12 870.11,719.93 871.86,722.71 873.6,725.44 875.34,728.14 877.08,730.8 878.82,733.42 880.56,736 882.3,738.53 884.04,741.03 885.79,743.48 887.53,745.89 889.27,748.26 891.01,750.57 892.75,752.85 894.49,755.07 896.23,757.24 897.97,759.37 899.71,761.44 901.46,763.45 903.2,765.41 904.94,767.32 906.68,769.16 908.42,770.94 910.16,772.65 911.9,774.3 913.64,775.87 915.39,777.37 917.13,778.78 918.87,780.11 920.61,781.34 922.35,782.46 924.09,783.46 925.83,784.32 927.57,785.01 929.32,785.4 931.06,797.56 932.8,797.56 934.54,797.56 936.28,797.56 938.02,797.56 939.76,797.56 941.5,797.56 943.24,797.56 944.99,797.56 946.73,797.56 948.47,797.56 950.21,797.56 951.95,797.56 953.69,797.56 955.43,797.56 957.17,797.56 958.92,797.56 960.66,797.56 962.4,797.56 964.14,797.56 965.88,797.56 967.62,797.56 969.36,797.56 971.1,797.56 972.85,797.56 974.59,797.56 976.33,797.56 978.07,797.56 979.81,797.56 981.55,797.56 983.29,797.56 985.03,797.56 986.77,797.56 988.52,797.56 990.26,797.56 992,797.56 993.74,797.56 995.48,797.56 997.22,797.56 998.96,797.56 1000.7,797.56 1002.45,797.56 1004.19,797.56 1005.93,797.56 1007.67,797.56 1009.41,797.56 1011.15,797.56 1012.89,797.56 1014.63,797.56 1016.38,797.56 1018.12,797.56 1019.86,797.56 1021.6,797.56 1023.34,797.56 1025.08,797.56 1026.82,797.56 1028.56,797.56 1030.3,797.56 1032.05,797.56 1033.79,797.56 1035.53,797.56 1037.27,797.56 1039.01,797.56 1040.75,797.56 1042.49,797.56 1044.23,797.56 1045.98,797.56 1047.72,797.56 1049.46,797.56 1051.2,797.56 1052.94,797.56 1054.68,797.56 1056.42,797.56 1058.16,797.56 1059.91,797.56 1061.65,797.56 1063.39,797.56 1065.13,797.56 1066.87,797.56 1068.61,797.56 1070.35,797.56 1072.09,797.56 1073.83,797.56 1075.58,797.56 1077.32,797.56 1079.06,797.56 1080.8,797.56 1082.54,797.56 1084.28,797.56 1086.02,797.56 1087.76,797.56 1089.51,797.56 1091.25,797.56 1092.99,797.56 1094.73,797.56 1096.47,797.56 1098.21,797.56 1099.95,797.56 1101.69,797.56 1103.44,797.56 1105.18,797.56 1106.92,797.56 1108.66,797.56 1110.4,797.56" stroke="#c44236"/>
<polyline points="239.8,658.02 241.54,659.68 243.28,661.24 245.02,662.73 246.76,664.13 248.51,665.45 250.25,666.69 251.99,667.85 253.73,668.94 255.47,669.95 257.21,670.89 258.95,671.76 260.69,672.55 262.44,673.27 264.18,673.92 265.92,674.51 267.66,675.03 269.4,675.48 271.14,675.87 272.88,676.2 274.62,676.46 276.37,676.67 278.11,676.81 279.85,676.9 281.59,676.93 283.33,676.91 285.07,676.83 286.81,676.7 288.55,676.52 290.29,676.29 292.04,676.02 293.78,675.69 295.52,675.32 297.26,674.9 299,674.44 300.74,673.94 302.48,673.39 304.22,672.81 305.97,672.18 307.71,671.52 309.45,670.82 311.19,670.09 312.93,669.33 314.67,668.53 316.41,667.7 318.15,666.83 319.9,665.94 321.64,665.02 323.38,664.08 325.12,663.1 326.86,662.11 328.6,661.09 330.34,660.04 332.08,658.98 333.82,657.89 335.57,656.79 337.31,655.67 339.05,654.53 340.79,653.37 342.53,652.21 344.27,651.02 346.01,649.83 347.75,648.62 349.5,647.41 351.24,646.18 352.98,644.95 354.72,643.71 356.46,642.46 358.2,641.22 359.94,639.96 361.68,638.71 363.43,637.45 365.17,636.18 366.91,634.91 368.65,633.63 370.39,632.34 372.13,631.05 373.87,629.75 375.61,628.43 377.35,627.11 379.1,625.77 380.84,624.42 382.58,623.06 384.32,621.69 386.06,620.3 387.8,618.89 389.54,617.47 391.28,616.03 393.03,614.58 394.77,613.1 396.51,611.61 398.25,610.1 399.99,608.57 401.73,607.01 403.47,605.44 405.21,603.84 406.96,602.22 408.7,600.57 410.44,598.9 412.18,597.2 413.92,595.48 415.66,593.73 417.4,591.95 419.14,590.14 420.88,588.31 422.63,586.44 424.37,584.54 426.11,582.61 427.85,580.65 429.59,578.65 431.33,576.63 433.07,574.56 434.81,572.46 436.56,570.33 438.3,568.15 440.04,565.94 441.78,563.69 443.52,561.41 445.26,559.08 447,556.71 448.74,554.3 450.49,551.84 452.23,549.35 453.97,546.81 455.71,544.22 457.45,541.59 459.19,538.92 460.93,536.19 462.67,533.42 464.41,530.6 466.16,527.73 467.9,524.81 469.64,521.84 471.38,518.83 473.12,515.76 474.86,512.64 476.6,509.48 478.34,506.28 480.09,503.04 481.83,499.76 483.57,496.44 485.31,493.09 487.05,489.7 488.79,486.28 490.53,482.84 492.27,479.36 494.02,475.86 495.76,472.33 497.5,468.78 499.24,465.21 500.98,461.62 502.72,458.02 504.46,454.4 506.2,450.76 507.94,447.12 509.69,443.46 511.43,439.8 513.17,436.13 514.91,432.46 516.65,428.79 518.39,425.11 520.13,421.44 521.87,417.77 523.62,414.1 525.36,410.44 527.1,406.79 528.84,403.15 530.58,399.53 532.32,395.92 534.06,392.32 535.8,388.74 537.55,385.18 539.29,381.65 541.03,378.13 542.77,374.64 544.51,371.18 546.25,367.75 547.99,364.35 549.73,360.98 551.47,357.65 553.22,354.35 554.96,351.09 556.7,347.87 558.44,344.69 560.18,341.56 561.92,338.47 563.66,335.43 565.4,332.43 567.15,329.49 568.89,326.6 570.63,323.77 572.37,320.99 574.11,318.27 575.85,315.61 577.59,313.02 579.33,310.48 581.08,308.02 582.82,305.62 584.56,303.29 586.3,301.03 588.04,298.84 589.78,296.73 591.52,294.69 593.26,292.74 595,290.86 596.75,289.07 598.49,287.36 600.23,285.73 601.97,284.2 603.71,282.75 605.45,281.39 607.19,280.13 608.93,278.96 610.68,277.89 612.42,276.91 614.16,276.02 615.9,275.22 617.64,274.51 619.38,273.9 621.12,273.37 622.86,272.93 624.61,272.58 626.35,272.32 628.09,272.15 629.83,272.06 631.57,272.06 633.31,272.14 635.05,272.31 636.79,272.57 638.53,272.9 640.28,273.32 642.02,273.82 643.76,274.41 645.5,275.07 647.24,275.82 648.98,276.65 650.72,277.55 652.46,278.53 654.21,279.6 655.95,280.73 657.69,281.95 659.43,283.24 661.17,284.61 662.91,286.05 664.65,287.57 666.39,289.16 668.14,290.82 669.88,292.56 671.62,294.37 673.36,296.25 675.1,298.2 676.84,300.2 678.58,302.27 680.32,304.4 682.06,306.61 683.81,308.87 685.55,311.21 687.29,313.61 689.03,316.07 690.77,318.6 692.51,321.19 694.25,323.84 695.99,326.56 697.74,329.34 699.48,332.18 701.22,335.07 702.96,338.03 704.7,341.05 706.44,344.13 708.18,347.26 709.92,350.45 711.67,353.7 713.41,357 715.15,360.36 716.89,363.78 718.63,367.25 720.37,370.77 722.11,374.35 723.85,377.97 725.59,381.65 727.34,385.39 729.08,389.17 730.82,393 732.56,396.88 734.3,400.81 736.04,404.79 737.78,408.82 739.52,412.9 741.27,417.02 743.01,421.18 744.75,425.4 746.49,429.65 748.23,433.96 749.97,438.3 751.71,442.69 753.45,447.12 755.2,451.59 756.94,456.1 758.68,460.66 760.42,465.25 762.16,469.89 763.9,474.56 765.64,479.27 767.38,484.01 769.12,488.78 770.87,493.57 772.61,498.39 774.35,503.23 776.09,508.09 777.83,512.96 779.57,517.84 781.31,522.77 783.05,527.71 784.8,532.65 786.54,537.59 788.28,542.53 790.02,547.45 791.76,552.36 793.5,557.25 795.24,562.13 796.98,566.98 798.73,571.81 800.47,576.61 802.21,581.38 803.95,586.11 805.69,590.8 807.43,595.45 809.17,600.05 810.91,604.61 812.65,609.12 814.4,613.58 816.14,618 817.88,622.37 819.62,626.7 821.36,630.98 823.1,635.22 824.84,639.41 826.58,643.56 828.33,647.67 830.07,651.73 831.81,655.75 833.55,659.73 835.29,663.67 837.03,667.57 838.77,671.42 840.51,675.24 842.26,679.01 844,682.75 845.74,686.45 847.48,690.11 849.22,693.73 850.96,697.31 852.7,700.85 854.44,704.36 856.18,707.83 857.93,711.27 859.67,714.67 861.41,718.04 863.15,721.39 864.89,724.7 866.63,728 868.37,731.27 870.11,734.52 871.86,737.75 873.6,740.96 875.34,744.16 877.08,747.35 878.82,750.52 880.56,753.69 882.3,756.85 884.04,760 885.79,763.15 887.53,766.31 889.27,769.46 891.01,772.61 892.75,775.77 894.49,778.94 896.23,782.12 897.97,785.31 899.71,788.51 901.46,791.73 903.2,794.96 904.94,797.56 906.68,797.56 908.42,797.56 910.16,797.56 911.9,797.56 913.64,797.56 915.39,797.56 917.13,797.56 918.87,797.56 920.61,797.56 922.35,797.56 924.09,797.56 925.83,797.56 927.57,797.56 929.32,797.56 931.06,797.56 932.8,797.56 934.54,797.56 936.28,797.56 938.02,797.56 939.76,797.56 941.5,797.56 943.24,797.56 944.99,797.56 946.73,797.56 948.47,797.56 950.21,797.56 951.95,797.56 953.69,797.56 955.43,797.56 957.17,797.56 958.92,797.56 960.66,797.56 962.4,797.56 964.14,797.56 965.88,797.56 967.62,797.56 969.36,797.56 971.1,797.56 972.85,797.56 974.59,797.56 976.33,797.56 978.07,797.56 979.81,797.56 981.55,797.56 983.29,797.56 985.03,797.56 986.77,797.56 988.52,797.56 990.26,797.56 992,797.56 993.74,797.56 995.48,797.56 997.22,797.56 998.96,797.56 1000.7,797.56 1002.45,797.56 1004.19,797.56 1005.93,797.56 1007.67,797.56 1009.41,797.56 1011.15,797.56 1012.89,797.56 1014.63,797.56 1016.38,797.56 1018.12,797.56 1019.86,797.56 1021.6,797.56 1023.34,797.56 1025.08,797.56 1026.82,797.56 1028.56,797.56 1030.3,797.56 1032.05,797.56 1033.79,797.56 1035.53,797.56 1037.27,797.56 1039.01,797.56 1040.75,797.56 1042.49,797.56 1044.23,797.56 1045.98,797.56 1047.72,797.56 1049.46,797.56 1051.2,797.56 1052.94,797.56 1054.68,797.56 1056.42,797.56 1058.16,797.56 1059.91,797.56 1061.65,797.56 1063.39,797.56 1065.13,797.56 1066.87,797.56 1068.61,797.56 1070.35,797.56 1072.09,797.56 1073.83,797.56 1075.58,797.56 1077.32,797.56 1079.06,797.56 1080.8,797.56 1082.54,797.56 1084.28,797.56 1086.02,797.56 1087.76,797.56 1089.51,797.56 1091.25,797.56 1092.99,797.56 1094.73,797.56 1096.47,797.56 1098.21,797.56 1099.95,797.56 1101.69,797.56 1103.44,797.56 1105.18,797.56 1106.92,797.56 1108.66,797.56 1110.4,797.56" stroke="#3333a8"/>
<polyline points="239.8,656.22 241.54,657.9 243.28,659.51 245.02,661.02 246.76,662.46 248.51,663.81 250.25,665.09 251.99,666.28 253.73,667.4 255.47,668.44 257.21,669.41 258.95,670.3 260.69,671.12 262.44,671.87 264.18,672.54 265.92,673.15 267.66,673.69 269.4,674.17 271.14,674.58 272.88,674.92 274.62,675.2 276.37,675.42 278.11,675.59 279.85,675.69 281.59,675.73 283.33,675.72 285.07,675.65 286.81,675.53 288.55,675.35 290.29,675.13 292.04,674.85 293.78,674.53 295.52,674.15 297.26,673.73 299,673.27 300.74,672.76 302.48,672.2 304.22,671.61 305.97,670.98 307.71,670.3 309.45,669.59 311.19,668.84 312.93,668.06 314.67,667.24 316.41,666.39 318.15,665.51 319.9,664.59 321.64,663.65 323.38,662.68 325.12,661.68 326.86,660.65 328.6,659.61 330.34,658.53 332.08,657.44 333.82,656.32 335.57,655.19 337.31,654.04 339.05,652.86 340.79,651.68 342.53,650.48 344.27,649.26 346.01,648.03 347.75,646.79 349.5,645.55 351.24,644.29 352.98,643.02 354.72,641.75 356.46,640.48 358.2,639.19 359.94,637.91 361.68,636.62 363.43,635.33 365.17,634.04 366.91,632.74 368.65,631.43 370.39,630.11 372.13,628.79 373.87,627.46 375.61,626.11 377.35,624.76 379.1,623.4 380.84,622.02 382.58,620.63 384.32,619.23 386.06,617.81 387.8,616.38 389.54,614.93 391.28,613.47 393.03,611.99 394.77,610.49 396.51,608.97 398.25,607.43 399.99,605.87 401.73,604.29 403.47,602.69 405.21,601.06 406.96,599.41 408.7,597.74 410.44,596.04 412.18,594.32 413.92,592.57 415.66,590.79 417.4,588.98 419.14,587.14 420.88,585.28 422.63,583.38 424.37,581.46 426.11,579.5 427.85,577.5 429.59,575.48 431.33,573.42 433.07,571.3 434.81,569.15 436.56,566.96 438.3,564.73 440.04,562.47 441.78,560.16 443.52,557.82 445.26,555.43 447,553 448.74,550.53 450.49,548.02 452.23,545.46 453.97,542.85 455.71,540.2 457.45,537.51 459.19,534.76 460.93,531.97 462.67,529.13 464.41,526.24 466.16,523.3 467.9,520.3 469.64,517.26 471.38,514.16 473.12,511.02 474.86,507.82 476.6,504.58 478.34,501.3 480.09,497.97 481.83,494.61 483.57,491.2 485.31,487.76 487.05,484.29 488.79,480.78 490.53,477.24 492.27,473.67 494.02,470.07 495.76,466.45 497.5,462.81 499.24,459.14 500.98,455.46 502.72,451.75 504.46,448.03 506.2,444.3 507.94,440.55 509.69,436.79 511.43,433.03 513.17,429.26 514.91,425.48 516.65,421.7 518.39,417.92 520.13,414.14 521.87,410.36 523.62,406.59 525.36,402.82 527.1,399.06 528.84,395.31 530.58,391.61 532.32,387.93 534.06,384.26 535.8,380.6 537.55,376.97 539.29,373.36 541.03,369.78 542.77,366.22 544.51,362.69 546.25,359.18 547.99,355.71 549.73,352.27 551.47,348.87 553.22,345.51 554.96,342.18 556.7,338.89 558.44,335.65 560.18,332.45 561.92,329.3 563.66,326.19 565.4,323.14 567.15,320.14 568.89,317.19 570.63,314.3 572.37,311.46 574.11,308.69 575.85,305.98 577.59,303.33 579.33,300.74 581.08,298.22 582.82,295.77 584.56,293.4 586.3,291.09 588.04,288.86 589.78,286.7 591.52,284.63 593.26,282.63 595,280.72 596.75,278.89 598.49,277.14 600.23,275.48 601.97,273.92 603.71,272.44 605.45,271.06 607.19,269.77 608.93,268.58 610.68,267.48 612.42,266.48 614.16,265.57 615.9,264.76 617.64,264.03 619.38,263.4 621.12,262.87 622.86,262.42 624.61,262.06 626.35,261.8 628.09,261.62 629.83,261.53 631.57,261.53 633.31,261.62 635.05,261.79 636.79,262.05 638.53,262.39 640.28,262.82 642.02,263.33 643.76,263.93 645.5,264.61 647.24,265.37 648.98,266.21 650.72,267.13 652.46,268.14 654.21,269.22 655.95,270.38 657.69,271.62 659.43,272.94 661.17,274.34 662.91,275.81 664.65,277.36 666.39,278.98 668.14,280.68 669.88,282.45 671.62,284.3 673.36,286.22 675.1,288.21 676.84,290.25 678.58,292.37 680.32,294.56 682.06,296.81 683.81,299.14 685.55,301.53 687.29,303.99 689.03,306.51 690.77,309.1 692.51,311.76 694.25,314.48 695.99,317.26 697.74,320.11 699.48,323.02 701.22,325.99 702.96,329.02 704.7,332.11 706.44,335.27 708.18,338.48 709.92,341.75 711.67,345.08 713.41,348.47 715.15,351.91 716.89,355.41 718.63,358.97 720.37,362.58 722.11,366.25 723.85,369.97 725.59,373.74 727.34,377.57 729.08,381.45 730.82,385.38 732.56,389.36 734.3,393.39 736.04,397.47 737.78,401.6 739.52,405.78 741.27,410 743.01,414.28 744.75,418.59 746.49,422.96 748.23,427.37 749.97,431.83 751.71,436.33 753.45,440.87 755.2,445.45 756.94,450.08 758.68,454.75 760.42,459.46 762.16,464.21 763.9,469 765.64,473.83 767.38,478.69 769.12,483.58 770.87,488.5 772.61,493.43 774.35,498.39 776.09,503.37 777.83,508.36 779.57,513.36 781.31,518.39 783.05,523.44 784.8,528.48 786.54,533.52 788.28,538.55 790.02,543.57 791.76,548.58 793.5,553.57 795.24,558.54 796.98,563.49 798.73,568.41 800.47,573.3 802.21,578.16 803.95,582.98 805.69,587.76 807.43,592.49 809.17,597.18 810.91,601.82 812.65,606.42 814.4,610.96 816.14,615.46 817.88,619.91 819.62,624.32 821.36,628.68 823.1,633 824.84,637.27 826.58,641.49 828.33,645.68 830.07,649.81 831.81,653.91 833.55,657.96 835.29,661.97 837.03,665.94 838.77,669.87 840.51,673.75 842.26,677.6 844,681.4 845.74,685.17 847.48,688.89 849.22,692.58 850.96,696.23 852.7,699.84 854.44,703.41 856.18,706.94 857.93,710.44 859.67,713.91 861.41,717.35 863.15,720.75 864.89,724.13 866.63,727.49 868.37,730.82 870.11,734.13 871.86,737.43 873.6,740.7 875.34,743.96 877.08,747.21 878.82,750.45 880.56,753.68 882.3,756.91 884.04,760.12 885.79,763.34 887.53,766.56 889.27,769.77 891.01,773 892.75,776.22 894.49,779.46 896.23,782.7 897.97,785.4 899.71,789.23 901.46,792.51 903.2,795.82 904.94,797.56 906.68,797.56 908.42,797.56 910.16,797.56 911.9,797.56 913.64,797.56 915.39,797.56 917.13,797.56 918.87,797.56 920.61,797.56 922.35,797.56 924.09,797.56 925.83,797.56 927.57,797.56 929.32,797.56 931.06,797.56 932.8,797.56 934.54,797.56 936.28,797.56 938.02,797.56 939.76,797.56 941.5,797.56 943.24,797.56 944.99,797.56 946.73,797.56 948.47,797.56 950.21,797.56 951.95,797.56 953.69,797.56 955.43,797.56 957.17,797.56 958.92,797.56 960.66,797.56 962.4,797.56 964.14,797.56 965.88,797.56 967.62,797.56 969.36,797.56 971.1,797.56 972.85,797.56 974.59,797.56 976.33,797.56 978.07,797.56 979.81,797.56 981.55,797.56 983.29,797.56 985.03,797.56 986.77,797.56 988.52,797.56 990.26,797.56 992,797.56 993.74,797.56 995.48,797.56 997.22,797.56 998.96,797.56 1000.7,797.56 1002.45,797.56 1004.19,797.56 1005.93,797.56 1007.67,797.56 1009.41,797.56 1011.15,797.56 1012.89,797.56 1014.63,797.56 1016.38,797.56 1018.12,797.56 1019.86,797.56 1021.6,797.56 1023.34,797.56 1025.08,797.56 1026.82,797.56 1028.56,797.56 1030.3,797.56 1032.05,797.56 1033.79,797.56 1035.53,797.56 1037.27,797.56 1039.01,797.56 1040.75,797.56 1042.49,797.56 1044.23,797.56 1045.98,797.56 1047.72,797.56 1049.46,797.56 1051.2,797.56 1052.94,797.56 1054.68,797.56 1056.42,797.56 1058.16,797.56 1059.91,797.56 1061.65,797.56 1063.39,797.56 1065.13,797.56 1066.87,797.56 1068.61,797.56 1070.35,797.56 1072.09,797.56 1073.83,797.56 1075.58,797.56 1077.32,797.56 1079.06,797.56 1080.8,797.56 1082.54,797.56 1084.28,797.56 1086.02,797.56 1087.76,797.56 1089.51,797.56 1091.25,797.56 1092.99,797.56 1094.73,797.56 1096.47,797.56 1098.21,797.56 1099.95,797.56 1101.69,797.56 1103.44,797.56 1105.18,797.56 1106.92,797.56 1108.66,797.56 1110.4,797.56" stroke="#119a4c"/>
<polyline points="239.8,654.95 241.54,656.66 243.28,658.28 245.02,659.81 246.76,661.27 248.51,662.64 250.25,663.93 251.99,665.14 253.73,666.27 255.47,667.32 257.21,668.3 258.95,669.21 260.69,670.04 262.44,670.8 264.18,671.49 265.92,672.1 267.66,672.65 269.4,673.14 271.14,673.55 272.88,673.91 274.62,674.19 276.37,674.42 278.11,674.59 279.85,674.69 281.59,674.74 283.33,674.73 285.07,674.66 286.81,674.54 288.55,674.37 290.29,674.14 292.04,673.86 293.78,673.54 295.52,673.16 297.26,672.74 299,672.27 300.74,671.75 302.48,671.19 304.22,670.59 305.97,669.95 307.71,669.27 309.45,668.55 311.19,667.79 312.93,667 314.67,666.17 316.41,665.31 318.15,664.42 319.9,663.49 321.64,662.54 323.38,661.55 325.12,660.54 326.86,659.5 328.6,658.44 330.34,657.36 332.08,656.25 333.82,655.12 335.57,653.97 337.31,652.8 339.05,651.61 340.79,650.41 342.53,649.19 344.27,647.96 346.01,646.72 347.75,645.46 349.5,644.2 351.24,642.92 352.98,641.64 354.72,640.36 356.46,639.06 358.2,637.77 359.94,636.47 361.68,635.16 363.43,633.86 365.17,632.55 366.91,631.23 368.65,629.9 370.39,628.57 372.13,627.23 373.87,625.89 375.61,624.53 377.35,623.16 379.1,621.78 380.84,620.39 382.58,618.98 384.32,617.57 386.06,616.13 387.8,614.69 389.54,613.22 391.28,611.74 393.03,610.24 394.77,608.73 396.51,607.19 398.25,605.64 399.99,604.06 401.73,602.47 403.47,600.85 405.21,599.2 406.96,597.54 408.7,595.85 410.44,594.13 412.18,592.39 413.92,590.62 415.66,588.82 417.4,587 419.14,585.14 420.88,583.26 422.63,581.34 424.37,579.4 426.11,577.42 427.85,575.4 429.59,573.36 431.33,571.28 433.07,569.16 434.81,567.01 436.56,564.81 438.3,562.59 440.04,560.32 441.78,558.01 443.52,555.66 445.26,553.28 447,550.85 448.74,548.37 450.49,545.86 452.23,543.3 453.97,540.69 455.71,538.04 457.45,535.34 459.19,532.6 460.93,529.8 462.67,526.96 464.41,524.07 466.16,521.13 467.9,518.13 469.64,515.09 471.38,511.99 473.12,508.84 474.86,505.65 476.6,502.41 478.34,499.13 480.09,495.8 481.83,492.44 483.57,489.03 485.31,485.59 487.05,482.12 488.79,478.61 490.53,475.08 492.27,471.51 494.02,467.92 495.76,464.3 497.5,460.66 499.24,457 500.98,453.32 502.72,449.62 504.46,445.91 506.2,442.18 507.94,438.45 509.69,434.7 511.43,430.94 513.17,427.18 514.91,423.41 516.65,419.64 518.39,415.87 520.13,412.11 521.87,408.34 523.62,404.58 525.36,400.83 527.1,397.09 528.84,393.35 530.58,389.63 532.32,385.93 534.06,382.24 535.8,378.57 537.55,374.92 539.29,371.29 541.03,367.69 542.77,364.11 544.51,360.56 546.25,357.04 547.99,353.55 549.73,350.1 551.47,346.68 553.22,343.3 554.96,339.95 556.7,336.65 558.44,333.39 560.18,330.18 561.92,327.01 563.66,323.89 565.4,320.82 567.15,317.8 568.89,314.84 570.63,311.93 572.37,309.08 574.11,306.29 575.85,303.57 577.59,300.9 579.33,298.31 581.08,295.77 582.82,293.31 584.56,290.92 586.3,288.61 588.04,286.36 589.78,284.2 591.52,282.11 593.26,280.1 595,278.18 596.75,276.34 598.49,274.59 600.23,272.92 601.97,271.35 603.71,269.86 605.45,268.47 607.19,267.18 608.93,265.98 610.68,264.88 612.42,263.87 614.16,262.96 615.9,262.14 617.64,261.41 619.38,260.78 621.12,260.24 622.86,259.79 624.61,259.43 626.35,259.17 628.09,258.99 629.83,258.9 631.57,258.9 633.31,258.98 635.05,259.16 636.79,259.42 638.53,259.76 640.28,260.19 642.02,260.71 643.76,261.31 645.5,261.99 647.24,262.75 648.98,263.6 650.72,264.53 652.46,265.54 654.21,266.63 655.95,267.79 657.69,269.04 659.43,270.37 661.17,271.77 662.91,273.25 664.65,274.8 666.39,276.44 668.14,278.14 669.88,279.92 671.62,281.78 673.36,283.71 675.1,285.71 676.84,287.78 678.58,289.92 680.32,292.14 682.06,294.42 683.81,296.77 685.55,299.2 687.29,301.69 689.03,304.24 690.77,306.87 692.51,309.56 694.25,312.32 695.99,315.14 697.74,318.02 699.48,320.97 701.22,323.98 702.96,327.06 704.7,330.19 706.44,333.39 708.18,336.65 709.92,339.97 711.67,343.34 713.41,346.78 715.15,350.27 716.89,353.83 718.63,357.43 720.37,361.1 722.11,364.82 723.85,368.59 725.59,372.42 727.34,376.3 729.08,380.23 730.82,384.22 732.56,388.26 734.3,392.35 736.04,396.49 737.78,400.68 739.52,404.92 741.27,409.21 743.01,413.54 744.75,417.92 746.49,422.35 748.23,426.83 749.97,431.35 751.71,435.92 753.45,440.52 755.2,445.18 756.94,449.87 758.68,454.61 760.42,459.39 762.16,464.21 763.9,469.07 765.64,473.97 767.38,478.89 769.12,483.85 770.87,488.83 772.61,493.84 774.35,498.86 776.09,503.9 777.83,508.95 779.57,514.01 781.31,519.08 783.05,524.15 784.8,529.21 786.54,534.28 788.28,539.33 790.02,544.37 791.76,549.4 793.5,554.41 795.24,559.39 796.98,564.36 798.73,569.29 800.47,574.19 802.21,579.06 803.95,583.89 805.69,588.67 807.43,593.42 809.17,598.11 810.91,602.75 812.65,607.35 814.4,611.9 816.14,616.4 817.88,620.86 819.62,625.27 821.36,629.63 823.1,633.95 824.84,638.23 826.58,642.46 828.33,646.64 830.07,650.78 831.81,654.88 833.55,658.94 835.29,662.95 837.03,666.92 838.77,670.85 840.51,674.74 842.26,678.59 844,682.4 845.74,686.17 847.48,689.89 849.22,693.58 850.96,697.23 852.7,700.85 854.44,704.42 856.18,707.96 857.93,711.46 859.67,714.94 861.41,718.38 863.15,721.79 864.89,725.18 866.63,728.54 868.37,731.88 870.11,735.2 871.86,738.5 873.6,741.79 875.34,745.06 877.08,748.32 878.82,751.58 880.56,754.82 882.3,758.06 884.04,761.29 885.79,764.52 887.53,767.76 889.27,770.99 891.01,774.23 892.75,777.48 894.49,780.73 896.23,784 897.97,787.27 899.71,790.57 901.46,793.88 903.2,797.2 904.94,797.56 906.68,797.56 908.42,797.56 910.16,797.56 911.9,797.56 913.64,797.56 915.39,797.56 917.13,797.56 918.87,797.56 920.61,797.56 922.35,797.56 924.09,797.56 925.83,797.56 927.57,797.56 929.32,797.56 931.06,797.56 932.8,797.56 934.54,797.56 936.28,797.56 938.02,797.56 939.76,797.56 941.5,797.56 943.24,797.56 944.99,797.56 946.73,797.56 948.47,797.56 950.21,797.56 951.95,797.56 953.69,797.56 955.43,797.56 957.17,797.56 958.92,797.56 960.66,797.56 962.4,797.56 964.14,797.56 965.88,797.56 967.62,797.56 969.36,797.56 971.1,797.56 972.85,797.56 974.59,797.56 976.33,797.56 978.07,797.56 979.81,797.56 981.55,797.56 983.29,797.56 985.03,797.56 986.77,797.56 988.52,797.56 990.26,797.56 992,797.56 993.74,797.56 995.48,797.56 997.22,797.56 998.96,797.56 1000.7,797.56 1002.45,797.56 1004.19,797.56 1005.93,797.56 1007.67,797.56 1009.41,797.56 1011.15,797.56 1012.89,797.56 1014.63,797.56 1016.38,797.56 1018.12,797.56 1019.86,797.56 1021.6,797.56 1023.34,797.56 1025.08,797.56 1026.82,797.56 1028.56,797.56 1030.3,797.56 1032.05,797.56 1033.79,797.56 1035.53,797.56 1037.27,797.56 1039.01,797.56 1040.75,797.56 1042.49,797.56 1044.23,797.56 1045.98,797.56 1047.72,797.56 1049.46,797.56 1051.2,797.56 1052.94,797.56 1054.68,797.56 1056.42,797.56 1058.16,797.56 1059.91,797.56 1061.65,797.56 1063.39,797.56 1065.13,797.56 1066.87,797.56 1068.61,797.56 1070.35,797.56 1072.09,797.56 1073.83,797.56 1075.58,797.56 1077.32,797.56 1079.06,797.56 1080.8,797.56 1082.54,797.56 1084.28,797.56 1086.02,797.56 1087.76,797.56 1089.51,797.56 1091.25,797.56 1092.99,797.56 1094.73,797.56 1096.47,797.56 1098.21,797.56 1099.95,797.56 1101.69,797.56 1103.44,797.56 1105.18,797.56 1106.92,797.56 1108.66,797.56 1110.4,797.56" stroke="#9428ff"/>
</g>
<path d="M240.3,136.8 V785.4 H1110.4" fill="none" stroke="#1a1a1a" stroke-width="3.4"/>
<line x1="226.3" y1="785.4" x2="240.3" y2="785.4" stroke="#1a1a1a" stroke-width="3.2" />
<line x1="231.3" y1="704.32" x2="240.3" y2="704.32" stroke="#1a1a1a" stroke-width="3.2" />
<line x1="226.3" y1="623.25" x2="240.3" y2="623.25" stroke="#1a1a1a" stroke-width="3.2" />
<line x1="231.3" y1="542.17" x2="240.3" y2="542.17" stroke="#1a1a1a" stroke-width="3.2" />
<line x1="226.3" y1="461.1" x2="240.3" y2="461.1" stroke="#1a1a1a" stroke-width="3.2" />
<line x1="231.3" y1="380.02" x2="240.3" y2="380.02" stroke="#1a1a1a" stroke-width="3.2" />
<line x1="226.3" y1="298.95" x2="240.3" y2="298.95" stroke="#1a1a1a" stroke-width="3.2" />
<line x1="231.3" y1="217.87" x2="240.3" y2="217.87" stroke="#1a1a1a" stroke-width="3.2" />
<line x1="226.3" y1="136.8" x2="240.3" y2="136.8" stroke="#1a1a1a" stroke-width="3.2" />
<line x1="239.8" y1="785.4" x2="239.8" y2="799.4" stroke="#1a1a1a" stroke-width="3.2" />
<line x1="326.86" y1="785.4" x2="326.86" y2="794.4" stroke="#1a1a1a" stroke-width="3.2" />
<line x1="413.92" y1="785.4" x2="413.92" y2="799.4" stroke="#1a1a1a" stroke-width="3.2" />
<line x1="500.98" y1="785.4" x2="500.98" y2="794.4" stroke="#1a1a1a" stroke-width="3.2" />
<line x1="588.04" y1="785.4" x2="588.04" y2="799.4" stroke="#1a1a1a" stroke-width="3.2" />
<line x1="675.1" y1="785.4" x2="675.1" y2="794.4" stroke="#1a1a1a" stroke-width="3.2" />
<line x1="762.16" y1="785.4" x2="762.16" y2="799.4" stroke="#1a1a1a" stroke-width="3.2" />
<line x1="849.22" y1="785.4" x2="849.22" y2="794.4" stroke="#1a1a1a" stroke-width="3.2" />
<line x1="936.28" y1="785.4" x2="936.28" y2="799.4" stroke="#1a1a1a" stroke-width="3.2" />
<line x1="1023.34" y1="785.4" x2="1023.34" y2="794.4" stroke="#1a1a1a" stroke-width="3.2" />
<line x1="1110.4" y1="785.4" x2="1110.4" y2="799.4" stroke="#1a1a1a" stroke-width="3.2" />
<text x="219.7" y="796.9" font-family="'Liberation Sans', Arial, sans-serif" font-size="42.5" font-weight="bold" fill="#111" text-anchor="end" letter-spacing="1.2">0.00</text>
<text x="219.7" y="634.75" font-family="'Liberation Sans', Arial, sans-serif" font-size="42.5" font-weight="bold" fill="#111" text-anchor="end" letter-spacing="1.2">0.04</text>
<text x="219.7" y="472.6" font-family="'Liberation Sans', Arial, sans-serif" font-size="42.5" font-weight="bold" fill="#111" text-anchor="end" letter-spacing="1.2">0.08</text>
<text x="219.7" y="310.45" font-family="'Liberation Sans', Arial, sans-serif" font-size="42.5" font-weight="bold" fill="#111" text-anchor="end" letter-spacing="1.2">0.12</text>
<text x="219.7" y="148.3" font-family="'Liberation Sans', Arial, sans-serif" font-size="42.5" font-weight="bold" fill="#111" text-anchor="end" letter-spacing="1.2">0.16</text>
<text x="239.8" y="842" font-family="'Liberation Sans', Arial, sans-serif" font-size="42.5" font-weight="bold" fill="#111" text-anchor="middle" >450</text>
<text x="413.92" y="842" font-family="'Liberation Sans', Arial, sans-serif" font-size="42.5" font-weight="bold" fill="#111" text-anchor="middle" >500</text>
<text x="588.04" y="842" font-family="'Liberation Sans', Arial, sans-serif" font-size="42.5" font-weight="bold" fill="#111" text-anchor="middle" >550</text>
<text x="762.16" y="842" font-family="'Liberation Sans', Arial, sans-serif" font-size="42.5" font-weight="bold" fill="#111" text-anchor="middle" >600</text>
<text x="936.28" y="842" font-family="'Liberation Sans', Arial, sans-serif" font-size="42.5" font-weight="bold" fill="#111" text-anchor="middle" >650</text>
<text x="1110.4" y="842" font-family="'Liberation Sans', Arial, sans-serif" font-size="42.5" font-weight="bold" fill="#111" text-anchor="middle" >700</text>
<text x="492" y="908.4" font-family="'Liberation Sans', Arial, sans-serif" font-size="50.5" font-weight="bold" fill="#111" text-anchor="start" textLength="405" lengthAdjust="spacingAndGlyphs">Wavelength (nm)</text>
<text transform="translate(87.8,687) rotate(-90)" font-family="'Liberation Sans', Arial, sans-serif" font-size="50.5" font-weight="bold" fill="#111" textLength="424" lengthAdjust="spacingAndGlyphs">Absorbance (a.u.)</text>
<text x="22.8" y="120" font-family="'Liberation Serif', 'Times New Roman', serif" font-size="59" font-weight="bold" fill="#111" text-anchor="start" textLength="72" lengthAdjust="spacingAndGlyphs">(a)</text>
<g filter="url(#soft1)">
<rect x="1974.6" y="167.3" width="95.4" height="51.1" fill="url(#capG)" rx="2"/>
<rect x="1974.1" y="219.4" width="97.4" height="111" fill="url(#glassG)"/>
<path d="M1974.6,330.4 H2070 V415.4 C2070,425.4 2050.92,427.4 2022.3,427.4 C1993.68,427.4 1974.6,425.4 1974.6,415.4 Z" fill="url(#liqMC)"/>
<path d="M1975.6,331.4 Q2022.3,338.4 2069,331.4" fill="none" stroke="#7a067c" stroke-width="2.2" opacity="0.75"/>
<path d="M1982.6,326.4 Q2022.3,332.4 2062,326.4" fill="none" stroke="#f6eef6" stroke-width="3" opacity="0.9"/>
<path d="M1977.6,413.4 Q2022.3,419.4 2067,413.4" fill="none" stroke="#c060c0" stroke-width="5" opacity="0.45"/>
</g>
<g filter="url(#soft1)">
<rect x="2159.1" y="503.7" width="91" height="42.6" fill="url(#capG)" rx="2"/>
<rect x="2158.6" y="547.3" width="93" height="106.2" fill="url(#glassSP)"/>
<path d="M2159.1,653.5 H2250.1 V718.3 C2250.1,728.3 2231.9,730.3 2204.6,730.3 C2177.3,730.3 2159.1,728.3 2159.1,718.3 Z" fill="url(#liqSP)"/>
<path d="M2161.1,653.5 Q2204.6,659.5 2248.1,653.5" fill="none" stroke="#f8f4f8" stroke-width="4" opacity="0.9"/>
<ellipse cx="2204.6" cy="609.9" rx="21.84" ry="30.02" fill="#e6e4de" opacity="0.7"/>
</g>
<text x="1992.9" y="473.8" font-family="'Liberation Serif', 'Times New Roman', serif" font-size="48.3" font-weight="bold" fill="#d5065e" text-anchor="start" >MC</text>
<text x="2180.8" y="766.4" font-family="'Liberation Serif', 'Times New Roman', serif" font-size="48" font-weight="bold" fill="#d5065e" text-anchor="start" >SP</text>
<polygon points="2095.7,264 2131.4,264 2131.4,667.3 2148.7,667.3 2113.5,731.9 2078.4,667.3 2095.7,667.3" fill="url(#arrG)" stroke="#3d98cf" stroke-width="2.2" stroke-linejoin="miter"/>
<polygon points="2078,49.6 2101.9,72.7 2076.1,91.1 2079.8,99.9 2056.8,121.5 2059.1,126.1 2017.6,153.8 2044.3,114.1 2041.6,105.9 2061.8,83.7 2059.5,76.4" fill="#10cc10" stroke="none" stroke-width="0" filter="url(#soft1)"/>
<text transform="translate(1999,136) rotate(-55)" font-family="'Liberation Serif', 'Times New Roman', serif" font-size="38.5" font-weight="bold" fill="#111">520 nm</text>
<text x="2228" y="207.4" font-family="'Liberation Serif', 'Times New Roman', serif" font-size="45.5" font-weight="bold" fill="#111" text-anchor="start" textLength="221" lengthAdjust="spacingAndGlyphs">Time (min)</text>
<line x1="2228" y1="214.3" x2="2449" y2="214.3" stroke="#111" stroke-width="3" />
<text x="2272" y="284.8" font-family="'Liberation Serif', 'Times New Roman', serif" font-size="46" font-weight="bold" fill="#111" text-anchor="start" >0 min</text>
<text x="2272" y="341.5" font-family="'Liberation Serif', 'Times New Roman', serif" font-size="46" font-weight="bold" fill="#111" text-anchor="start" >2 min</text>
<text x="2272" y="398.2" font-family="'Liberation Serif', 'Times New Roman', serif" font-size="46" font-weight="bold" fill="#111" text-anchor="start" >4 min</text>
<text x="2272" y="453.5" font-family="'Liberation Serif', 'Times New Roman', serif" font-size="46" font-weight="bold" fill="#111" text-anchor="start" >6 min</text>
<text x="2272" y="510.6" font-family="'Liberation Serif', 'Times New Roman', serif" font-size="46" font-weight="bold" fill="#111" text-anchor="start" >8 min</text>
<text x="2272" y="566" font-family="'Liberation Serif', 'Times New Roman', serif" font-size="46" font-weight="bold" fill="#111" text-anchor="start" >10 min</text>
<text x="2272" y="622.4" font-family="'Liberation Serif', 'Times New Roman', serif" font-size="46" font-weight="bold" fill="#111" text-anchor="start" >15 min</text>
<clipPath id="clipB"><rect x="1471" y="100" width="815" height="694.55"/></clipPath>
<g clip-path="url(#clipB)" fill="none" stroke-width="3" stroke-linejoin="round" stroke-linecap="round">
<polyline points="1470,561.75 1471,562.15 1472,562.54 1473,562.93 1474,563.32 1475,563.7 1476,564.07 1477,564.43 1478,564.79 1479,565.14 1480,565.49 1481,565.83 1482,566.16 1483,566.49 1484,566.81 1485,567.12 1486,567.43 1487,567.73 1488,568.03 1489,568.32 1490,568.6 1491,568.87 1492,569.14 1493,569.4 1494,569.65 1495,569.9 1496,570.14 1497,570.38 1498,570.6 1499,570.82 1500,571.04 1501,571.24 1502,571.44 1503,571.63 1504,571.82 1505,572 1506,572.17 1507,572.33 1508,572.49 1509,572.64 1510,572.78 1511,572.91 1512,573.04 1513,573.16 1514,573.27 1515,573.38 1516,573.47 1517,573.56 1518,573.65 1519,573.72 1520,573.79 1521,573.85 1522,573.9 1523,573.95 1524,573.99 1525,574.02 1526,574.04 1527,574.05 1528,574.06 1529,574.06 1530,574.05 1531,574.03 1532,574 1533,573.97 1534,573.93 1535,573.88 1536,573.82 1537,573.76 1538,573.69 1539,573.6 1540,573.52 1541,573.42 1542,573.31 1543,573.2 1544,573.08 1545,572.95 1546,572.81 1547,572.66 1548,572.5 1549,572.34 1550,572.17 1551,571.99 1552,571.8 1553,571.6 1554,571.39 1555,571.18 1556,570.95 1557,570.72 1558,570.48 1559,570.23 1560,569.97 1561,569.7 1562,569.43 1563,569.14 1564,568.85 1565,568.55 1566,568.23 1567,567.91 1568,567.58 1569,567.25 1570,566.9 1571,566.54 1572,566.18 1573,565.8 1574,565.42 1575,565.02 1576,564.62 1577,564.21 1578,563.79 1579,563.36 1580,562.92 1581,562.47 1582,562.01 1583,561.54 1584,561.07 1585,560.58 1586,560.08 1587,559.58 1588,559.06 1589,558.54 1590,558 1591,557.46 1592,556.9 1593,556.34 1594,555.77 1595,555.18 1596,554.59 1597,553.99 1598,553.37 1599,552.75 1600,552.12 1601,551.48 1602,550.82 1603,550.16 1604,549.49 1605,548.81 1606,548.11 1607,547.41 1608,546.7 1609,545.97 1610,545.24 1611,544.5 1612,543.74 1613,542.98 1614,542.2 1615,541.42 1616,540.62 1617,539.81 1618,539 1619,538.17 1620,537.33 1621,536.48 1622,535.63 1623,534.76 1624,533.88 1625,532.98 1626,532.08 1627,531.17 1628,530.25 1629,529.31 1630,528.37 1631,527.41 1632,526.45 1633,525.47 1634,524.48 1635,523.48 1636,522.47 1637,521.45 1638,520.42 1639,519.37 1640,518.32 1641,517.25 1642,516.18 1643,515.09 1644,513.99 1645,512.88 1646,511.76 1647,510.62 1648,509.48 1649,508.32 1650,507.15 1651,505.98 1652,504.78 1653,503.58 1654,502.37 1655,501.14 1656,499.91 1657,498.66 1658,497.41 1659,496.14 1660,494.86 1661,493.57 1662,492.27 1663,490.97 1664,489.65 1665,488.32 1666,486.98 1667,485.63 1668,484.28 1669,482.91 1670,481.54 1671,480.15 1672,478.76 1673,477.36 1674,475.95 1675,474.53 1676,473.11 1677,471.68 1678,470.23 1679,468.78 1680,467.33 1681,465.86 1682,464.39 1683,462.91 1684,461.43 1685,459.94 1686,458.44 1687,456.93 1688,455.42 1689,453.9 1690,452.38 1691,450.84 1692,449.31 1693,447.77 1694,446.22 1695,444.66 1696,443.11 1697,441.54 1698,439.97 1699,438.4 1700,436.82 1701,435.24 1702,433.65 1703,432.06 1704,430.46 1705,428.86 1706,427.26 1707,425.65 1708,424.04 1709,422.43 1710,420.81 1711,419.19 1712,417.57 1713,415.94 1714,414.31 1715,412.68 1716,411.04 1717,409.41 1718,407.77 1719,406.13 1720,404.49 1721,402.84 1722,401.2 1723,399.55 1724,397.9 1725,396.25 1726,394.6 1727,392.95 1728,391.29 1729,389.64 1730,387.99 1731,386.33 1732,384.68 1733,383.03 1734,381.37 1735,379.72 1736,378.07 1737,376.41 1738,374.76 1739,373.11 1740,371.46 1741,369.81 1742,368.17 1743,366.52 1744,364.88 1745,363.23 1746,361.59 1747,359.96 1748,358.32 1749,356.69 1750,355.07 1751,353.45 1752,351.83 1753,350.22 1754,348.61 1755,347.01 1756,345.41 1757,343.83 1758,342.25 1759,340.67 1760,339.11 1761,337.55 1762,336 1763,334.46 1764,332.93 1765,331.4 1766,329.89 1767,328.39 1768,326.9 1769,325.42 1770,323.95 1771,322.49 1772,321.04 1773,319.61 1774,318.19 1775,316.78 1776,315.39 1777,314.01 1778,312.65 1779,311.3 1780,309.96 1781,308.64 1782,307.34 1783,306.05 1784,304.78 1785,303.53 1786,302.29 1787,301.07 1788,299.87 1789,298.68 1790,297.52 1791,296.38 1792,295.25 1793,294.15 1794,293.06 1795,292 1796,290.95 1797,289.93 1798,288.93 1799,287.95 1800,287 1801,286.06 1802,285.15 1803,284.27 1804,283.4 1805,282.57 1806,281.75 1807,280.96 1808,280.2 1809,279.46 1810,278.74 1811,278.06 1812,277.39 1813,276.76 1814,276.14 1815,275.56 1816,275 1817,274.47 1818,273.96 1819,273.49 1820,273.03 1821,272.61 1822,272.22 1823,271.85 1824,271.51 1825,271.2 1826,270.92 1827,270.66 1828,270.44 1829,270.24 1830,270.08 1831,269.94 1832,269.83 1833,269.76 1834,269.71 1835,269.69 1836,269.7 1837,269.75 1838,269.82 1839,269.92 1840,270.05 1841,270.21 1842,270.39 1843,270.61 1844,270.85 1845,271.13 1846,271.43 1847,271.76 1848,272.11 1849,272.5 1850,272.91 1851,273.36 1852,273.83 1853,274.32 1854,274.85 1855,275.4 1856,275.98 1857,276.58 1858,277.22 1859,277.88 1860,278.56 1861,279.28 1862,280.02 1863,280.78 1864,281.58 1865,282.39 1866,283.24 1867,284.11 1868,285.01 1869,285.93 1870,286.88 1871,287.85 1872,288.85 1873,289.87 1874,290.92 1875,292 1876,293.1 1877,294.22 1878,295.37 1879,296.54 1880,297.74 1881,298.96 1882,300.21 1883,301.48 1884,302.77 1885,304.09 1886,305.43 1887,306.8 1888,308.19 1889,309.6 1890,311.04 1891,312.5 1892,313.98 1893,315.48 1894,317.01 1895,318.56 1896,320.14 1897,321.73 1898,323.35 1899,324.99 1900,326.65 1901,328.34 1902,330.04 1903,331.77 1904,333.52 1905,335.29 1906,337.09 1907,338.9 1908,340.74 1909,342.59 1910,344.47 1911,346.37 1912,348.29 1913,350.23 1914,352.19 1915,354.17 1916,356.17 1917,358.19 1918,360.23 1919,362.3 1920,364.38 1921,366.48 1922,368.6 1923,370.74 1924,372.9 1925,375.07 1926,377.27 1927,379.49 1928,381.72 1929,383.98 1930,386.25 1931,388.54 1932,390.85 1933,393.18 1934,395.53 1935,397.89 1936,400.28 1937,402.68 1938,405.09 1939,407.53 1940,409.98 1941,412.45 1942,414.94 1943,417.45 1944,419.97 1945,422.51 1946,425.06 1947,427.63 1948,430.22 1949,432.82 1950,435.43 1951,438.06 1952,440.7 1953,443.35 1954,446.02 1955,448.7 1956,451.39 1957,454.09 1958,456.8 1959,459.52 1960,462.25 1961,464.99 1962,467.74 1963,470.5 1964,473.27 1965,476.04 1966,478.82 1967,481.61 1968,484.4 1969,487.2 1970,490 1971,492.81 1972,495.62 1973,498.44 1974,501.26 1975,504.08 1976,506.91 1977,509.74 1978,512.57 1979,515.4 1980,518.23 1981,521.06 1982,523.89 1983,526.72 1984,529.55 1985,532.38 1986,535.2 1987,538.02 1988,540.85 1989,543.66 1990,546.48 1991,549.28 1992,552.09 1993,554.89 1994,557.68 1995,560.47 1996,563.25 1997,566.02 1998,568.79 1999,571.55 2000,574.3 2001,577.04 2002,579.77 2003,582.5 2004,585.21 2005,587.91 2006,590.6 2007,593.28 2008,595.95 2009,598.6 2010,601.25 2011,603.88 2012,606.5 2013,609.11 2014,611.7 2015,614.28 2016,616.85 2017,619.4 2018,621.94 2019,624.47 2020,626.98 2021,629.48 2022,631.96 2023,634.43 2024,636.88 2025,639.32 2026,641.75 2027,644.15 2028,646.55 2029,648.92 2030,651.28 2031,653.63 2032,655.95 2033,658.26 2034,660.56 2035,662.83 2036,665.09 2037,667.33 2038,669.56 2039,671.76 2040,673.95 2041,676.12 2042,678.27 2043,680.41 2044,682.52 2045,684.62 2046,686.7 2047,688.77 2048,690.81 2049,692.84 2050,694.85 2051,696.84 2052,698.81 2053,700.77 2054,702.71 2055,704.63 2056,706.53 2057,708.41 2058,710.28 2059,712.13 2060,713.96 2061,715.77 2062,717.56 2063,719.34 2064,721.1 2065,722.84 2066,724.57 2067,726.27 2068,727.96 2069,729.63 2070,731.28 2071,732.91 2072,734.53 2073,736.13 2074,737.71 2075,739.27 2076,740.82 2077,742.35 2078,743.85 2079,745.35 2080,746.82 2081,748.28 2082,749.71 2083,751.13 2084,752.54 2085,753.92 2086,755.29 2087,756.64 2088,757.97 2089,759.28 2090,760.58 2091,761.85 2092,763.11 2093,764.36 2094,765.58 2095,766.79 2096,767.97 2097,769.14 2098,770.3 2099,771.43 2100,772.55 2101,773.65 2102,774.73 2103,775.8 2104,776.84 2105,777.87 2106,778.88 2107,779.87 2108,780.85 2109,781.8 2110,782.74 2111,783.67 2112,784.57 2113,785.46 2114,786.32 2115,787.17 2116,788.01 2117,788.82 2118,789.62 2119,790.4 2120,791.16 2121,791.9 2122,792.63 2123,793.34 2124,794.03 2125,794.7 2126,795.36 2127,795.99 2128,796.61 2129,797.21 2130,797.8" stroke="#222222"/>
<polyline points="1470,712.76 1471,713.06 1472,713.35 1473,713.63 1474,713.9 1475,714.16 1476,714.41 1477,714.65 1478,714.88 1479,715.1 1480,715.31 1481,715.51 1482,715.7 1483,715.88 1484,716.06 1485,716.22 1486,716.37 1487,716.51 1488,716.64 1489,716.77 1490,716.88 1491,716.99 1492,717.08 1493,717.17 1494,717.25 1495,717.32 1496,717.38 1497,717.43 1498,717.48 1499,717.51 1500,717.54 1501,717.56 1502,717.57 1503,717.57 1504,717.57 1505,717.55 1506,717.53 1507,717.5 1508,717.46 1509,717.42 1510,717.36 1511,717.3 1512,717.24 1513,717.16 1514,717.08 1515,716.99 1516,716.89 1517,716.79 1518,716.68 1519,716.56 1520,716.44 1521,716.3 1522,716.17 1523,716.02 1524,715.87 1525,715.71 1526,715.55 1527,715.38 1528,715.2 1529,715.02 1530,714.83 1531,714.64 1532,714.44 1533,714.23 1534,714.02 1535,713.8 1536,713.58 1537,713.35 1538,713.12 1539,712.88 1540,712.63 1541,712.38 1542,712.13 1543,711.87 1544,711.6 1545,711.33 1546,711.06 1547,710.78 1548,710.49 1549,710.21 1550,709.91 1551,709.62 1552,709.31 1553,709.01 1554,708.7 1555,708.38 1556,708.07 1557,707.74 1558,707.42 1559,707.09 1560,706.75 1561,706.42 1562,706.08 1563,705.73 1564,705.38 1565,705.03 1566,704.68 1567,704.32 1568,703.95 1569,703.59 1570,703.22 1571,702.84 1572,702.46 1573,702.08 1574,701.69 1575,701.3 1576,700.91 1577,700.51 1578,700.1 1579,699.7 1580,699.28 1581,698.87 1582,698.45 1583,698.02 1584,697.59 1585,697.16 1586,696.72 1587,696.28 1588,695.83 1589,695.38 1590,694.92 1591,694.46 1592,693.99 1593,693.52 1594,693.04 1595,692.56 1596,692.08 1597,691.59 1598,691.09 1599,690.59 1600,690.09 1601,689.58 1602,689.06 1603,688.54 1604,688.01 1605,687.48 1606,686.95 1607,686.4 1608,685.86 1609,685.31 1610,684.75 1611,684.19 1612,683.62 1613,683.04 1614,682.46 1615,681.88 1616,681.29 1617,680.69 1618,680.09 1619,679.48 1620,678.87 1621,678.25 1622,677.63 1623,677 1624,676.36 1625,675.72 1626,675.07 1627,674.41 1628,673.75 1629,673.09 1630,672.42 1631,671.74 1632,671.05 1633,670.36 1634,669.66 1635,668.96 1636,668.25 1637,667.53 1638,666.81 1639,666.08 1640,665.35 1641,664.6 1642,663.86 1643,663.1 1644,662.34 1645,661.57 1646,660.8 1647,660.01 1648,659.23 1649,658.43 1650,657.63 1651,656.82 1652,656 1653,655.18 1654,654.35 1655,653.51 1656,652.67 1657,651.82 1658,650.96 1659,650.1 1660,649.22 1661,648.34 1662,647.46 1663,646.56 1664,645.66 1665,644.76 1666,643.84 1667,642.92 1668,642 1669,641.06 1670,640.12 1671,639.18 1672,638.23 1673,637.27 1674,636.31 1675,635.34 1676,634.37 1677,633.4 1678,632.41 1679,631.43 1680,630.44 1681,629.44 1682,628.44 1683,627.44 1684,626.43 1685,625.42 1686,624.4 1687,623.38 1688,622.36 1689,621.33 1690,620.3 1691,619.27 1692,618.23 1693,617.2 1694,616.16 1695,615.11 1696,614.07 1697,613.02 1698,611.97 1699,610.92 1700,609.87 1701,608.81 1702,607.75 1703,606.7 1704,605.64 1705,604.58 1706,603.52 1707,602.46 1708,601.39 1709,600.33 1710,599.27 1711,598.21 1712,597.14 1713,596.08 1714,595.02 1715,593.95 1716,592.89 1717,591.83 1718,590.77 1719,589.71 1720,588.65 1721,587.59 1722,586.54 1723,585.48 1724,584.43 1725,583.38 1726,582.33 1727,581.29 1728,580.24 1729,579.2 1730,578.16 1731,577.12 1732,576.09 1733,575.06 1734,574.03 1735,573 1736,571.98 1737,570.96 1738,569.95 1739,568.94 1740,567.93 1741,566.93 1742,565.93 1743,564.94 1744,563.95 1745,562.96 1746,561.98 1747,561.01 1748,560.04 1749,559.07 1750,558.11 1751,557.16 1752,556.21 1753,555.27 1754,554.33 1755,553.4 1756,552.47 1757,551.56 1758,550.64 1759,549.74 1760,548.84 1761,547.95 1762,547.07 1763,546.19 1764,545.32 1765,544.46 1766,543.6 1767,542.76 1768,541.92 1769,541.09 1770,540.26 1771,539.45 1772,538.64 1773,537.85 1774,537.06 1775,536.28 1776,535.51 1777,534.75 1778,533.99 1779,533.25 1780,532.52 1781,531.8 1782,531.08 1783,530.38 1784,529.69 1785,529 1786,528.33 1787,527.67 1788,527.02 1789,526.38 1790,525.75 1791,525.13 1792,524.53 1793,523.93 1794,523.35 1795,522.78 1796,522.22 1797,521.67 1798,521.14 1799,520.61 1800,520.1 1801,519.61 1802,519.12 1803,518.65 1804,518.19 1805,517.74 1806,517.31 1807,516.89 1808,516.48 1809,516.09 1810,515.71 1811,515.35 1812,515 1813,514.67 1814,514.34 1815,514.04 1816,513.75 1817,513.47 1818,513.21 1819,512.96 1820,512.73 1821,512.51 1822,512.31 1823,512.13 1824,511.96 1825,511.81 1826,511.67 1827,511.55 1828,511.45 1829,511.36 1830,511.29 1831,511.24 1832,511.2 1833,511.18 1834,511.18 1835,511.19 1836,511.22 1837,511.27 1838,511.34 1839,511.42 1840,511.52 1841,511.63 1842,511.77 1843,511.92 1844,512.08 1845,512.26 1846,512.46 1847,512.68 1848,512.91 1849,513.16 1850,513.43 1851,513.71 1852,514.01 1853,514.32 1854,514.65 1855,515 1856,515.36 1857,515.74 1858,516.14 1859,516.55 1860,516.98 1861,517.42 1862,517.89 1863,518.36 1864,518.86 1865,519.36 1866,519.89 1867,520.43 1868,520.99 1869,521.56 1870,522.15 1871,522.75 1872,523.37 1873,524.01 1874,524.66 1875,525.32 1876,526.01 1877,526.7 1878,527.42 1879,528.15 1880,528.89 1881,529.65 1882,530.43 1883,531.22 1884,532.02 1885,532.85 1886,533.68 1887,534.53 1888,535.4 1889,536.28 1890,537.18 1891,538.09 1892,539.02 1893,539.97 1894,540.92 1895,541.9 1896,542.88 1897,543.89 1898,544.9 1899,545.94 1900,546.98 1901,548.04 1902,549.12 1903,550.21 1904,551.32 1905,552.44 1906,553.57 1907,554.72 1908,555.89 1909,557.07 1910,558.26 1911,559.47 1912,560.69 1913,561.93 1914,563.18 1915,564.44 1916,565.72 1917,567.02 1918,568.32 1919,569.65 1920,570.98 1921,572.33 1922,573.7 1923,575.08 1924,576.47 1925,577.87 1926,579.29 1927,580.73 1928,582.18 1929,583.64 1930,585.11 1931,586.6 1932,588.11 1933,589.62 1934,591.15 1935,592.7 1936,594.26 1937,595.83 1938,597.41 1939,599.01 1940,600.62 1941,602.25 1942,603.88 1943,605.54 1944,607.2 1945,608.88 1946,610.57 1947,612.27 1948,613.98 1949,615.7 1950,617.44 1951,619.18 1952,620.93 1953,622.69 1954,624.46 1955,626.23 1956,628.01 1957,629.8 1958,631.59 1959,633.39 1960,635.19 1961,637 1962,638.81 1963,640.63 1964,642.44 1965,644.26 1966,646.08 1967,647.9 1968,649.73 1969,651.55 1970,653.37 1971,655.19 1972,657.01 1973,658.82 1974,660.64 1975,662.45 1976,664.25 1977,666.05 1978,667.85 1979,669.64 1980,671.43 1981,673.21 1982,674.98 1983,676.75 1984,678.5 1985,680.25 1986,681.99 1987,683.72 1988,685.44 1989,687.15 1990,688.85 1991,690.54 1992,692.21 1993,693.88 1994,695.52 1995,697.16 1996,698.78 1997,700.39 1998,701.98 1999,703.55 2000,705.11 2001,706.65 2002,708.17 2003,709.68 2004,711.17 2005,712.63 2006,714.08 2007,715.51 2008,716.92 2009,718.31 2010,719.68 2011,721.03 2012,722.36 2013,723.67 2014,724.96 2015,726.24 2016,727.5 2017,728.74 2018,729.96 2019,731.16 2020,732.34 2021,733.51 2022,734.66 2023,735.8 2024,736.92 2025,738.02 2026,739.1 2027,740.17 2028,741.22 2029,742.26 2030,743.28 2031,744.29 2032,745.28 2033,746.26 2034,747.22 2035,748.17 2036,749.1 2037,750.02 2038,750.93 2039,751.82 2040,752.7 2041,753.56 2042,754.42 2043,755.26 2044,756.08 2045,756.9 2046,757.7 2047,758.49 2048,759.27 2049,760.03 2050,760.79 2051,761.53 2052,762.27 2053,762.99 2054,763.7 2055,764.4 2056,765.09 2057,765.77 2058,766.45 2059,767.11 2060,767.76 2061,768.4 2062,769.04 2063,769.66 2064,770.28 2065,770.89 2066,771.49 2067,772.08 2068,772.67 2069,773.24 2070,773.81 2071,774.37 2072,774.93 2073,775.48 2074,776.02 2075,776.56 2076,777.09 2077,777.61 2078,778.13 2079,778.64 2080,779.15 2081,779.65 2082,780.15 2083,780.64 2084,781.13 2085,781.61 2086,782.09 2087,782.57 2088,783.04 2089,783.51 2090,783.97 2091,784.43 2092,784.89 2093,785.35 2094,785.8 2095,786.25 2096,786.7 2097,787.15 2098,787.59 2099,788.04 2100,788.48 2101,788.92 2102,789.36 2103,789.8 2104,790.23 2105,790.67 2106,791.11 2107,791.54 2108,791.98 2109,792.42 2110,792.85 2111,793.29 2112,793.73 2113,794.17 2114,794.61 2115,795.05 2116,795.49 2117,795.93 2118,796.38 2119,796.82 2120,797.27" stroke="#ff2a2a"/>
<polyline points="1470,733.59 1471,733.83 1472,734.05 1473,734.27 1474,734.48 1475,734.69 1476,734.88 1477,735.07 1478,735.25 1479,735.42 1480,735.59 1481,735.75 1482,735.9 1483,736.04 1484,736.18 1485,736.31 1486,736.43 1487,736.55 1488,736.66 1489,736.76 1490,736.86 1491,736.95 1492,737.04 1493,737.11 1494,737.19 1495,737.25 1496,737.31 1497,737.36 1498,737.41 1499,737.45 1500,737.49 1501,737.52 1502,737.54 1503,737.56 1504,737.57 1505,737.58 1506,737.58 1507,737.58 1508,737.57 1509,737.56 1510,737.54 1511,737.52 1512,737.49 1513,737.46 1514,737.42 1515,737.38 1516,737.33 1517,737.28 1518,737.23 1519,737.17 1520,737.1 1521,737.03 1522,736.96 1523,736.88 1524,736.8 1525,736.72 1526,736.63 1527,736.54 1528,736.44 1529,736.34 1530,736.24 1531,736.13 1532,736.02 1533,735.91 1534,735.79 1535,735.67 1536,735.55 1537,735.43 1538,735.3 1539,735.17 1540,735.03 1541,734.9 1542,734.76 1543,734.61 1544,734.47 1545,734.32 1546,734.17 1547,734.02 1548,733.87 1549,733.71 1550,733.56 1551,733.4 1552,733.23 1553,733.07 1554,732.91 1555,732.74 1556,732.57 1557,732.4 1558,732.23 1559,732.06 1560,731.88 1561,731.71 1562,731.53 1563,731.36 1564,731.18 1565,731 1566,730.82 1567,730.64 1568,730.46 1569,730.27 1570,730.09 1571,729.91 1572,729.73 1573,729.54 1574,729.36 1575,729.18 1576,728.99 1577,728.81 1578,728.62 1579,728.44 1580,728.26 1581,728.07 1582,727.89 1583,727.7 1584,727.52 1585,727.33 1586,727.15 1587,726.96 1588,726.77 1589,726.59 1590,726.4 1591,726.21 1592,726.02 1593,725.83 1594,725.63 1595,725.44 1596,725.24 1597,725.05 1598,724.85 1599,724.65 1600,724.45 1601,724.24 1602,724.04 1603,723.83 1604,723.63 1605,723.42 1606,723.2 1607,722.99 1608,722.77 1609,722.55 1610,722.33 1611,722.11 1612,721.88 1613,721.65 1614,721.42 1615,721.19 1616,720.95 1617,720.71 1618,720.47 1619,720.22 1620,719.98 1621,719.72 1622,719.47 1623,719.21 1624,718.95 1625,718.68 1626,718.41 1627,718.14 1628,717.87 1629,717.59 1630,717.3 1631,717.01 1632,716.72 1633,716.43 1634,716.13 1635,715.82 1636,715.51 1637,715.2 1638,714.88 1639,714.56 1640,714.24 1641,713.91 1642,713.57 1643,713.23 1644,712.88 1645,712.53 1646,712.18 1647,711.82 1648,711.45 1649,711.08 1650,710.71 1651,710.32 1652,709.94 1653,709.54 1654,709.14 1655,708.74 1656,708.33 1657,707.91 1658,707.49 1659,707.06 1660,706.63 1661,706.19 1662,705.74 1663,705.29 1664,704.83 1665,704.37 1666,703.9 1667,703.43 1668,702.95 1669,702.46 1670,701.97 1671,701.47 1672,700.97 1673,700.47 1674,699.96 1675,699.44 1676,698.92 1677,698.4 1678,697.87 1679,697.34 1680,696.81 1681,696.27 1682,695.73 1683,695.18 1684,694.63 1685,694.08 1686,693.52 1687,692.96 1688,692.4 1689,691.84 1690,691.27 1691,690.7 1692,690.13 1693,689.56 1694,688.98 1695,688.4 1696,687.83 1697,687.24 1698,686.66 1699,686.08 1700,685.49 1701,684.9 1702,684.32 1703,683.73 1704,683.14 1705,682.55 1706,681.96 1707,681.36 1708,680.77 1709,680.18 1710,679.59 1711,679 1712,678.41 1713,677.81 1714,677.22 1715,676.63 1716,676.04 1717,675.45 1718,674.87 1719,674.28 1720,673.69 1721,673.11 1722,672.52 1723,671.94 1724,671.36 1725,670.79 1726,670.21 1727,669.64 1728,669.06 1729,668.49 1730,667.93 1731,667.36 1732,666.8 1733,666.24 1734,665.69 1735,665.13 1736,664.58 1737,664.04 1738,663.5 1739,662.96 1740,662.42 1741,661.89 1742,661.36 1743,660.84 1744,660.32 1745,659.8 1746,659.29 1747,658.79 1748,658.29 1749,657.79 1750,657.3 1751,656.81 1752,656.33 1753,655.86 1754,655.39 1755,654.92 1756,654.46 1757,654.01 1758,653.56 1759,653.12 1760,652.69 1761,652.26 1762,651.84 1763,651.42 1764,651.01 1765,650.61 1766,650.22 1767,649.83 1768,649.45 1769,649.08 1770,648.71 1771,648.36 1772,648.01 1773,647.66 1774,647.33 1775,647 1776,646.69 1777,646.38 1778,646.08 1779,645.79 1780,645.5 1781,645.23 1782,644.96 1783,644.71 1784,644.46 1785,644.22 1786,643.99 1787,643.78 1788,643.57 1789,643.37 1790,643.18 1791,643 1792,642.83 1793,642.68 1794,642.53 1795,642.39 1796,642.27 1797,642.15 1798,642.05 1799,641.95 1800,641.87 1801,641.79 1802,641.73 1803,641.68 1804,641.63 1805,641.6 1806,641.58 1807,641.57 1808,641.56 1809,641.57 1810,641.59 1811,641.61 1812,641.65 1813,641.7 1814,641.75 1815,641.82 1816,641.89 1817,641.97 1818,642.07 1819,642.17 1820,642.28 1821,642.4 1822,642.54 1823,642.67 1824,642.82 1825,642.98 1826,643.15 1827,643.32 1828,643.51 1829,643.7 1830,643.9 1831,644.11 1832,644.33 1833,644.56 1834,644.8 1835,645.04 1836,645.3 1837,645.56 1838,645.83 1839,646.11 1840,646.39 1841,646.69 1842,646.99 1843,647.3 1844,647.62 1845,647.94 1846,648.28 1847,648.62 1848,648.97 1849,649.33 1850,649.69 1851,650.07 1852,650.45 1853,650.83 1854,651.23 1855,651.63 1856,652.04 1857,652.46 1858,652.88 1859,653.31 1860,653.75 1861,654.2 1862,654.65 1863,655.11 1864,655.58 1865,656.05 1866,656.53 1867,657.02 1868,657.51 1869,658.01 1870,658.52 1871,659.03 1872,659.55 1873,660.07 1874,660.61 1875,661.14 1876,661.69 1877,662.24 1878,662.79 1879,663.36 1880,663.93 1881,664.5 1882,665.08 1883,665.67 1884,666.26 1885,666.86 1886,667.46 1887,668.07 1888,668.68 1889,669.31 1890,669.93 1891,670.56 1892,671.2 1893,671.84 1894,672.49 1895,673.14 1896,673.8 1897,674.46 1898,675.12 1899,675.8 1900,676.47 1901,677.15 1902,677.84 1903,678.53 1904,679.23 1905,679.93 1906,680.63 1907,681.34 1908,682.06 1909,682.78 1910,683.5 1911,684.23 1912,684.96 1913,685.69 1914,686.43 1915,687.18 1916,687.92 1917,688.67 1918,689.43 1919,690.19 1920,690.95 1921,691.72 1922,692.49 1923,693.26 1924,694.04 1925,694.82 1926,695.61 1927,696.4 1928,697.19 1929,697.98 1930,698.78 1931,699.58 1932,700.39 1933,701.19 1934,702 1935,702.82 1936,703.63 1937,704.45 1938,705.27 1939,706.1 1940,706.93 1941,707.76 1942,708.59 1943,709.42 1944,710.26 1945,711.1 1946,711.94 1947,712.79 1948,713.63 1949,714.48 1950,715.33 1951,716.19 1952,717.04 1953,717.9 1954,718.76 1955,719.62 1956,720.48 1957,721.35 1958,722.21 1959,723.08 1960,723.95 1961,724.82 1962,725.69 1963,726.57 1964,727.44 1965,728.32 1966,729.2 1967,730.08 1968,730.96 1969,731.84 1970,732.72 1971,733.6 1972,734.49 1973,735.37 1974,736.26 1975,737.15 1976,738.03 1977,738.92 1978,739.81 1979,740.7 1980,741.58 1981,742.47 1982,743.35 1983,744.24 1984,745.12 1985,746 1986,746.88 1987,747.76 1988,748.63 1989,749.5 1990,750.37 1991,751.23 1992,752.09 1993,752.95 1994,753.81 1995,754.65 1996,755.5 1997,756.34 1998,757.17 1999,758 2000,758.82 2001,759.64 2002,760.45 2003,761.26 2004,762.05 2005,762.84 2006,763.63 2007,764.4 2008,765.17 2009,765.93 2010,766.69 2011,767.43 2012,768.17 2013,768.89 2014,769.61 2015,770.32 2016,771.01 2017,771.7 2018,772.38 2019,773.04 2020,773.7 2021,774.34 2022,774.98 2023,775.6 2024,776.21 2025,776.81 2026,777.39 2027,777.96 2028,778.52 2029,779.07 2030,779.6 2031,780.12 2032,780.63 2033,781.12 2034,781.59 2035,782.06 2036,782.5 2037,782.94 2038,783.35 2039,783.75 2040,784.14 2041,784.51 2042,784.87 2043,785.21 2044,785.55 2045,785.87 2046,786.18 2047,786.47 2048,786.76 2049,787.04 2050,787.31 2051,787.58 2052,787.83 2053,788.08 2054,788.32 2055,788.56 2056,788.79 2057,789.01 2058,789.23 2059,789.45 2060,789.67 2061,789.88 2062,790.1 2063,790.31 2064,790.52 2065,790.73 2066,790.94 2067,791.16 2068,791.37 2069,791.59 2070,791.82 2071,792.04 2072,792.27 2073,792.51 2074,792.75 2075,793 2076,793.26 2077,793.52 2078,793.79 2079,794.07 2080,794.36 2081,794.66 2082,794.98 2083,795.3 2084,795.63 2085,795.98" stroke="#2e2eff"/>
<polyline points="1470,724.59 1471,724.82 1472,725.05 1473,725.27 1474,725.49 1475,725.7 1476,725.9 1477,726.1 1478,726.3 1479,726.49 1480,726.68 1481,726.86 1482,727.04 1483,727.21 1484,727.37 1485,727.54 1486,727.69 1487,727.85 1488,728 1489,728.14 1490,728.28 1491,728.41 1492,728.54 1493,728.67 1494,728.79 1495,728.91 1496,729.02 1497,729.13 1498,729.23 1499,729.33 1500,729.43 1501,729.52 1502,729.6 1503,729.69 1504,729.77 1505,729.84 1506,729.91 1507,729.98 1508,730.05 1509,730.11 1510,730.16 1511,730.21 1512,730.26 1513,730.31 1514,730.35 1515,730.39 1516,730.42 1517,730.45 1518,730.48 1519,730.5 1520,730.52 1521,730.54 1522,730.55 1523,730.56 1524,730.57 1525,730.58 1526,730.58 1527,730.58 1528,730.57 1529,730.56 1530,730.55 1531,730.54 1532,730.52 1533,730.5 1534,730.48 1535,730.45 1536,730.42 1537,730.39 1538,730.36 1539,730.32 1540,730.28 1541,730.24 1542,730.2 1543,730.15 1544,730.1 1545,730.05 1546,730 1547,729.94 1548,729.88 1549,729.82 1550,729.76 1551,729.69 1552,729.63 1553,729.56 1554,729.49 1555,729.41 1556,729.34 1557,729.26 1558,729.18 1559,729.1 1560,729.02 1561,728.93 1562,728.85 1563,728.76 1564,728.67 1565,728.58 1566,728.49 1567,728.39 1568,728.29 1569,728.2 1570,728.1 1571,728 1572,727.9 1573,727.79 1574,727.69 1575,727.58 1576,727.48 1577,727.37 1578,727.26 1579,727.15 1580,727.04 1581,726.93 1582,726.82 1583,726.7 1584,726.59 1585,726.47 1586,726.36 1587,726.24 1588,726.12 1589,726 1590,725.88 1591,725.76 1592,725.64 1593,725.52 1594,725.4 1595,725.28 1596,725.16 1597,725.03 1598,724.91 1599,724.79 1600,724.66 1601,724.54 1602,724.41 1603,724.29 1604,724.16 1605,724.03 1606,723.9 1607,723.78 1608,723.65 1609,723.52 1610,723.39 1611,723.25 1612,723.12 1613,722.99 1614,722.86 1615,722.72 1616,722.59 1617,722.45 1618,722.32 1619,722.18 1620,722.04 1621,721.9 1622,721.76 1623,721.62 1624,721.48 1625,721.34 1626,721.19 1627,721.05 1628,720.9 1629,720.76 1630,720.61 1631,720.46 1632,720.31 1633,720.16 1634,720.01 1635,719.86 1636,719.71 1637,719.55 1638,719.4 1639,719.24 1640,719.09 1641,718.93 1642,718.77 1643,718.61 1644,718.44 1645,718.28 1646,718.12 1647,717.95 1648,717.79 1649,717.62 1650,717.45 1651,717.28 1652,717.11 1653,716.93 1654,716.76 1655,716.58 1656,716.41 1657,716.23 1658,716.05 1659,715.87 1660,715.69 1661,715.5 1662,715.32 1663,715.13 1664,714.94 1665,714.75 1666,714.56 1667,714.37 1668,714.18 1669,713.98 1670,713.79 1671,713.59 1672,713.39 1673,713.19 1674,712.98 1675,712.78 1676,712.57 1677,712.37 1678,712.16 1679,711.95 1680,711.73 1681,711.52 1682,711.3 1683,711.09 1684,710.87 1685,710.65 1686,710.43 1687,710.21 1688,709.98 1689,709.76 1690,709.53 1691,709.31 1692,709.08 1693,708.85 1694,708.62 1695,708.39 1696,708.16 1697,707.93 1698,707.7 1699,707.47 1700,707.23 1701,707 1702,706.76 1703,706.53 1704,706.29 1705,706.06 1706,705.82 1707,705.58 1708,705.35 1709,705.11 1710,704.87 1711,704.64 1712,704.4 1713,704.16 1714,703.93 1715,703.69 1716,703.45 1717,703.21 1718,702.98 1719,702.74 1720,702.51 1721,702.27 1722,702.04 1723,701.8 1724,701.57 1725,701.33 1726,701.1 1727,700.87 1728,700.64 1729,700.4 1730,700.17 1731,699.94 1732,699.72 1733,699.49 1734,699.26 1735,699.04 1736,698.81 1737,698.59 1738,698.36 1739,698.14 1740,697.92 1741,697.71 1742,697.49 1743,697.27 1744,697.06 1745,696.84 1746,696.63 1747,696.42 1748,696.21 1749,696.01 1750,695.8 1751,695.6 1752,695.4 1753,695.2 1754,695 1755,694.8 1756,694.61 1757,694.42 1758,694.23 1759,694.04 1760,693.86 1761,693.67 1762,693.49 1763,693.31 1764,693.14 1765,692.96 1766,692.79 1767,692.62 1768,692.46 1769,692.29 1770,692.13 1771,691.97 1772,691.82 1773,691.66 1774,691.51 1775,691.37 1776,691.22 1777,691.08 1778,690.94 1779,690.81 1780,690.67 1781,690.54 1782,690.42 1783,690.29 1784,690.18 1785,690.06 1786,689.95 1787,689.84 1788,689.73 1789,689.63 1790,689.53 1791,689.43 1792,689.34 1793,689.25 1794,689.17 1795,689.09 1796,689.01 1797,688.94 1798,688.87 1799,688.81 1800,688.75 1801,688.69 1802,688.64 1803,688.59 1804,688.54 1805,688.5 1806,688.47 1807,688.44 1808,688.41 1809,688.39 1810,688.37 1811,688.35 1812,688.35 1813,688.34 1814,688.34 1815,688.35 1816,688.36 1817,688.37 1818,688.39 1819,688.41 1820,688.44 1821,688.48 1822,688.52 1823,688.56 1824,688.61 1825,688.66 1826,688.72 1827,688.79 1828,688.86 1829,688.94 1830,689.02 1831,689.1 1832,689.2 1833,689.29 1834,689.4 1835,689.51 1836,689.62 1837,689.74 1838,689.87 1839,690 1840,690.13 1841,690.28 1842,690.42 1843,690.58 1844,690.74 1845,690.9 1846,691.07 1847,691.25 1848,691.43 1849,691.62 1850,691.81 1851,692.01 1852,692.21 1853,692.42 1854,692.64 1855,692.86 1856,693.08 1857,693.32 1858,693.56 1859,693.8 1860,694.05 1861,694.31 1862,694.57 1863,694.83 1864,695.11 1865,695.39 1866,695.67 1867,695.96 1868,696.26 1869,696.56 1870,696.87 1871,697.18 1872,697.5 1873,697.82 1874,698.16 1875,698.49 1876,698.84 1877,699.18 1878,699.54 1879,699.9 1880,700.27 1881,700.64 1882,701.02 1883,701.4 1884,701.79 1885,702.19 1886,702.59 1887,703 1888,703.41 1889,703.83 1890,704.25 1891,704.69 1892,705.12 1893,705.57 1894,706.02 1895,706.47 1896,706.93 1897,707.4 1898,707.88 1899,708.35 1900,708.84 1901,709.33 1902,709.83 1903,710.33 1904,710.84 1905,711.36 1906,711.88 1907,712.41 1908,712.94 1909,713.49 1910,714.03 1911,714.58 1912,715.14 1913,715.71 1914,716.28 1915,716.85 1916,717.44 1917,718.02 1918,718.62 1919,719.21 1920,719.82 1921,720.42 1922,721.04 1923,721.65 1924,722.27 1925,722.9 1926,723.53 1927,724.16 1928,724.8 1929,725.44 1930,726.09 1931,726.74 1932,727.39 1933,728.04 1934,728.7 1935,729.36 1936,730.03 1937,730.69 1938,731.36 1939,732.03 1940,732.71 1941,733.38 1942,734.06 1943,734.74 1944,735.42 1945,736.1 1946,736.78 1947,737.47 1948,738.15 1949,738.84 1950,739.53 1951,740.22 1952,740.91 1953,741.6 1954,742.28 1955,742.97 1956,743.66 1957,744.35 1958,745.04 1959,745.73 1960,746.42 1961,747.11 1962,747.79 1963,748.48 1964,749.16 1965,749.84 1966,750.53 1967,751.21 1968,751.88 1969,752.56 1970,753.23 1971,753.91 1972,754.58 1973,755.24 1974,755.91 1975,756.57 1976,757.23 1977,757.89 1978,758.54 1979,759.19 1980,759.84 1981,760.48 1982,761.12 1983,761.76 1984,762.4 1985,763.03 1986,763.65 1987,764.28 1988,764.9 1989,765.51 1990,766.13 1991,766.73 1992,767.34 1993,767.94 1994,768.54 1995,769.13 1996,769.72 1997,770.3 1998,770.88 1999,771.45 2000,772.02 2001,772.59 2002,773.15 2003,773.7 2004,774.25 2005,774.8 2006,775.34 2007,775.88 2008,776.41 2009,776.93 2010,777.45 2011,777.97 2012,778.47 2013,778.98 2014,779.48 2015,779.97 2016,780.45 2017,780.93 2018,781.41 2019,781.88 2020,782.34 2021,782.79 2022,783.24 2023,783.69 2024,784.12 2025,784.56 2026,784.98 2027,785.4 2028,785.81 2029,786.21 2030,786.61 2031,787 2032,787.38 2033,787.76 2034,788.13 2035,788.49 2036,788.84 2037,789.19 2038,789.53 2039,789.86 2040,790.19 2041,790.5 2042,790.81 2043,791.11 2044,791.41 2045,791.69 2046,791.97 2047,792.24 2048,792.5 2049,792.75 2050,793 2051,793.23 2052,793.46 2053,793.68 2054,793.89 2055,794.09 2056,794.28 2057,794.46 2058,794.64 2059,794.81 2060,794.96 2061,795.11 2062,795.25 2063,795.38 2064,795.5 2065,795.61 2066,795.71 2067,795.8 2068,795.88 2069,795.95 2070,796.01 2071,796.06 2072,796.1 2073,796.13 2074,796.16 2075,796.17" stroke="#ff3cff"/>
<polyline points="1470,686.76 1471,687.07 1472,687.39 1473,687.7 1474,688.01 1475,688.32 1476,688.63 1477,688.94 1478,689.24 1479,689.55 1480,689.85 1481,690.15 1482,690.45 1483,690.75 1484,691.05 1485,691.34 1486,691.64 1487,691.93 1488,692.22 1489,692.51 1490,692.8 1491,693.08 1492,693.37 1493,693.65 1494,693.94 1495,694.22 1496,694.5 1497,694.78 1498,695.05 1499,695.33 1500,695.61 1501,695.88 1502,696.15 1503,696.42 1504,696.69 1505,696.96 1506,697.22 1507,697.49 1508,697.75 1509,698.02 1510,698.28 1511,698.54 1512,698.8 1513,699.05 1514,699.31 1515,699.56 1516,699.82 1517,700.07 1518,700.32 1519,700.57 1520,700.82 1521,701.06 1522,701.31 1523,701.55 1524,701.8 1525,702.04 1526,702.28 1527,702.52 1528,702.76 1529,702.99 1530,703.23 1531,703.46 1532,703.7 1533,703.93 1534,704.16 1535,704.39 1536,704.62 1537,704.85 1538,705.07 1539,705.3 1540,705.52 1541,705.74 1542,705.96 1543,706.18 1544,706.4 1545,706.62 1546,706.84 1547,707.05 1548,707.27 1549,707.48 1550,707.69 1551,707.9 1552,708.11 1553,708.32 1554,708.53 1555,708.73 1556,708.94 1557,709.14 1558,709.35 1559,709.55 1560,709.75 1561,709.95 1562,710.15 1563,710.34 1564,710.54 1565,710.74 1566,710.93 1567,711.12 1568,711.32 1569,711.51 1570,711.7 1571,711.89 1572,712.07 1573,712.26 1574,712.45 1575,712.63 1576,712.81 1577,713 1578,713.18 1579,713.36 1580,713.54 1581,713.72 1582,713.89 1583,714.07 1584,714.25 1585,714.42 1586,714.6 1587,714.77 1588,714.94 1589,715.11 1590,715.28 1591,715.45 1592,715.62 1593,715.78 1594,715.95 1595,716.11 1596,716.28 1597,716.44 1598,716.6 1599,716.76 1600,716.92 1601,717.08 1602,717.24 1603,717.4 1604,717.56 1605,717.71 1606,717.87 1607,718.02 1608,718.17 1609,718.33 1610,718.48 1611,718.63 1612,718.78 1613,718.93 1614,719.07 1615,719.22 1616,719.37 1617,719.51 1618,719.66 1619,719.8 1620,719.94 1621,720.08 1622,720.22 1623,720.36 1624,720.5 1625,720.64 1626,720.78 1627,720.92 1628,721.05 1629,721.19 1630,721.32 1631,721.46 1632,721.59 1633,721.72 1634,721.85 1635,721.98 1636,722.11 1637,722.24 1638,722.37 1639,722.5 1640,722.62 1641,722.75 1642,722.88 1643,723 1644,723.12 1645,723.25 1646,723.37 1647,723.49 1648,723.61 1649,723.73 1650,723.85 1651,723.97 1652,724.09 1653,724.21 1654,724.32 1655,724.44 1656,724.55 1657,724.67 1658,724.78 1659,724.9 1660,725.01 1661,725.12 1662,725.23 1663,725.34 1664,725.45 1665,725.56 1666,725.67 1667,725.78 1668,725.89 1669,725.99 1670,726.1 1671,726.2 1672,726.31 1673,726.41 1674,726.52 1675,726.62 1676,726.72 1677,726.83 1678,726.93 1679,727.03 1680,727.13 1681,727.23 1682,727.33 1683,727.43 1684,727.52 1685,727.62 1686,727.72 1687,727.81 1688,727.91 1689,728.01 1690,728.1 1691,728.19 1692,728.29 1693,728.38 1694,728.47 1695,728.57 1696,728.66 1697,728.75 1698,728.84 1699,728.93 1700,729.02 1701,729.11 1702,729.2 1703,729.29 1704,729.37 1705,729.46 1706,729.55 1707,729.63 1708,729.72 1709,729.81 1710,729.89 1711,729.98 1712,730.06 1713,730.14 1714,730.23 1715,730.31 1716,730.39 1717,730.47 1718,730.56 1719,730.64 1720,730.72 1721,730.8 1722,730.88 1723,730.96 1724,731.04 1725,731.12 1726,731.19 1727,731.27 1728,731.35 1729,731.43 1730,731.5 1731,731.58 1732,731.66 1733,731.73 1734,731.81 1735,731.89 1736,731.96 1737,732.04 1738,732.11 1739,732.19 1740,732.26 1741,732.34 1742,732.42 1743,732.49 1744,732.57 1745,732.64 1746,732.72 1747,732.79 1748,732.87 1749,732.95 1750,733.02 1751,733.1 1752,733.18 1753,733.25 1754,733.33 1755,733.41 1756,733.49 1757,733.57 1758,733.65 1759,733.73 1760,733.81 1761,733.89 1762,733.97 1763,734.05 1764,734.13 1765,734.22 1766,734.3 1767,734.39 1768,734.47 1769,734.56 1770,734.64 1771,734.73 1772,734.82 1773,734.91 1774,735 1775,735.09 1776,735.18 1777,735.28 1778,735.37 1779,735.47 1780,735.56 1781,735.66 1782,735.76 1783,735.86 1784,735.96 1785,736.06 1786,736.17 1787,736.27 1788,736.38 1789,736.48 1790,736.59 1791,736.7 1792,736.81 1793,736.92 1794,737.04 1795,737.15 1796,737.27 1797,737.39 1798,737.51 1799,737.63 1800,737.75 1801,737.88 1802,738.01 1803,738.13 1804,738.26 1805,738.4 1806,738.53 1807,738.66 1808,738.8 1809,738.94 1810,739.08 1811,739.22 1812,739.37 1813,739.52 1814,739.66 1815,739.81 1816,739.97 1817,740.12 1818,740.28 1819,740.44 1820,740.6 1821,740.76 1822,740.93 1823,741.1 1824,741.27 1825,741.44 1826,741.61 1827,741.79 1828,741.97 1829,742.15 1830,742.34 1831,742.52 1832,742.71 1833,742.9 1834,743.1 1835,743.29 1836,743.49 1837,743.69 1838,743.9 1839,744.1 1840,744.31 1841,744.52 1842,744.73 1843,744.95 1844,745.17 1845,745.38 1846,745.6 1847,745.83 1848,746.05 1849,746.28 1850,746.51 1851,746.74 1852,746.97 1853,747.2 1854,747.44 1855,747.68 1856,747.92 1857,748.16 1858,748.4 1859,748.64 1860,748.89 1861,749.13 1862,749.38 1863,749.63 1864,749.88 1865,750.13 1866,750.39 1867,750.64 1868,750.9 1869,751.16 1870,751.41 1871,751.67 1872,751.93 1873,752.2 1874,752.46 1875,752.72 1876,752.99 1877,753.25 1878,753.52 1879,753.79 1880,754.05 1881,754.32 1882,754.59 1883,754.86 1884,755.13 1885,755.4 1886,755.68 1887,755.95 1888,756.22 1889,756.49 1890,756.77 1891,757.04 1892,757.32 1893,757.59 1894,757.87 1895,758.14 1896,758.42 1897,758.69 1898,758.97 1899,759.24 1900,759.52 1901,759.79 1902,760.07 1903,760.35 1904,760.62 1905,760.9 1906,761.17 1907,761.45 1908,761.72 1909,762 1910,762.27 1911,762.55 1912,762.82 1913,763.09 1914,763.37 1915,763.64 1916,763.91 1917,764.18 1918,764.45 1919,764.72 1920,764.99 1921,765.26 1922,765.53 1923,765.8 1924,766.06 1925,766.33 1926,766.59 1927,766.86 1928,767.12 1929,767.38 1930,767.64 1931,767.9 1932,768.16 1933,768.42 1934,768.67 1935,768.93 1936,769.18 1937,769.43 1938,769.69 1939,769.94 1940,770.18 1941,770.43 1942,770.68 1943,770.92 1944,771.16 1945,771.4 1946,771.64 1947,771.88 1948,772.12 1949,772.35 1950,772.58 1951,772.82 1952,773.05 1953,773.28 1954,773.5 1955,773.73 1956,773.95 1957,774.18 1958,774.4 1959,774.62 1960,774.83 1961,775.05 1962,775.27 1963,775.48 1964,775.69 1965,775.9 1966,776.11 1967,776.32 1968,776.53 1969,776.73 1970,776.94 1971,777.14 1972,777.34 1973,777.54 1974,777.74 1975,777.93 1976,778.13 1977,778.32 1978,778.51 1979,778.7 1980,778.89 1981,779.08 1982,779.27 1983,779.45 1984,779.64 1985,779.82 1986,780 1987,780.18 1988,780.36 1989,780.53 1990,780.71 1991,780.88 1992,781.05 1993,781.22 1994,781.39 1995,781.56 1996,781.73 1997,781.89 1998,782.06 1999,782.22 2000,782.38 2001,782.54 2002,782.7 2003,782.86 2004,783.01 2005,783.17 2006,783.32 2007,783.47 2008,783.62 2009,783.77 2010,783.92 2011,784.06 2012,784.21 2013,784.35 2014,784.5 2015,784.64 2016,784.78 2017,784.91 2018,785.05 2019,785.19 2020,785.32 2021,785.45 2022,785.59 2023,785.72 2024,785.84 2025,785.97 2026,786.1 2027,786.22 2028,786.35 2029,786.47 2030,786.59 2031,786.71 2032,786.83 2033,786.95 2034,787.06 2035,787.18 2036,787.29 2037,787.4 2038,787.52 2039,787.63 2040,787.73 2041,787.84 2042,787.95 2043,788.05 2044,788.16 2045,788.26 2046,788.36 2047,788.46 2048,788.56 2049,788.65 2050,788.75 2051,788.84 2052,788.94 2053,789.03 2054,789.12 2055,789.21 2056,789.3 2057,789.39 2058,789.47 2059,789.56 2060,789.64 2061,789.72 2062,789.81 2063,789.89 2064,789.97 2065,790.04 2066,790.12 2067,790.2 2068,790.27 2069,790.34 2070,790.41 2071,790.48 2072,790.55 2073,790.62 2074,790.69 2075,790.76 2076,790.82 2077,790.88 2078,790.95 2079,791.01 2080,791.07 2081,791.13 2082,791.19 2083,791.24 2084,791.3 2085,791.35 2086,791.41 2087,791.46 2088,791.51 2089,791.56 2090,791.61 2091,791.66 2092,791.7 2093,791.75 2094,791.79 2095,791.83 2096,791.88 2097,791.92 2098,791.96 2099,792 2100,792.03 2101,792.07 2102,792.11 2103,792.14 2104,792.17 2105,792.21 2106,792.24 2107,792.27 2108,792.3 2109,792.32 2110,792.35 2111,792.38 2112,792.4 2113,792.43 2114,792.45 2115,792.47 2116,792.49 2117,792.51 2118,792.53 2119,792.55 2120,792.56 2121,792.58 2122,792.59 2123,792.6 2124,792.62 2125,792.63 2126,792.64 2127,792.65 2128,792.65 2129,792.66 2130,792.67 2131,792.67 2132,792.68 2133,792.68 2134,792.68 2135,792.68 2136,792.68 2137,792.68 2138,792.68 2139,792.68 2140,792.67 2141,792.67 2142,792.66 2143,792.65 2144,792.65 2145,792.64 2146,792.63 2147,792.62 2148,792.61 2149,792.59 2150,792.58 2151,792.56 2152,792.55 2153,792.53 2154,792.51 2155,792.5 2156,792.48 2157,792.46 2158,792.44 2159,792.42 2160,792.4 2161,792.38 2162,792.36 2163,792.34 2164,792.32 2165,792.29 2166,792.27 2167,792.25 2168,792.23 2169,792.21 2170,792.19 2171,792.17 2172,792.15 2173,792.13 2174,792.11 2175,792.09 2176,792.08 2177,792.06 2178,792.04 2179,792.03 2180,792.01 2181,792 2182,791.99 2183,791.98 2184,791.97 2185,791.96 2186,791.95 2187,791.95 2188,791.94 2189,791.94 2190,791.94 2191,791.94 2192,791.94 2193,791.95 2194,791.95 2195,791.96 2196,791.97 2197,791.98 2198,791.99 2199,792 2200,792.02 2201,792.04 2202,792.06 2203,792.07 2204,792.1 2205,792.12 2206,792.14 2207,792.17 2208,792.19 2209,792.22 2210,792.25 2211,792.28 2212,792.31 2213,792.34 2214,792.37 2215,792.41 2216,792.44 2217,792.48 2218,792.51 2219,792.55 2220,792.59 2221,792.62 2222,792.66 2223,792.7 2224,792.74 2225,792.78 2226,792.83 2227,792.87 2228,792.91 2229,792.95 2230,792.99 2231,793.04 2232,793.08 2233,793.13 2234,793.17 2235,793.21 2236,793.26 2237,793.3 2238,793.35 2239,793.39 2240,793.44 2241,793.48 2242,793.52 2243,793.57 2244,793.61 2245,793.66 2246,793.7 2247,793.74 2248,793.79 2249,793.83 2250,793.87 2251,793.91 2252,793.95 2253,793.99 2254,794.03 2255,794.07 2256,794.11 2257,794.15 2258,794.19 2259,794.23 2260,794.26 2261,794.3 2262,794.33 2263,794.37 2264,794.4 2265,794.43 2266,794.46 2267,794.49 2268,794.52 2269,794.54 2270,794.57 2271,794.6 2272,794.62 2273,794.64 2274,794.66 2275,794.68 2276,794.7 2277,794.72 2278,794.73 2279,794.75 2280,794.76 2281,794.77 2282,794.78 2283,794.79 2284,794.79 2285,794.8 2286,794.8 2287,794.8 2288,794.8 2289,794.79 2290,794.79" stroke="#9c2aa4"/>
<polyline points="1470,713.89 1471,714.2 1472,714.51 1473,714.81 1474,715.1 1475,715.39 1476,715.67 1477,715.95 1478,716.23 1479,716.5 1480,716.76 1481,717.02 1482,717.28 1483,717.53 1484,717.77 1485,718.02 1486,718.25 1487,718.48 1488,718.71 1489,718.94 1490,719.16 1491,719.37 1492,719.58 1493,719.79 1494,719.99 1495,720.19 1496,720.38 1497,720.57 1498,720.75 1499,720.93 1500,721.11 1501,721.28 1502,721.45 1503,721.62 1504,721.78 1505,721.93 1506,722.09 1507,722.24 1508,722.38 1509,722.52 1510,722.66 1511,722.79 1512,722.92 1513,723.05 1514,723.17 1515,723.29 1516,723.41 1517,723.52 1518,723.63 1519,723.73 1520,723.83 1521,723.93 1522,724.03 1523,724.12 1524,724.21 1525,724.29 1526,724.37 1527,724.45 1528,724.53 1529,724.6 1530,724.67 1531,724.74 1532,724.8 1533,724.86 1534,724.91 1535,724.97 1536,725.02 1537,725.07 1538,725.11 1539,725.16 1540,725.2 1541,725.23 1542,725.27 1543,725.3 1544,725.33 1545,725.35 1546,725.38 1547,725.4 1548,725.42 1549,725.43 1550,725.45 1551,725.46 1552,725.47 1553,725.47 1554,725.48 1555,725.48 1556,725.48 1557,725.48 1558,725.47 1559,725.47 1560,725.46 1561,725.45 1562,725.43 1563,725.42 1564,725.4 1565,725.38 1566,725.36 1567,725.34 1568,725.31 1569,725.29 1570,725.26 1571,725.23 1572,725.2 1573,725.16 1574,725.13 1575,725.09 1576,725.05 1577,725.01 1578,724.97 1579,724.93 1580,724.88 1581,724.84 1582,724.79 1583,724.74 1584,724.69 1585,724.64 1586,724.59 1587,724.53 1588,724.48 1589,724.42 1590,724.36 1591,724.31 1592,724.25 1593,724.19 1594,724.12 1595,724.06 1596,724 1597,723.93 1598,723.87 1599,723.8 1600,723.73 1601,723.67 1602,723.6 1603,723.53 1604,723.46 1605,723.38 1606,723.31 1607,723.24 1608,723.16 1609,723.09 1610,723.01 1611,722.93 1612,722.85 1613,722.77 1614,722.69 1615,722.61 1616,722.53 1617,722.45 1618,722.37 1619,722.28 1620,722.2 1621,722.11 1622,722.02 1623,721.94 1624,721.85 1625,721.76 1626,721.67 1627,721.58 1628,721.49 1629,721.4 1630,721.3 1631,721.21 1632,721.11 1633,721.02 1634,720.92 1635,720.83 1636,720.73 1637,720.63 1638,720.53 1639,720.43 1640,720.33 1641,720.23 1642,720.13 1643,720.03 1644,719.93 1645,719.82 1646,719.72 1647,719.61 1648,719.51 1649,719.4 1650,719.3 1651,719.19 1652,719.08 1653,718.97 1654,718.86 1655,718.75 1656,718.64 1657,718.53 1658,718.42 1659,718.31 1660,718.2 1661,718.09 1662,717.97 1663,717.86 1664,717.74 1665,717.63 1666,717.51 1667,717.4 1668,717.28 1669,717.16 1670,717.04 1671,716.93 1672,716.81 1673,716.69 1674,716.57 1675,716.45 1676,716.33 1677,716.21 1678,716.09 1679,715.96 1680,715.84 1681,715.72 1682,715.6 1683,715.47 1684,715.35 1685,715.23 1686,715.1 1687,714.98 1688,714.85 1689,714.72 1690,714.6 1691,714.47 1692,714.34 1693,714.22 1694,714.09 1695,713.96 1696,713.83 1697,713.71 1698,713.58 1699,713.45 1700,713.32 1701,713.19 1702,713.06 1703,712.93 1704,712.8 1705,712.67 1706,712.54 1707,712.41 1708,712.27 1709,712.14 1710,712.01 1711,711.88 1712,711.75 1713,711.61 1714,711.48 1715,711.35 1716,711.21 1717,711.08 1718,710.95 1719,710.81 1720,710.68 1721,710.54 1722,710.41 1723,710.28 1724,710.14 1725,710.01 1726,709.87 1727,709.74 1728,709.6 1729,709.47 1730,709.33 1731,709.2 1732,709.06 1733,708.93 1734,708.79 1735,708.66 1736,708.53 1737,708.39 1738,708.26 1739,708.13 1740,707.99 1741,707.86 1742,707.73 1743,707.6 1744,707.47 1745,707.34 1746,707.22 1747,707.09 1748,706.96 1749,706.84 1750,706.72 1751,706.59 1752,706.47 1753,706.35 1754,706.24 1755,706.12 1756,706 1757,705.89 1758,705.78 1759,705.67 1760,705.56 1761,705.45 1762,705.35 1763,705.24 1764,705.14 1765,705.04 1766,704.94 1767,704.85 1768,704.76 1769,704.66 1770,704.58 1771,704.49 1772,704.41 1773,704.32 1774,704.24 1775,704.17 1776,704.09 1777,704.02 1778,703.95 1779,703.89 1780,703.83 1781,703.77 1782,703.71 1783,703.65 1784,703.6 1785,703.56 1786,703.51 1787,703.47 1788,703.43 1789,703.4 1790,703.36 1791,703.34 1792,703.31 1793,703.29 1794,703.27 1795,703.26 1796,703.25 1797,703.24 1798,703.24 1799,703.24 1800,703.25 1801,703.26 1802,703.27 1803,703.29 1804,703.31 1805,703.34 1806,703.37 1807,703.41 1808,703.45 1809,703.49 1810,703.54 1811,703.59 1812,703.65 1813,703.71 1814,703.78 1815,703.85 1816,703.93 1817,704.01 1818,704.1 1819,704.19 1820,704.29 1821,704.39 1822,704.5 1823,704.61 1824,704.73 1825,704.85 1826,704.98 1827,705.11 1828,705.25 1829,705.4 1830,705.55 1831,705.71 1832,705.87 1833,706.04 1834,706.21 1835,706.39 1836,706.58 1837,706.77 1838,706.97 1839,707.17 1840,707.38 1841,707.59 1842,707.81 1843,708.03 1844,708.26 1845,708.5 1846,708.74 1847,708.98 1848,709.23 1849,709.49 1850,709.75 1851,710.01 1852,710.28 1853,710.55 1854,710.83 1855,711.11 1856,711.4 1857,711.69 1858,711.99 1859,712.29 1860,712.6 1861,712.91 1862,713.22 1863,713.54 1864,713.86 1865,714.19 1866,714.52 1867,714.85 1868,715.19 1869,715.54 1870,715.88 1871,716.23 1872,716.59 1873,716.94 1874,717.3 1875,717.67 1876,718.04 1877,718.41 1878,718.78 1879,719.16 1880,719.54 1881,719.93 1882,720.32 1883,720.71 1884,721.1 1885,721.5 1886,721.9 1887,722.3 1888,722.71 1889,723.12 1890,723.53 1891,723.94 1892,724.36 1893,724.78 1894,725.2 1895,725.63 1896,726.05 1897,726.48 1898,726.92 1899,727.35 1900,727.79 1901,728.22 1902,728.66 1903,729.11 1904,729.55 1905,730 1906,730.45 1907,730.9 1908,731.35 1909,731.8 1910,732.26 1911,732.72 1912,733.18 1913,733.64 1914,734.1 1915,734.56 1916,735.03 1917,735.49 1918,735.96 1919,736.43 1920,736.9 1921,737.37 1922,737.84 1923,738.31 1924,738.78 1925,739.26 1926,739.73 1927,740.21 1928,740.69 1929,741.16 1930,741.64 1931,742.12 1932,742.6 1933,743.08 1934,743.56 1935,744.04 1936,744.52 1937,745 1938,745.48 1939,745.96 1940,746.45 1941,746.93 1942,747.41 1943,747.89 1944,748.37 1945,748.85 1946,749.33 1947,749.81 1948,750.29 1949,750.77 1950,751.25 1951,751.73 1952,752.21 1953,752.69 1954,753.16 1955,753.64 1956,754.11 1957,754.59 1958,755.06 1959,755.53 1960,756 1961,756.47 1962,756.94 1963,757.41 1964,757.88 1965,758.34 1966,758.8 1967,759.27 1968,759.73 1969,760.19 1970,760.64 1971,761.1 1972,761.55 1973,762.01 1974,762.46 1975,762.91 1976,763.35 1977,763.8 1978,764.24 1979,764.68 1980,765.12 1981,765.56 1982,765.99 1983,766.42 1984,766.85 1985,767.28 1986,767.7 1987,768.12 1988,768.54 1989,768.96 1990,769.37 1991,769.78 1992,770.19 1993,770.59 1994,771 1995,771.39 1996,771.79 1997,772.18 1998,772.57 1999,772.96 2000,773.34 2001,773.72 2002,774.1 2003,774.47 2004,774.84 2005,775.2 2006,775.57 2007,775.92 2008,776.28 2009,776.63 2010,776.97 2011,777.32 2012,777.66 2013,777.99 2014,778.32 2015,778.65 2016,778.97 2017,779.29 2018,779.6 2019,779.91 2020,780.21 2021,780.51 2022,780.81 2023,781.1 2024,781.39 2025,781.67 2026,781.95 2027,782.22 2028,782.48 2029,782.75 2030,783 2031,783.25 2032,783.5 2033,783.74 2034,783.98 2035,784.21 2036,784.44 2037,784.66 2038,784.87 2039,785.08 2040,785.28 2041,785.48 2042,785.68 2043,785.86 2044,786.05 2045,786.22 2046,786.4 2047,786.56 2048,786.73 2049,786.88 2050,787.04 2051,787.19 2052,787.33 2053,787.47 2054,787.6 2055,787.73 2056,787.86 2057,787.98 2058,788.1 2059,788.21 2060,788.32 2061,788.42 2062,788.52 2063,788.62 2064,788.71 2065,788.8 2066,788.88 2067,788.96 2068,789.04 2069,789.11 2070,789.18 2071,789.24 2072,789.31 2073,789.37 2074,789.42 2075,789.47 2076,789.52 2077,789.57 2078,789.61 2079,789.65 2080,789.69 2081,789.72 2082,789.75 2083,789.78 2084,789.81 2085,789.83 2086,789.85 2087,789.87 2088,789.88 2089,789.9 2090,789.91 2091,789.92 2092,789.92 2093,789.93 2094,789.93 2095,789.93 2096,789.92 2097,789.92 2098,789.91 2099,789.91 2100,789.9 2101,789.88 2102,789.87 2103,789.86 2104,789.84 2105,789.82 2106,789.8 2107,789.78 2108,789.76 2109,789.74 2110,789.71 2111,789.69 2112,789.66 2113,789.64 2114,789.61 2115,789.58 2116,789.55 2117,789.52 2118,789.49 2119,789.46 2120,789.43 2121,789.39 2122,789.36 2123,789.33 2124,789.29 2125,789.26 2126,789.23 2127,789.19 2128,789.16 2129,789.12 2130,789.09 2131,789.06 2132,789.02 2133,788.99 2134,788.96 2135,788.92 2136,788.89 2137,788.86 2138,788.83 2139,788.8 2140,788.77 2141,788.74 2142,788.71 2143,788.68 2144,788.66 2145,788.63 2146,788.61 2147,788.59 2148,788.56 2149,788.54 2150,788.52 2151,788.51 2152,788.49 2153,788.47 2154,788.46 2155,788.45 2156,788.44 2157,788.43 2158,788.42 2159,788.41 2160,788.41 2161,788.4 2162,788.4 2163,788.4 2164,788.4 2165,788.41 2166,788.41 2167,788.41 2168,788.42 2169,788.43 2170,788.44 2171,788.45 2172,788.47 2173,788.48 2174,788.5 2175,788.52 2176,788.54 2177,788.56 2178,788.58 2179,788.61 2180,788.64 2181,788.66 2182,788.69 2183,788.73 2184,788.76 2185,788.8 2186,788.83 2187,788.87 2188,788.91 2189,788.96 2190,789 2191,789.05 2192,789.1 2193,789.15 2194,789.2 2195,789.25 2196,789.31 2197,789.37 2198,789.43 2199,789.49 2200,789.55 2201,789.61 2202,789.68 2203,789.74 2204,789.81 2205,789.88 2206,789.95 2207,790.02 2208,790.09 2209,790.16 2210,790.24 2211,790.31 2212,790.39 2213,790.47 2214,790.54 2215,790.62 2216,790.7 2217,790.78 2218,790.86 2219,790.94 2220,791.02 2221,791.11 2222,791.19 2223,791.27 2224,791.35 2225,791.44 2226,791.52 2227,791.6 2228,791.69 2229,791.77 2230,791.85 2231,791.94 2232,792.02 2233,792.1 2234,792.18 2235,792.27 2236,792.35 2237,792.43 2238,792.51 2239,792.59 2240,792.67 2241,792.75 2242,792.83 2243,792.91 2244,792.99 2245,793.06 2246,793.14 2247,793.21 2248,793.29 2249,793.36 2250,793.43 2251,793.5 2252,793.57 2253,793.64 2254,793.71 2255,793.77 2256,793.84 2257,793.9 2258,793.96 2259,794.02 2260,794.08 2261,794.14 2262,794.19 2263,794.24 2264,794.3 2265,794.35 2266,794.39 2267,794.44 2268,794.48 2269,794.52 2270,794.56 2271,794.6 2272,794.64 2273,794.67 2274,794.7 2275,794.73 2276,794.76 2277,794.78 2278,794.8 2279,794.82 2280,794.84 2281,794.85 2282,794.86 2283,794.87 2284,794.87 2285,794.88 2286,794.87 2287,794.87 2288,794.86 2289,794.85 2290,794.84" stroke="#238a3c"/>
<polyline points="1470,708.64 1471,708.96 1472,709.28 1473,709.6 1474,709.91 1475,710.22 1476,710.52 1477,710.82 1478,711.11 1479,711.4 1480,711.68 1481,711.96 1482,712.23 1483,712.5 1484,712.77 1485,713.03 1486,713.29 1487,713.54 1488,713.79 1489,714.03 1490,714.27 1491,714.5 1492,714.73 1493,714.96 1494,715.18 1495,715.4 1496,715.61 1497,715.82 1498,716.03 1499,716.23 1500,716.43 1501,716.62 1502,716.81 1503,717 1504,717.18 1505,717.36 1506,717.54 1507,717.71 1508,717.88 1509,718.04 1510,718.2 1511,718.36 1512,718.51 1513,718.66 1514,718.81 1515,718.95 1516,719.09 1517,719.22 1518,719.36 1519,719.49 1520,719.61 1521,719.73 1522,719.85 1523,719.97 1524,720.08 1525,720.19 1526,720.3 1527,720.4 1528,720.5 1529,720.6 1530,720.7 1531,720.79 1532,720.88 1533,720.96 1534,721.04 1535,721.13 1536,721.2 1537,721.28 1538,721.35 1539,721.42 1540,721.49 1541,721.55 1542,721.61 1543,721.67 1544,721.73 1545,721.78 1546,721.83 1547,721.88 1548,721.93 1549,721.97 1550,722.01 1551,722.05 1552,722.09 1553,722.13 1554,722.16 1555,722.19 1556,722.22 1557,722.24 1558,722.27 1559,722.29 1560,722.31 1561,722.33 1562,722.35 1563,722.36 1564,722.37 1565,722.38 1566,722.39 1567,722.4 1568,722.41 1569,722.41 1570,722.41 1571,722.41 1572,722.41 1573,722.41 1574,722.4 1575,722.4 1576,722.39 1577,722.38 1578,722.37 1579,722.36 1580,722.35 1581,722.33 1582,722.32 1583,722.3 1584,722.28 1585,722.26 1586,722.24 1587,722.22 1588,722.2 1589,722.18 1590,722.15 1591,722.13 1592,722.1 1593,722.07 1594,722.04 1595,722.01 1596,721.98 1597,721.95 1598,721.92 1599,721.89 1600,721.86 1601,721.82 1602,721.79 1603,721.75 1604,721.72 1605,721.68 1606,721.64 1607,721.61 1608,721.57 1609,721.53 1610,721.49 1611,721.45 1612,721.42 1613,721.38 1614,721.34 1615,721.3 1616,721.26 1617,721.22 1618,721.18 1619,721.14 1620,721.09 1621,721.05 1622,721.01 1623,720.97 1624,720.93 1625,720.89 1626,720.85 1627,720.81 1628,720.77 1629,720.73 1630,720.69 1631,720.65 1632,720.62 1633,720.58 1634,720.54 1635,720.5 1636,720.47 1637,720.43 1638,720.39 1639,720.36 1640,720.32 1641,720.29 1642,720.25 1643,720.22 1644,720.18 1645,720.15 1646,720.12 1647,720.08 1648,720.05 1649,720.02 1650,719.98 1651,719.95 1652,719.92 1653,719.89 1654,719.85 1655,719.82 1656,719.79 1657,719.76 1658,719.72 1659,719.69 1660,719.66 1661,719.62 1662,719.59 1663,719.56 1664,719.52 1665,719.49 1666,719.46 1667,719.42 1668,719.39 1669,719.35 1670,719.32 1671,719.28 1672,719.24 1673,719.21 1674,719.17 1675,719.13 1676,719.1 1677,719.06 1678,719.02 1679,718.98 1680,718.94 1681,718.9 1682,718.86 1683,718.81 1684,718.77 1685,718.73 1686,718.68 1687,718.64 1688,718.59 1689,718.55 1690,718.5 1691,718.45 1692,718.4 1693,718.35 1694,718.3 1695,718.25 1696,718.19 1697,718.14 1698,718.08 1699,718.03 1700,717.97 1701,717.91 1702,717.85 1703,717.79 1704,717.73 1705,717.67 1706,717.6 1707,717.54 1708,717.47 1709,717.4 1710,717.33 1711,717.26 1712,717.19 1713,717.11 1714,717.04 1715,716.96 1716,716.88 1717,716.8 1718,716.72 1719,716.64 1720,716.56 1721,716.47 1722,716.38 1723,716.29 1724,716.2 1725,716.11 1726,716.02 1727,715.92 1728,715.82 1729,715.72 1730,715.62 1731,715.52 1732,715.42 1733,715.31 1734,715.21 1735,715.1 1736,714.99 1737,714.89 1738,714.78 1739,714.67 1740,714.56 1741,714.46 1742,714.35 1743,714.24 1744,714.14 1745,714.03 1746,713.93 1747,713.82 1748,713.72 1749,713.62 1750,713.52 1751,713.43 1752,713.33 1753,713.24 1754,713.15 1755,713.06 1756,712.97 1757,712.89 1758,712.81 1759,712.73 1760,712.66 1761,712.59 1762,712.52 1763,712.45 1764,712.39 1765,712.34 1766,712.28 1767,712.23 1768,712.18 1769,712.14 1770,712.1 1771,712.06 1772,712.03 1773,711.99 1774,711.97 1775,711.94 1776,711.92 1777,711.9 1778,711.89 1779,711.88 1780,711.87 1781,711.86 1782,711.86 1783,711.86 1784,711.87 1785,711.88 1786,711.89 1787,711.9 1788,711.92 1789,711.94 1790,711.97 1791,711.99 1792,712.02 1793,712.06 1794,712.09 1795,712.13 1796,712.18 1797,712.22 1798,712.27 1799,712.33 1800,712.38 1801,712.44 1802,712.5 1803,712.57 1804,712.64 1805,712.71 1806,712.78 1807,712.86 1808,712.94 1809,713.03 1810,713.11 1811,713.2 1812,713.3 1813,713.39 1814,713.49 1815,713.6 1816,713.7 1817,713.81 1818,713.92 1819,714.04 1820,714.15 1821,714.27 1822,714.4 1823,714.53 1824,714.66 1825,714.79 1826,714.92 1827,715.06 1828,715.2 1829,715.35 1830,715.5 1831,715.65 1832,715.8 1833,715.96 1834,716.12 1835,716.28 1836,716.45 1837,716.61 1838,716.79 1839,716.96 1840,717.14 1841,717.32 1842,717.5 1843,717.69 1844,717.88 1845,718.07 1846,718.26 1847,718.46 1848,718.66 1849,718.86 1850,719.07 1851,719.28 1852,719.49 1853,719.7 1854,719.92 1855,720.14 1856,720.37 1857,720.59 1858,720.82 1859,721.05 1860,721.29 1861,721.52 1862,721.76 1863,722.01 1864,722.25 1865,722.5 1866,722.75 1867,723.01 1868,723.26 1869,723.52 1870,723.78 1871,724.05 1872,724.32 1873,724.59 1874,724.86 1875,725.14 1876,725.42 1877,725.7 1878,725.98 1879,726.27 1880,726.56 1881,726.85 1882,727.14 1883,727.44 1884,727.74 1885,728.04 1886,728.35 1887,728.66 1888,728.97 1889,729.28 1890,729.6 1891,729.92 1892,730.24 1893,730.56 1894,730.89 1895,731.22 1896,731.55 1897,731.88 1898,732.22 1899,732.56 1900,732.9 1901,733.25 1902,733.59 1903,733.94 1904,734.3 1905,734.65 1906,735.01 1907,735.37 1908,735.73 1909,736.1 1910,736.46 1911,736.83 1912,737.21 1913,737.58 1914,737.96 1915,738.34 1916,738.72 1917,739.11 1918,739.49 1919,739.88 1920,740.28 1921,740.67 1922,741.07 1923,741.47 1924,741.87 1925,742.27 1926,742.68 1927,743.09 1928,743.5 1929,743.92 1930,744.33 1931,744.75 1932,745.18 1933,745.6 1934,746.03 1935,746.45 1936,746.89 1937,747.32 1938,747.75 1939,748.19 1940,748.63 1941,749.08 1942,749.52 1943,749.97 1944,750.42 1945,750.87 1946,751.33 1947,751.78 1948,752.24 1949,752.7 1950,753.16 1951,753.62 1952,754.08 1953,754.55 1954,755.01 1955,755.48 1956,755.94 1957,756.41 1958,756.87 1959,757.34 1960,757.81 1961,758.27 1962,758.74 1963,759.2 1964,759.67 1965,760.13 1966,760.59 1967,761.06 1968,761.52 1969,761.97 1970,762.43 1971,762.89 1972,763.34 1973,763.79 1974,764.24 1975,764.69 1976,765.14 1977,765.58 1978,766.02 1979,766.45 1980,766.89 1981,767.32 1982,767.75 1983,768.17 1984,768.59 1985,769.01 1986,769.42 1987,769.83 1988,770.23 1989,770.63 1990,771.03 1991,771.42 1992,771.81 1993,772.19 1994,772.57 1995,772.94 1996,773.3 1997,773.66 1998,774.02 1999,774.37 2000,774.71 2001,775.05 2002,775.38 2003,775.7 2004,776.02 2005,776.33 2006,776.63 2007,776.93 2008,777.22 2009,777.5 2010,777.78 2011,778.05 2012,778.31 2013,778.57 2014,778.82 2015,779.07 2016,779.31 2017,779.54 2018,779.77 2019,779.99 2020,780.2 2021,780.41 2022,780.62 2023,780.81 2024,781.01 2025,781.19 2026,781.38 2027,781.55 2028,781.73 2029,781.89 2030,782.06 2031,782.22 2032,782.37 2033,782.52 2034,782.66 2035,782.8 2036,782.94 2037,783.07 2038,783.2 2039,783.32 2040,783.44 2041,783.56 2042,783.67 2043,783.78 2044,783.88 2045,783.99 2046,784.08 2047,784.18 2048,784.27 2049,784.36 2050,784.45 2051,784.53 2052,784.61 2053,784.69 2054,784.76 2055,784.84 2056,784.91 2057,784.98 2058,785.04 2059,785.11 2060,785.17 2061,785.23 2062,785.29 2063,785.34 2064,785.4 2065,785.45 2066,785.5 2067,785.55 2068,785.6 2069,785.65 2070,785.7 2071,785.75 2072,785.79 2073,785.84 2074,785.88 2075,785.92 2076,785.97 2077,786.01 2078,786.05 2079,786.09 2080,786.13 2081,786.17 2082,786.21 2083,786.25 2084,786.29 2085,786.33 2086,786.37 2087,786.41 2088,786.45 2089,786.48 2090,786.52 2091,786.56 2092,786.59 2093,786.63 2094,786.66 2095,786.7 2096,786.73 2097,786.76 2098,786.8 2099,786.83 2100,786.86 2101,786.89 2102,786.92 2103,786.95 2104,786.98 2105,787.01 2106,787.04 2107,787.06 2108,787.09 2109,787.12 2110,787.14 2111,787.17 2112,787.19 2113,787.21 2114,787.23 2115,787.26 2116,787.28 2117,787.3 2118,787.32 2119,787.34 2120,787.36 2121,787.37 2122,787.39 2123,787.41 2124,787.42 2125,787.43 2126,787.45 2127,787.46 2128,787.47 2129,787.48 2130,787.49 2131,787.5 2132,787.51 2133,787.52 2134,787.53 2135,787.53 2136,787.54 2137,787.54 2138,787.55 2139,787.55 2140,787.55 2141,787.55 2142,787.55 2143,787.55 2144,787.55 2145,787.55 2146,787.54 2147,787.54 2148,787.53 2149,787.52 2150,787.52 2151,787.51 2152,787.5 2153,787.49 2154,787.47 2155,787.46 2156,787.45 2157,787.43 2158,787.42 2159,787.4 2160,787.38 2161,787.36 2162,787.34 2163,787.32 2164,787.3 2165,787.27 2166,787.25 2167,787.22 2168,787.2 2169,787.17 2170,787.15 2171,787.12 2172,787.1 2173,787.07 2174,787.05 2175,787.03 2176,787.02 2177,787 2178,786.99 2179,786.98 2180,786.98 2181,786.98 2182,786.98 2183,786.99 2184,787.01 2185,787.03 2186,787.05 2187,787.08 2188,787.12 2189,787.17 2190,787.22 2191,787.28 2192,787.35 2193,787.42 2194,787.51 2195,787.6 2196,787.7 2197,787.8 2198,787.91 2199,788.02 2200,788.14 2201,788.26 2202,788.38 2203,788.51 2204,788.64 2205,788.77 2206,788.9 2207,789.03 2208,789.17 2209,789.31 2210,789.44 2211,789.58 2212,789.72 2213,789.86 2214,790.01 2215,790.15 2216,790.29 2217,790.43 2218,790.58 2219,790.72 2220,790.87 2221,791.01 2222,791.15 2223,791.3 2224,791.44 2225,791.58 2226,791.72 2227,791.87 2228,792.01 2229,792.15 2230,792.28 2231,792.42 2232,792.56 2233,792.69 2234,792.83 2235,792.96 2236,793.09 2237,793.22 2238,793.34 2239,793.47 2240,793.59 2241,793.71 2242,793.82 2243,793.94 2244,794.05 2245,794.16 2246,794.26 2247,794.37 2248,794.47 2249,794.56 2250,794.66 2251,794.75 2252,794.83 2253,794.91 2254,794.99 2255,795.07 2256,795.14 2257,795.2 2258,795.26 2259,795.32 2260,795.37 2261,795.42 2262,795.47 2263,795.51 2264,795.54 2265,795.57 2266,795.59 2267,795.61 2268,795.62 2269,795.63 2270,795.63 2271,795.62 2272,795.61 2273,795.6 2274,795.57 2275,795.55 2276,795.51 2277,795.47 2278,795.42 2279,795.36 2280,795.3 2281,795.23 2282,795.16 2283,795.07 2284,794.98 2285,794.89 2286,794.78 2287,794.67 2288,794.55 2289,794.42 2290,794.28" stroke="#19ea45"/>
</g>
<path d="M1470.1,140.2 V794.55 H2286" fill="none" stroke="#1a1a1a" stroke-width="3.4"/>
<line x1="1461.1" y1="780.33" x2="1470.1" y2="780.33" stroke="#1a1a1a" stroke-width="3.2" />
<line x1="1456.1" y1="709.2" x2="1470.1" y2="709.2" stroke="#1a1a1a" stroke-width="3.2" />
<line x1="1461.1" y1="638.08" x2="1470.1" y2="638.08" stroke="#1a1a1a" stroke-width="3.2" />
<line x1="1456.1" y1="566.95" x2="1470.1" y2="566.95" stroke="#1a1a1a" stroke-width="3.2" />
<line x1="1461.1" y1="495.83" x2="1470.1" y2="495.83" stroke="#1a1a1a" stroke-width="3.2" />
<line x1="1456.1" y1="424.7" x2="1470.1" y2="424.7" stroke="#1a1a1a" stroke-width="3.2" />
<line x1="1461.1" y1="353.57" x2="1470.1" y2="353.57" stroke="#1a1a1a" stroke-width="3.2" />
<line x1="1456.1" y1="282.45" x2="1470.1" y2="282.45" stroke="#1a1a1a" stroke-width="3.2" />
<line x1="1461.1" y1="211.32" x2="1470.1" y2="211.32" stroke="#1a1a1a" stroke-width="3.2" />
<line x1="1456.1" y1="140.2" x2="1470.1" y2="140.2" stroke="#1a1a1a" stroke-width="3.2" />
<line x1="1469.6" y1="794.55" x2="1469.6" y2="808.55" stroke="#1a1a1a" stroke-width="3.2" />
<line x1="1551.24" y1="794.55" x2="1551.24" y2="803.55" stroke="#1a1a1a" stroke-width="3.2" />
<line x1="1632.88" y1="794.55" x2="1632.88" y2="808.55" stroke="#1a1a1a" stroke-width="3.2" />
<line x1="1714.52" y1="794.55" x2="1714.52" y2="803.55" stroke="#1a1a1a" stroke-width="3.2" />
<line x1="1796.16" y1="794.55" x2="1796.16" y2="808.55" stroke="#1a1a1a" stroke-width="3.2" />
<line x1="1877.8" y1="794.55" x2="1877.8" y2="803.55" stroke="#1a1a1a" stroke-width="3.2" />
<line x1="1959.44" y1="794.55" x2="1959.44" y2="808.55" stroke="#1a1a1a" stroke-width="3.2" />
<line x1="2041.08" y1="794.55" x2="2041.08" y2="803.55" stroke="#1a1a1a" stroke-width="3.2" />
<line x1="2122.72" y1="794.55" x2="2122.72" y2="808.55" stroke="#1a1a1a" stroke-width="3.2" />
<line x1="2204.36" y1="794.55" x2="2204.36" y2="803.55" stroke="#1a1a1a" stroke-width="3.2" />
<line x1="2286" y1="794.55" x2="2286" y2="808.55" stroke="#1a1a1a" stroke-width="3.2" />
<text x="1448.7" y="720.7" font-family="'Liberation Sans', Arial, sans-serif" font-size="42.5" font-weight="bold" fill="#111" text-anchor="end" letter-spacing="1.2">0.10</text>
<text x="1448.7" y="578.45" font-family="'Liberation Sans', Arial, sans-serif" font-size="42.5" font-weight="bold" fill="#111" text-anchor="end" letter-spacing="1.2">0.15</text>
<text x="1448.7" y="436.2" font-family="'Liberation Sans', Arial, sans-serif" font-size="42.5" font-weight="bold" fill="#111" text-anchor="end" letter-spacing="1.2">0.20</text>
<text x="1448.7" y="293.95" font-family="'Liberation Sans', Arial, sans-serif" font-size="42.5" font-weight="bold" fill="#111" text-anchor="end" letter-spacing="1.2">0.25</text>
<text x="1448.7" y="151.7" font-family="'Liberation Sans', Arial, sans-serif" font-size="42.5" font-weight="bold" fill="#111" text-anchor="end" letter-spacing="1.2">0.30</text>
<text x="1469.6" y="852" font-family="'Liberation Sans', Arial, sans-serif" font-size="42.5" font-weight="bold" fill="#111" text-anchor="middle" >450</text>
<text x="1632.88" y="852" font-family="'Liberation Sans', Arial, sans-serif" font-size="42.5" font-weight="bold" fill="#111" text-anchor="middle" >500</text>
<text x="1796.16" y="852" font-family="'Liberation Sans', Arial, sans-serif" font-size="42.5" font-weight="bold" fill="#111" text-anchor="middle" >550</text>
<text x="1959.44" y="852" font-family="'Liberation Sans', Arial, sans-serif" font-size="42.5" font-weight="bold" fill="#111" text-anchor="middle" >600</text>
<text x="2122.72" y="852" font-family="'Liberation Sans', Arial, sans-serif" font-size="42.5" font-weight="bold" fill="#111" text-anchor="middle" >650</text>
<text x="2286" y="852" font-family="'Liberation Sans', Arial, sans-serif" font-size="42.5" font-weight="bold" fill="#111" text-anchor="middle" >700</text>
<text x="1651" y="919.6" font-family="'Liberation Sans', Arial, sans-serif" font-size="52" font-weight="bold" fill="#111" text-anchor="start" textLength="415" lengthAdjust="spacingAndGlyphs">Wavelength (nm)</text>
<text transform="translate(1319.8,700) rotate(-90)" font-family="'Liberation Sans', Arial, sans-serif" font-size="52" font-weight="bold" fill="#111" textLength="437" lengthAdjust="spacingAndGlyphs">Absorbance (a.u.)</text>
<text x="1249.5" y="142" font-family="'Liberation Serif', 'Times New Roman', serif" font-size="59" font-weight="bold" fill="#111" text-anchor="start" textLength="76" lengthAdjust="spacingAndGlyphs">(b)</text>
</svg>
</body></html>
